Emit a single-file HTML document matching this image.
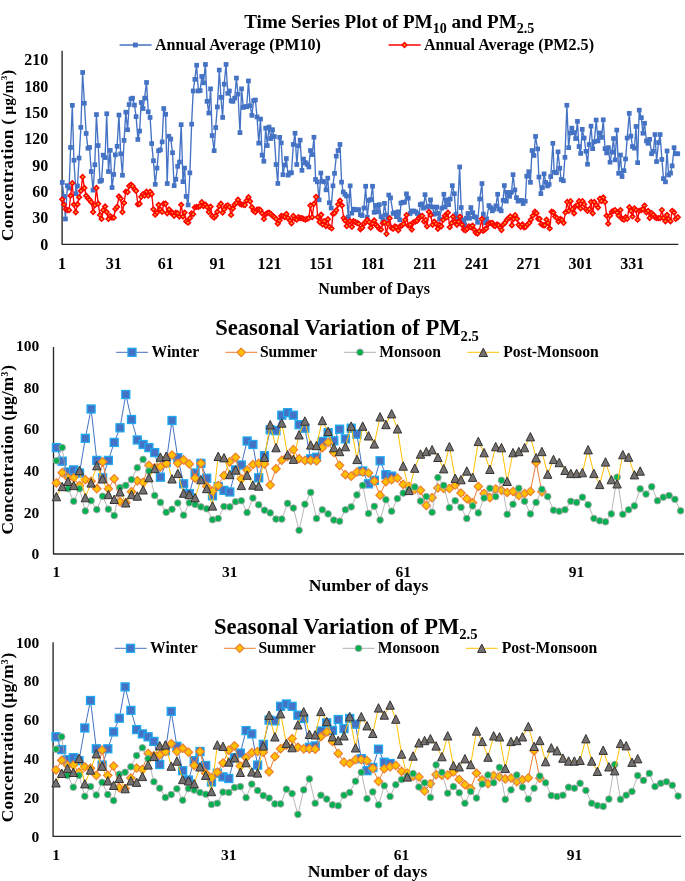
<!DOCTYPE html>
<html lang="en"><head><meta charset="utf-8"><title>PM10 and PM2.5 charts</title>
<style>
html,body{margin:0;padding:0;background:#fff;}
body{width:685px;height:881px;overflow:hidden;}
svg{display:block;}
text{font-family:"Liberation Serif", "Times New Roman", serif;font-weight:bold;fill:#000;}
.t1{font-size:19.1px;}
.t2{font-size:22.6px;}
.lg1{font-size:16.1px;}
.lg2{font-size:15.65px;}
.tk{font-size:16px;}
.tk2{font-size:15.5px;}
.ax1{font-size:16px;}
.ax2{font-size:17.55px;}
.ay1{font-size:17.35px;}
.ay2{font-size:17.33px;}
</style></head><body>
<svg width="685" height="881" viewBox="0 0 685 881">
<rect x="0" y="0" width="685" height="881" fill="#ffffff"/>
<g id="chart1">
<text class="t1" x="389.2" y="27.6" text-anchor="middle">Time Series Plot of PM<tspan dy="5.3" font-size="14px">10</tspan><tspan dy="-5.3"> and PM</tspan><tspan dy="5.3" font-size="14px">2.5</tspan></text>
<line x1="119.6" y1="45" x2="151.6" y2="45" stroke="#4472C4" stroke-width="1.5"/>
<rect x="133" y="42.6" width="4.8" height="4.8" fill="#4472C4"/>
<text class="lg1" x="155" y="49.9">Annual Average (PM10)</text>
<line x1="388.6" y1="45" x2="420.7" y2="45" stroke="#FF0000" stroke-width="1.5"/>
<path d="M404.5,42.65 l2.35,2.35 l-2.35,2.35 l-2.35,-2.35 z" fill="#F2A122" stroke="#FF0000" stroke-width="1.5"/>
<text class="lg1" x="424" y="49.9">Annual Average (PM2.5)</text>
<polyline points="62.1,50.8 62.1,244.35 678.3,244.35" fill="none" stroke="#262626" stroke-width="1.35" stroke-linejoin="round"/>
<text class="tk" x="48.3" y="249.8" text-anchor="end">0</text>
<text class="tk" x="48.3" y="223.4" text-anchor="end">30</text>
<text class="tk" x="48.3" y="197.1" text-anchor="end">60</text>
<text class="tk" x="48.3" y="170.7" text-anchor="end">90</text>
<text class="tk" x="48.3" y="144.4" text-anchor="end">120</text>
<text class="tk" x="48.3" y="118" text-anchor="end">150</text>
<text class="tk" x="48.3" y="91.7" text-anchor="end">180</text>
<text class="tk" x="48.3" y="65.3" text-anchor="end">210</text>
<text class="tk" x="62" y="268.6" text-anchor="middle">1</text>
<text class="tk" x="113.8" y="268.6" text-anchor="middle">31</text>
<text class="tk" x="165.7" y="268.6" text-anchor="middle">61</text>
<text class="tk" x="217.5" y="268.6" text-anchor="middle">91</text>
<text class="tk" x="269.4" y="268.6" text-anchor="middle">121</text>
<text class="tk" x="321.2" y="268.6" text-anchor="middle">151</text>
<text class="tk" x="373.1" y="268.6" text-anchor="middle">181</text>
<text class="tk" x="424.9" y="268.6" text-anchor="middle">211</text>
<text class="tk" x="476.8" y="268.6" text-anchor="middle">241</text>
<text class="tk" x="528.6" y="268.6" text-anchor="middle">271</text>
<text class="tk" x="580.5" y="268.6" text-anchor="middle">301</text>
<text class="tk" x="632.3" y="268.6" text-anchor="middle">331</text>
<text class="ax1" x="374.2" y="293.8" text-anchor="middle">Number of Days</text>
<text class="ay1" transform="translate(12.6,241.1) rotate(-90)"><tspan letter-spacing="0.38">Concentration</tspan> ( <tspan font-size="15.4px" letter-spacing="0.2">µg/m</tspan><tspan dy="-5.5" font-size="9px" letter-spacing="0.4">3</tspan><tspan dy="5.5">)</tspan></text>
<polyline points="62.2,182.5 64,196.4 65.4,218.9 67.4,185.7 69.1,188.1 70.6,147.4 72.3,105.4 73.9,160.3 76,193.7 77.5,186 79.1,158 80.9,127.4 82.6,72.5 84.4,103.3 86.2,133.5 87.9,148.2 89.5,147.4 91.3,171.5 93.1,190.2 94.8,164.8 96.4,114.5 98.2,145.5 100,181.3 101.6,180.4 103.2,155.2 105.1,157.6 106.7,113.7 108.5,171.5 110.2,150.3 112,187.6 113.8,174.4 115.4,154.8 117.1,146.3 118.9,115 120.7,153.9 122.4,175.2 124.1,140.4 125.8,112.1 127.6,129.8 129.2,104.6 131,98.9 132.6,98.1 134.5,105.1 136.1,116.6 137.9,139.4 139.6,131.1 141.2,102.5 143,108.6 144.6,98.1 146.5,82.4 148.3,111.8 150.1,117.4 151.7,143.6 153.4,160.8 155.2,184.4 157,168 158.6,150.7 160.3,149.9 162.1,141.8 163.7,108.6 165.6,114.2 167.2,183.6 168.8,136.2 170.8,139.1 172.5,152.7 174.1,185.7 175.9,179.2 177.7,166.4 179.4,162.1 181.2,124.6 183,181.6 184.6,168 186.2,196.4 188.1,204.9 189.9,172.8 191.6,124.2 193.2,90.9 194.8,79.4 196.6,65.2 198.4,90.9 200.1,90.6 201.8,76.5 203.5,82.9 205.4,64.4 207.1,101.4 208.8,113.1 210.6,88.8 212.2,135.6 214.1,150.7 215.7,127.5 217.3,107 219.3,70 220.9,97.3 222.6,117.4 224.2,84.2 226,64.4 227.8,93.3 229.4,90.9 231.1,100.9 232.9,101.4 234.7,98.1 236.4,78.1 238,94.1 240,132.7 241.6,88.8 243.3,107.5 244.9,106.7 246.7,106.7 248.5,81 250.1,105.7 251.9,115.3 253.6,100.6 255.4,100.1 257,116.9 258.8,143.1 260.5,119 262.1,155.2 263.9,161.3 265.7,128.2 267.3,145.5 269,127.1 270.8,138.5 272.5,129.7 274.3,136.6 276.1,164.5 277.8,183.5 279.6,137.4 281.2,142.8 283,174.6 284.8,165 286.4,158.6 288.1,175.1 289.9,173 291.5,172.7 293.3,144.5 295,133.2 296.8,164.5 298.4,145.7 300.2,140.1 301.9,170.3 303.5,159.1 305.3,162.6 307.1,164.2 308.8,166.9 310.4,150.6 312.2,154.6 314,137.2 315.6,179.5 317.4,181.9 319.1,199.9 320.9,173 322.5,181.4 324.3,181.9 326,189.9 327.8,178.2 329.4,202.7 331.2,208 332.9,185.9 334.5,173.4 336.3,156.2 338.1,150.6 340,144.5 341.6,182.2 343.2,192 345,194.2 346.6,196 348.3,217.2 350.1,185.9 351.9,213.2 353.5,209.2 355.2,209.6 357,210 358.6,209.6 360.4,214.8 362.2,215.6 363.9,208 365.7,186.2 367.3,217.2 369.1,200.3 370.7,199.5 372.6,186.2 374.2,212.4 375.9,205.4 377.5,211.9 379.3,204.6 381.1,216.7 382.8,219.9 384.5,203.4 386.2,215.1 388,218.3 388.8,195 390.6,197.9 393.1,213.5 394.9,212.7 396.5,216.7 398.3,211.9 399.7,219.9 401,203 402.9,202.2 404.5,202.2 406.5,193.9 408.2,198.2 410.1,213.5 412.1,211.1 413.8,211.1 415.6,211.9 417.4,213.5 419,215.1 420.3,204.6 421.9,203.8 423.5,208.2 425.1,194.7 427.3,207.1 428.9,206.2 430.5,199.8 432.6,207.1 434.2,214.3 436.6,207.1 437.9,213.5 439.5,219.1 441.8,208.2 443.9,194.2 445.2,207.1 446.6,199.8 448.7,204.6 450.3,199 452.4,185.7 454.3,193.7 455.9,214.3 457.2,218.3 459.6,166.9 461.2,207.5 462.8,219.9 464.7,224.7 466.4,218.3 468,213.5 469.6,218.3 470.8,207.5 472.8,212.7 474.4,216.7 476,217.5 477.6,222.3 479.7,199 481.9,183.5 483.4,214 485.4,222.8 486.6,218.8 489,205.5 490.6,207.6 492.3,210.8 493.9,209.2 495.9,206 497.6,194.3 499.1,209.2 501.2,210.8 503.1,200.4 504.4,185.6 506.3,201.2 507.6,192.3 509.5,196.4 511.5,192.3 513.1,174.7 514.8,189.9 516.4,197.6 518,201.2 519.6,200.4 521.6,200.4 523.2,203.6 525.3,201.2 526.7,176.3 528.8,171.8 530.4,182.4 532,150.6 533.9,155.4 535.5,136.5 537.6,149 538.9,177.1 540.8,193.6 542.4,187.5 544.1,173.9 545.7,182.4 547.6,185.9 549.2,184.3 550.8,176.6 552.9,143.4 554.2,172.3 556.4,172.7 558,151.9 559.8,168.2 561.2,179.5 563.3,180.8 564.9,157.3 566.9,105.3 568.6,147.7 570.2,132.9 571.8,128.1 573.8,132.6 575.7,138.5 577.4,121.4 579,146.6 580.6,153.5 582.2,129.4 584.2,138.1 585.9,151.4 587.5,164.2 589.1,144.5 591.1,126.2 592.7,148.7 594.3,141.8 596.2,120.1 598,140.9 599.9,132.9 601.5,137.4 603.3,119.8 605,148.7 606.6,153 608.4,147.7 610,162.1 611.9,152.2 613.5,138.5 615.1,159.9 616.8,130 618.7,173.4 620.4,155.1 622.1,176.6 624,170.7 625.6,158.9 627.2,138.1 629.3,113.3 630.9,136.1 632.5,146.6 634.4,148.2 636,126.5 637.6,162.6 639.2,110.1 641.3,117.7 642.9,133.2 644.5,123.3 646.5,140.9 648.1,143.4 649.7,139.3 651.6,153.8 653.4,151.4 655,134.5 656.6,161.5 658.5,142.6 660.1,134.5 661.9,159.4 663.5,178.7 665.4,181.9 667,150.9 668.6,175 670.5,173.1 672.2,165.8 674.1,147.7 675.7,153.8 677.8,153.8" fill="none" stroke="#4472C4" stroke-width="1.35" stroke-linejoin="round" />
<g fill="#4472C4">
<rect x="59.9" y="180.1" width="4.7" height="4.7"/>
<rect x="61.6" y="194.1" width="4.7" height="4.7"/>
<rect x="63.1" y="216.6" width="4.7" height="4.7"/>
<rect x="65" y="183.3" width="4.7" height="4.7"/>
<rect x="66.8" y="185.7" width="4.7" height="4.7"/>
<rect x="68.2" y="145.1" width="4.7" height="4.7"/>
<rect x="70" y="103" width="4.7" height="4.7"/>
<rect x="71.6" y="157.9" width="4.7" height="4.7"/>
<rect x="73.7" y="191.3" width="4.7" height="4.7"/>
<rect x="75.1" y="183.6" width="4.7" height="4.7"/>
<rect x="76.7" y="155.7" width="4.7" height="4.7"/>
<rect x="78.5" y="125" width="4.7" height="4.7"/>
<rect x="80.3" y="70.1" width="4.7" height="4.7"/>
<rect x="82" y="100.9" width="4.7" height="4.7"/>
<rect x="83.8" y="131.1" width="4.7" height="4.7"/>
<rect x="85.6" y="145.9" width="4.7" height="4.7"/>
<rect x="87.2" y="145.1" width="4.7" height="4.7"/>
<rect x="88.9" y="169.2" width="4.7" height="4.7"/>
<rect x="90.7" y="187.8" width="4.7" height="4.7"/>
<rect x="92.5" y="162.4" width="4.7" height="4.7"/>
<rect x="94.1" y="112.2" width="4.7" height="4.7"/>
<rect x="95.8" y="143.2" width="4.7" height="4.7"/>
<rect x="97.6" y="179" width="4.7" height="4.7"/>
<rect x="99.2" y="178" width="4.7" height="4.7"/>
<rect x="100.8" y="152.8" width="4.7" height="4.7"/>
<rect x="102.8" y="155.2" width="4.7" height="4.7"/>
<rect x="104.4" y="111.4" width="4.7" height="4.7"/>
<rect x="106.1" y="169.2" width="4.7" height="4.7"/>
<rect x="107.9" y="148" width="4.7" height="4.7"/>
<rect x="109.7" y="185.2" width="4.7" height="4.7"/>
<rect x="111.4" y="172.1" width="4.7" height="4.7"/>
<rect x="113" y="152.5" width="4.7" height="4.7"/>
<rect x="114.8" y="144" width="4.7" height="4.7"/>
<rect x="116.6" y="112.7" width="4.7" height="4.7"/>
<rect x="118.3" y="151.5" width="4.7" height="4.7"/>
<rect x="120.1" y="172.9" width="4.7" height="4.7"/>
<rect x="121.7" y="138" width="4.7" height="4.7"/>
<rect x="123.5" y="109.8" width="4.7" height="4.7"/>
<rect x="125.2" y="127.4" width="4.7" height="4.7"/>
<rect x="126.8" y="102.2" width="4.7" height="4.7"/>
<rect x="128.6" y="96.6" width="4.7" height="4.7"/>
<rect x="130.2" y="95.8" width="4.7" height="4.7"/>
<rect x="132.1" y="102.7" width="4.7" height="4.7"/>
<rect x="133.7" y="114.3" width="4.7" height="4.7"/>
<rect x="135.5" y="137.1" width="4.7" height="4.7"/>
<rect x="137.3" y="128.7" width="4.7" height="4.7"/>
<rect x="138.9" y="100.1" width="4.7" height="4.7"/>
<rect x="140.7" y="106.2" width="4.7" height="4.7"/>
<rect x="142.3" y="95.8" width="4.7" height="4.7"/>
<rect x="144.2" y="80.1" width="4.7" height="4.7"/>
<rect x="145.9" y="109.4" width="4.7" height="4.7"/>
<rect x="147.7" y="115.1" width="4.7" height="4.7"/>
<rect x="149.3" y="141.2" width="4.7" height="4.7"/>
<rect x="151.1" y="158.4" width="4.7" height="4.7"/>
<rect x="152.9" y="182" width="4.7" height="4.7"/>
<rect x="154.6" y="165.7" width="4.7" height="4.7"/>
<rect x="156.2" y="148.3" width="4.7" height="4.7"/>
<rect x="158" y="147.5" width="4.7" height="4.7"/>
<rect x="159.8" y="139.5" width="4.7" height="4.7"/>
<rect x="161.4" y="106.2" width="4.7" height="4.7"/>
<rect x="163.3" y="111.9" width="4.7" height="4.7"/>
<rect x="164.9" y="181.2" width="4.7" height="4.7"/>
<rect x="166.5" y="133.9" width="4.7" height="4.7"/>
<rect x="168.4" y="136.7" width="4.7" height="4.7"/>
<rect x="170.2" y="150.4" width="4.7" height="4.7"/>
<rect x="171.8" y="183.3" width="4.7" height="4.7"/>
<rect x="173.5" y="176.9" width="4.7" height="4.7"/>
<rect x="175.3" y="164" width="4.7" height="4.7"/>
<rect x="177.1" y="159.7" width="4.7" height="4.7"/>
<rect x="178.8" y="122.3" width="4.7" height="4.7"/>
<rect x="180.6" y="179.3" width="4.7" height="4.7"/>
<rect x="182.2" y="165.7" width="4.7" height="4.7"/>
<rect x="183.8" y="194.1" width="4.7" height="4.7"/>
<rect x="185.8" y="202.6" width="4.7" height="4.7"/>
<rect x="187.5" y="170.5" width="4.7" height="4.7"/>
<rect x="189.3" y="121.8" width="4.7" height="4.7"/>
<rect x="190.9" y="88.6" width="4.7" height="4.7"/>
<rect x="192.5" y="77" width="4.7" height="4.7"/>
<rect x="194.3" y="62.9" width="4.7" height="4.7"/>
<rect x="196" y="88.6" width="4.7" height="4.7"/>
<rect x="197.8" y="88.2" width="4.7" height="4.7"/>
<rect x="199.4" y="74.1" width="4.7" height="4.7"/>
<rect x="201.2" y="80.5" width="4.7" height="4.7"/>
<rect x="203.1" y="62.1" width="4.7" height="4.7"/>
<rect x="204.7" y="99" width="4.7" height="4.7"/>
<rect x="206.5" y="110.7" width="4.7" height="4.7"/>
<rect x="208.2" y="86.5" width="4.7" height="4.7"/>
<rect x="209.8" y="133.2" width="4.7" height="4.7"/>
<rect x="211.8" y="148.3" width="4.7" height="4.7"/>
<rect x="213.4" y="125.2" width="4.7" height="4.7"/>
<rect x="215" y="104.6" width="4.7" height="4.7"/>
<rect x="216.9" y="67.7" width="4.7" height="4.7"/>
<rect x="218.5" y="95" width="4.7" height="4.7"/>
<rect x="220.3" y="115.1" width="4.7" height="4.7"/>
<rect x="221.9" y="81.8" width="4.7" height="4.7"/>
<rect x="223.7" y="62.1" width="4.7" height="4.7"/>
<rect x="225.4" y="91" width="4.7" height="4.7"/>
<rect x="227" y="88.6" width="4.7" height="4.7"/>
<rect x="228.8" y="98.5" width="4.7" height="4.7"/>
<rect x="230.6" y="99" width="4.7" height="4.7"/>
<rect x="232.3" y="95.8" width="4.7" height="4.7"/>
<rect x="234.1" y="75.7" width="4.7" height="4.7"/>
<rect x="235.7" y="91.8" width="4.7" height="4.7"/>
<rect x="237.6" y="130.3" width="4.7" height="4.7"/>
<rect x="239.2" y="86.5" width="4.7" height="4.7"/>
<rect x="241" y="105.1" width="4.7" height="4.7"/>
<rect x="242.6" y="104.3" width="4.7" height="4.7"/>
<rect x="244.4" y="104.3" width="4.7" height="4.7"/>
<rect x="246.1" y="78.6" width="4.7" height="4.7"/>
<rect x="247.7" y="103.3" width="4.7" height="4.7"/>
<rect x="249.5" y="113" width="4.7" height="4.7"/>
<rect x="251.3" y="98.2" width="4.7" height="4.7"/>
<rect x="253" y="97.7" width="4.7" height="4.7"/>
<rect x="254.6" y="114.6" width="4.7" height="4.7"/>
<rect x="256.4" y="140.8" width="4.7" height="4.7"/>
<rect x="258.2" y="116.7" width="4.7" height="4.7"/>
<rect x="259.8" y="152.8" width="4.7" height="4.7"/>
<rect x="261.5" y="158.9" width="4.7" height="4.7"/>
<rect x="263.3" y="125.8" width="4.7" height="4.7"/>
<rect x="264.9" y="143.2" width="4.7" height="4.7"/>
<rect x="266.7" y="124.7" width="4.7" height="4.7"/>
<rect x="268.4" y="136.2" width="4.7" height="4.7"/>
<rect x="270.2" y="127.3" width="4.7" height="4.7"/>
<rect x="272" y="134.2" width="4.7" height="4.7"/>
<rect x="273.7" y="162.2" width="4.7" height="4.7"/>
<rect x="275.5" y="181.1" width="4.7" height="4.7"/>
<rect x="277.3" y="135" width="4.7" height="4.7"/>
<rect x="278.9" y="140.5" width="4.7" height="4.7"/>
<rect x="280.6" y="172.3" width="4.7" height="4.7"/>
<rect x="282.4" y="162.7" width="4.7" height="4.7"/>
<rect x="284" y="156.2" width="4.7" height="4.7"/>
<rect x="285.8" y="172.8" width="4.7" height="4.7"/>
<rect x="287.5" y="170.7" width="4.7" height="4.7"/>
<rect x="289.1" y="170.4" width="4.7" height="4.7"/>
<rect x="290.9" y="142.1" width="4.7" height="4.7"/>
<rect x="292.7" y="130.9" width="4.7" height="4.7"/>
<rect x="294.4" y="162.2" width="4.7" height="4.7"/>
<rect x="296.1" y="143.4" width="4.7" height="4.7"/>
<rect x="297.8" y="137.8" width="4.7" height="4.7"/>
<rect x="299.6" y="168" width="4.7" height="4.7"/>
<rect x="301.2" y="156.7" width="4.7" height="4.7"/>
<rect x="303" y="160.2" width="4.7" height="4.7"/>
<rect x="304.7" y="161.9" width="4.7" height="4.7"/>
<rect x="306.5" y="164.6" width="4.7" height="4.7"/>
<rect x="308.1" y="148.2" width="4.7" height="4.7"/>
<rect x="309.9" y="152.2" width="4.7" height="4.7"/>
<rect x="311.6" y="134.9" width="4.7" height="4.7"/>
<rect x="313.2" y="177.1" width="4.7" height="4.7"/>
<rect x="315" y="179.5" width="4.7" height="4.7"/>
<rect x="316.8" y="197.5" width="4.7" height="4.7"/>
<rect x="318.5" y="170.7" width="4.7" height="4.7"/>
<rect x="320.1" y="179" width="4.7" height="4.7"/>
<rect x="321.9" y="179.5" width="4.7" height="4.7"/>
<rect x="323.7" y="187.5" width="4.7" height="4.7"/>
<rect x="325.4" y="175.8" width="4.7" height="4.7"/>
<rect x="327" y="200.4" width="4.7" height="4.7"/>
<rect x="328.8" y="205.7" width="4.7" height="4.7"/>
<rect x="330.6" y="183.5" width="4.7" height="4.7"/>
<rect x="332.2" y="171" width="4.7" height="4.7"/>
<rect x="333.9" y="153.8" width="4.7" height="4.7"/>
<rect x="335.7" y="148.2" width="4.7" height="4.7"/>
<rect x="337.6" y="142.1" width="4.7" height="4.7"/>
<rect x="339.2" y="179.8" width="4.7" height="4.7"/>
<rect x="340.9" y="189.6" width="4.7" height="4.7"/>
<rect x="342.6" y="191.9" width="4.7" height="4.7"/>
<rect x="344.2" y="193.7" width="4.7" height="4.7"/>
<rect x="346" y="214.8" width="4.7" height="4.7"/>
<rect x="347.8" y="183.5" width="4.7" height="4.7"/>
<rect x="349.5" y="210.8" width="4.7" height="4.7"/>
<rect x="351.1" y="206.8" width="4.7" height="4.7"/>
<rect x="352.9" y="207.3" width="4.7" height="4.7"/>
<rect x="354.7" y="207.6" width="4.7" height="4.7"/>
<rect x="356.3" y="207.3" width="4.7" height="4.7"/>
<rect x="358" y="212.4" width="4.7" height="4.7"/>
<rect x="359.8" y="213.2" width="4.7" height="4.7"/>
<rect x="361.6" y="205.7" width="4.7" height="4.7"/>
<rect x="363.3" y="183.9" width="4.7" height="4.7"/>
<rect x="364.9" y="214.8" width="4.7" height="4.7"/>
<rect x="366.7" y="198" width="4.7" height="4.7"/>
<rect x="368.3" y="197.2" width="4.7" height="4.7"/>
<rect x="370.2" y="183.9" width="4.7" height="4.7"/>
<rect x="371.8" y="210" width="4.7" height="4.7"/>
<rect x="373.6" y="203.1" width="4.7" height="4.7"/>
<rect x="375.2" y="209.5" width="4.7" height="4.7"/>
<rect x="377" y="202.3" width="4.7" height="4.7"/>
<rect x="378.7" y="214.3" width="4.7" height="4.7"/>
<rect x="380.5" y="217.5" width="4.7" height="4.7"/>
<rect x="382.1" y="201" width="4.7" height="4.7"/>
<rect x="383.9" y="212.7" width="4.7" height="4.7"/>
<rect x="385.6" y="215.9" width="4.7" height="4.7"/>
<rect x="386.4" y="192.7" width="4.7" height="4.7"/>
<rect x="388.2" y="195.5" width="4.7" height="4.7"/>
<rect x="390.8" y="211.1" width="4.7" height="4.7"/>
<rect x="392.5" y="210.3" width="4.7" height="4.7"/>
<rect x="394.1" y="214.3" width="4.7" height="4.7"/>
<rect x="395.9" y="209.5" width="4.7" height="4.7"/>
<rect x="397.4" y="217.5" width="4.7" height="4.7"/>
<rect x="398.6" y="200.7" width="4.7" height="4.7"/>
<rect x="400.6" y="199.9" width="4.7" height="4.7"/>
<rect x="402.2" y="199.9" width="4.7" height="4.7"/>
<rect x="404.1" y="191.5" width="4.7" height="4.7"/>
<rect x="405.9" y="195.9" width="4.7" height="4.7"/>
<rect x="407.8" y="211.1" width="4.7" height="4.7"/>
<rect x="409.7" y="208.7" width="4.7" height="4.7"/>
<rect x="411.5" y="208.7" width="4.7" height="4.7"/>
<rect x="413.3" y="209.5" width="4.7" height="4.7"/>
<rect x="415" y="211.1" width="4.7" height="4.7"/>
<rect x="416.6" y="212.7" width="4.7" height="4.7"/>
<rect x="417.9" y="202.3" width="4.7" height="4.7"/>
<rect x="419.5" y="201.5" width="4.7" height="4.7"/>
<rect x="421.1" y="205.8" width="4.7" height="4.7"/>
<rect x="422.7" y="192.3" width="4.7" height="4.7"/>
<rect x="425" y="204.7" width="4.7" height="4.7"/>
<rect x="426.6" y="203.9" width="4.7" height="4.7"/>
<rect x="428.2" y="197.5" width="4.7" height="4.7"/>
<rect x="430.3" y="204.7" width="4.7" height="4.7"/>
<rect x="431.9" y="211.9" width="4.7" height="4.7"/>
<rect x="434.3" y="204.7" width="4.7" height="4.7"/>
<rect x="435.6" y="211.1" width="4.7" height="4.7"/>
<rect x="437.2" y="216.7" width="4.7" height="4.7"/>
<rect x="439.4" y="205.8" width="4.7" height="4.7"/>
<rect x="441.5" y="191.9" width="4.7" height="4.7"/>
<rect x="442.8" y="204.7" width="4.7" height="4.7"/>
<rect x="444.2" y="197.5" width="4.7" height="4.7"/>
<rect x="446.3" y="202.3" width="4.7" height="4.7"/>
<rect x="447.9" y="196.7" width="4.7" height="4.7"/>
<rect x="450" y="183.3" width="4.7" height="4.7"/>
<rect x="452" y="191.4" width="4.7" height="4.7"/>
<rect x="453.6" y="211.9" width="4.7" height="4.7"/>
<rect x="454.8" y="215.9" width="4.7" height="4.7"/>
<rect x="457.3" y="164.6" width="4.7" height="4.7"/>
<rect x="458.9" y="205.2" width="4.7" height="4.7"/>
<rect x="460.5" y="217.5" width="4.7" height="4.7"/>
<rect x="462.4" y="222.4" width="4.7" height="4.7"/>
<rect x="464" y="215.9" width="4.7" height="4.7"/>
<rect x="465.6" y="211.1" width="4.7" height="4.7"/>
<rect x="467.2" y="215.9" width="4.7" height="4.7"/>
<rect x="468.5" y="205.2" width="4.7" height="4.7"/>
<rect x="470.4" y="210.3" width="4.7" height="4.7"/>
<rect x="472" y="214.3" width="4.7" height="4.7"/>
<rect x="473.6" y="215.1" width="4.7" height="4.7"/>
<rect x="475.2" y="220" width="4.7" height="4.7"/>
<rect x="477.3" y="196.7" width="4.7" height="4.7"/>
<rect x="479.6" y="181.2" width="4.7" height="4.7"/>
<rect x="481" y="211.7" width="4.7" height="4.7"/>
<rect x="483.1" y="220.5" width="4.7" height="4.7"/>
<rect x="484.2" y="216.5" width="4.7" height="4.7"/>
<rect x="486.6" y="203.2" width="4.7" height="4.7"/>
<rect x="488.2" y="205.2" width="4.7" height="4.7"/>
<rect x="490" y="208.5" width="4.7" height="4.7"/>
<rect x="491.6" y="206.8" width="4.7" height="4.7"/>
<rect x="493.5" y="203.6" width="4.7" height="4.7"/>
<rect x="495.3" y="191.9" width="4.7" height="4.7"/>
<rect x="496.7" y="206.8" width="4.7" height="4.7"/>
<rect x="498.8" y="208.5" width="4.7" height="4.7"/>
<rect x="500.8" y="198" width="4.7" height="4.7"/>
<rect x="502" y="183.2" width="4.7" height="4.7"/>
<rect x="504" y="198.8" width="4.7" height="4.7"/>
<rect x="505.2" y="190" width="4.7" height="4.7"/>
<rect x="507.2" y="194" width="4.7" height="4.7"/>
<rect x="509.1" y="190" width="4.7" height="4.7"/>
<rect x="510.7" y="172.3" width="4.7" height="4.7"/>
<rect x="512.5" y="187.6" width="4.7" height="4.7"/>
<rect x="514.1" y="195.3" width="4.7" height="4.7"/>
<rect x="515.7" y="198.8" width="4.7" height="4.7"/>
<rect x="517.3" y="198" width="4.7" height="4.7"/>
<rect x="519.2" y="198" width="4.7" height="4.7"/>
<rect x="520.8" y="201.2" width="4.7" height="4.7"/>
<rect x="522.9" y="198.8" width="4.7" height="4.7"/>
<rect x="524.4" y="173.9" width="4.7" height="4.7"/>
<rect x="526.4" y="169.4" width="4.7" height="4.7"/>
<rect x="528.1" y="180" width="4.7" height="4.7"/>
<rect x="529.7" y="148.2" width="4.7" height="4.7"/>
<rect x="531.6" y="153.1" width="4.7" height="4.7"/>
<rect x="533.2" y="134.1" width="4.7" height="4.7"/>
<rect x="535.3" y="146.6" width="4.7" height="4.7"/>
<rect x="536.6" y="174.7" width="4.7" height="4.7"/>
<rect x="538.5" y="191.3" width="4.7" height="4.7"/>
<rect x="540.1" y="185.2" width="4.7" height="4.7"/>
<rect x="541.7" y="171.5" width="4.7" height="4.7"/>
<rect x="543.3" y="180" width="4.7" height="4.7"/>
<rect x="545.2" y="183.6" width="4.7" height="4.7"/>
<rect x="546.8" y="182" width="4.7" height="4.7"/>
<rect x="548.4" y="174.2" width="4.7" height="4.7"/>
<rect x="550.5" y="141" width="4.7" height="4.7"/>
<rect x="551.8" y="169.9" width="4.7" height="4.7"/>
<rect x="554.1" y="170.4" width="4.7" height="4.7"/>
<rect x="555.7" y="149.5" width="4.7" height="4.7"/>
<rect x="557.4" y="165.9" width="4.7" height="4.7"/>
<rect x="558.9" y="177.1" width="4.7" height="4.7"/>
<rect x="561" y="178.4" width="4.7" height="4.7"/>
<rect x="562.6" y="155" width="4.7" height="4.7"/>
<rect x="564.5" y="102.9" width="4.7" height="4.7"/>
<rect x="566.3" y="145.3" width="4.7" height="4.7"/>
<rect x="567.9" y="130.6" width="4.7" height="4.7"/>
<rect x="569.5" y="125.8" width="4.7" height="4.7"/>
<rect x="571.4" y="130.2" width="4.7" height="4.7"/>
<rect x="573.3" y="136.2" width="4.7" height="4.7"/>
<rect x="575.1" y="119" width="4.7" height="4.7"/>
<rect x="576.7" y="144.2" width="4.7" height="4.7"/>
<rect x="578.3" y="151.1" width="4.7" height="4.7"/>
<rect x="579.9" y="127" width="4.7" height="4.7"/>
<rect x="581.8" y="135.7" width="4.7" height="4.7"/>
<rect x="583.6" y="149" width="4.7" height="4.7"/>
<rect x="585.2" y="161.9" width="4.7" height="4.7"/>
<rect x="586.8" y="142.1" width="4.7" height="4.7"/>
<rect x="588.7" y="123.8" width="4.7" height="4.7"/>
<rect x="590.3" y="146.3" width="4.7" height="4.7"/>
<rect x="591.9" y="139.4" width="4.7" height="4.7"/>
<rect x="593.8" y="117.7" width="4.7" height="4.7"/>
<rect x="595.6" y="138.6" width="4.7" height="4.7"/>
<rect x="597.5" y="130.6" width="4.7" height="4.7"/>
<rect x="599.1" y="135.1" width="4.7" height="4.7"/>
<rect x="600.9" y="117.4" width="4.7" height="4.7"/>
<rect x="602.7" y="146.3" width="4.7" height="4.7"/>
<rect x="604.3" y="150.6" width="4.7" height="4.7"/>
<rect x="606.1" y="145.3" width="4.7" height="4.7"/>
<rect x="607.7" y="159.8" width="4.7" height="4.7"/>
<rect x="609.6" y="149.8" width="4.7" height="4.7"/>
<rect x="611.2" y="136.2" width="4.7" height="4.7"/>
<rect x="612.8" y="157.5" width="4.7" height="4.7"/>
<rect x="614.4" y="127.7" width="4.7" height="4.7"/>
<rect x="616.3" y="171" width="4.7" height="4.7"/>
<rect x="618.1" y="152.7" width="4.7" height="4.7"/>
<rect x="619.7" y="174.2" width="4.7" height="4.7"/>
<rect x="621.6" y="168.3" width="4.7" height="4.7"/>
<rect x="623.2" y="156.6" width="4.7" height="4.7"/>
<rect x="624.8" y="135.7" width="4.7" height="4.7"/>
<rect x="626.9" y="111" width="4.7" height="4.7"/>
<rect x="628.5" y="133.8" width="4.7" height="4.7"/>
<rect x="630.1" y="144.2" width="4.7" height="4.7"/>
<rect x="632.1" y="145.8" width="4.7" height="4.7"/>
<rect x="633.7" y="124.1" width="4.7" height="4.7"/>
<rect x="635.3" y="160.3" width="4.7" height="4.7"/>
<rect x="636.9" y="107.8" width="4.7" height="4.7"/>
<rect x="639" y="115.3" width="4.7" height="4.7"/>
<rect x="640.6" y="130.9" width="4.7" height="4.7"/>
<rect x="642.2" y="120.9" width="4.7" height="4.7"/>
<rect x="644.1" y="138.6" width="4.7" height="4.7"/>
<rect x="645.7" y="141" width="4.7" height="4.7"/>
<rect x="647.3" y="137" width="4.7" height="4.7"/>
<rect x="649.2" y="151.4" width="4.7" height="4.7"/>
<rect x="651" y="149" width="4.7" height="4.7"/>
<rect x="652.6" y="132.2" width="4.7" height="4.7"/>
<rect x="654.2" y="159.2" width="4.7" height="4.7"/>
<rect x="656.2" y="140.2" width="4.7" height="4.7"/>
<rect x="657.8" y="132.2" width="4.7" height="4.7"/>
<rect x="659.5" y="157.1" width="4.7" height="4.7"/>
<rect x="661.1" y="176.3" width="4.7" height="4.7"/>
<rect x="663.1" y="179.5" width="4.7" height="4.7"/>
<rect x="664.7" y="148.6" width="4.7" height="4.7"/>
<rect x="666.3" y="172.6" width="4.7" height="4.7"/>
<rect x="668.2" y="170.7" width="4.7" height="4.7"/>
<rect x="669.8" y="163.5" width="4.7" height="4.7"/>
<rect x="671.7" y="145.3" width="4.7" height="4.7"/>
<rect x="673.3" y="151.4" width="4.7" height="4.7"/>
<rect x="675.4" y="151.4" width="4.7" height="4.7"/>
</g>
<polyline points="62.2,199.4 64,204.5 65.8,209.3 67.4,210.1 69.1,210.1 70.6,195.7 72.3,183.2 73.9,204.5 75.7,212.2 77.5,204.2 79.1,197.3 80.9,190.9 82.6,176.9 84.4,188 86.2,195.7 87.9,198.1 89.5,199.7 91.3,202.1 93.1,212.1 94.8,205.3 96.4,188 98.2,203.7 100,215 101.6,219 103.2,210.1 105.1,206.5 106.7,212.1 108.5,219 110.2,216.1 112,217.7 113.8,217.7 115.4,209 117.1,206.9 118.9,196.5 120.7,198.6 122.4,212.1 124.1,202.9 125.8,191.7 127.6,192 129.2,186.1 131,184.8 132.6,186.1 134.5,189.3 136.1,190.9 137.9,204.2 139.6,203.7 141.2,196.8 143,194.1 144.6,195.7 146.5,191.7 148.3,195.7 150.1,191.7 151.7,194.1 153.4,209.3 155.2,214.6 157,212.6 158.6,204.8 160.3,209.3 162.1,211.8 163.7,203.7 165.6,203.7 167.2,213.4 169,209.3 170.8,212.6 172.5,212.6 174.1,215.8 175.9,212.6 177.7,213.4 179.4,216.6 181.2,204.8 183,216.6 184.6,212.6 186.2,221.4 188.1,222.7 189.9,218.2 191.6,213.4 193.2,214.2 194.8,207.4 196.6,206.9 198.4,206.9 200.1,206.1 201.8,202.1 203.5,206.1 205.4,204.5 207.1,206.9 208.8,212.1 210.6,206.6 212.2,216.1 214.1,217.7 215.7,215.8 217.3,211.8 219.3,206.1 220.9,203.7 222.6,212.6 224.2,209.3 226,206.1 227.8,205.3 229.4,206.9 231.1,215 232.9,208.5 234.7,204.5 236.4,202.9 238,199.7 240,203.7 241.6,204.5 243.3,204.5 244.9,205 246.7,200.5 248.5,197.3 250.1,201.3 251.9,207.3 253.6,210.9 255.4,212.1 257,209.7 258.8,209.3 260.5,210.1 262.1,213.4 263.9,219 265.7,214.2 267.3,213 269,212.6 270.8,214 272.5,215.9 274.3,217.2 276.1,218.8 277.8,223.6 279.6,220.4 281.2,215.9 283,216.4 284.8,217.2 286.4,214 288.1,218 289.9,220.4 291.5,223.3 293.3,215.9 295,218.8 296.8,219.6 298.4,217.2 300.2,218 301.9,218 303.5,218.8 305.3,219.6 307.1,218.8 308.8,218 310.4,205.5 312.2,217.2 314,203.9 316.1,196.8 317.7,217.2 319.6,222 321.2,214.8 322.6,224.4 324.3,221.2 326,226 327.9,219.3 329.4,226.8 331.6,228.4 332.9,214 334.5,213.2 336.3,210.3 338.2,204.4 340,200.7 341.9,205.5 343.7,218 345,220.4 346.7,226 348.3,222.3 350.1,221.2 351.9,226.8 353.5,221.2 355.2,222 357,222.8 358.6,223.6 360.4,229.2 362.2,227.6 363.9,223.6 365.7,222 367.3,219.9 369.1,222 370.7,227.6 372.6,223.6 374.2,220.4 375.9,224.7 377.5,226.3 379.3,228.7 381.1,229.5 382.8,223.1 384.5,222.3 386.5,233.9 388,223.9 389.6,218.3 391.4,227.9 393.1,228.7 394.9,226.3 396.5,227.1 398.3,230.3 400,226.3 401.8,225.5 403.4,223.9 405.2,219.9 406.5,215.1 408.2,225.5 410.1,224.7 411.8,229.5 413.4,222.3 415.3,221.5 417.1,220.7 418.7,218.3 420.6,216.7 422.2,215.9 424.1,221.5 425.7,219.9 427,226.3 428.9,211.9 430.7,215.1 432.6,224.7 434.2,221.5 436.2,223.9 437.9,228.7 439.5,224.7 441.3,226.3 443.1,219.9 444.8,215.9 446.6,217.5 447.9,212.7 449.8,227.1 451.6,223.1 453,216.7 455.1,221.5 456.9,224.7 458.5,221.5 459.9,216.7 462,224.7 463.8,229.5 465.5,230.3 467.2,228.7 468.9,226.3 470.7,227.1 472.5,225.5 474.1,229.5 475.8,232.7 477.6,233.5 479.2,231.1 481.9,218.8 483,230.9 484.6,229.8 486.2,228.5 488.2,224.1 489.9,222.8 492.2,222.8 493.5,225.3 495.1,226.1 497,224.5 498.6,225.3 500.2,227.7 501.5,230.1 503.4,224.5 505,222.8 506.8,220 508.6,218 510.3,216.4 511.9,225.3 513.7,218.8 515.1,215.1 517.1,218.8 518.7,224.8 520.6,226.9 522.4,224.5 524,227.3 525.7,226.9 527.5,224.5 529.3,222.8 530.9,219.6 532.8,215.6 534.9,211.6 536.5,213.2 538.1,218.8 539.6,218.8 541.3,224.1 543.1,225.3 544.7,225.3 546.5,219.6 548.1,222.8 549.7,228.5 551.6,211.6 553.4,212.4 555.1,216.4 556.9,218 558.5,221.6 560.3,218.8 561.9,220 563.6,222.8 565.4,212.4 567.2,202 568.9,210.8 570.5,201.2 572.3,209.2 574.1,213.2 575.8,206 577.4,205.2 579,201.2 580.6,208.4 582.5,201.2 584.2,204.4 585.9,209.2 587.5,210.8 589.5,209.2 591.1,202 592.7,213.2 594.3,202 596.2,205.2 598,207.6 599.9,198.8 601.5,201.2 603.3,197.5 605,202 606.6,215.6 608.2,223.6 610,215.6 611.9,211.6 613.5,210.8 615.1,210 617.1,212.4 618.7,215.6 620.4,210 622.1,218.8 624,219.6 625.6,217.2 627.2,218.8 629.3,207.1 630.9,210.8 632.5,216.4 634.4,208.4 636,210 637.6,219.6 639.2,210.8 641.3,210 642.9,209.2 644.5,205.5 646.5,212.4 648.1,210.8 649.7,218 651.6,213.2 653.4,214.8 655,217.2 656.6,218 658.5,218 660.1,218 661.9,210 663.5,218 665.4,221.2 667,214.8 668.6,218.8 670.5,221.2 672.2,210.8 674.1,212.4 675.7,218.8 677.8,217.2" fill="none" stroke="#FF0000" stroke-width="1.35" stroke-linejoin="round" />
<g fill="#F2A122" stroke="#FF0000" stroke-width="1.5">
<path d="M62.2,197 l2.35,2.35 l-2.35,2.35 l-2.35,-2.35 z"/>
<path d="M64,202.2 l2.35,2.35 l-2.35,2.35 l-2.35,-2.35 z"/>
<path d="M65.8,207 l2.35,2.35 l-2.35,2.35 l-2.35,-2.35 z"/>
<path d="M67.4,207.8 l2.35,2.35 l-2.35,2.35 l-2.35,-2.35 z"/>
<path d="M69.1,207.8 l2.35,2.35 l-2.35,2.35 l-2.35,-2.35 z"/>
<path d="M70.6,193.3 l2.35,2.35 l-2.35,2.35 l-2.35,-2.35 z"/>
<path d="M72.3,180.8 l2.35,2.35 l-2.35,2.35 l-2.35,-2.35 z"/>
<path d="M73.9,202.2 l2.35,2.35 l-2.35,2.35 l-2.35,-2.35 z"/>
<path d="M75.7,209.9 l2.35,2.35 l-2.35,2.35 l-2.35,-2.35 z"/>
<path d="M77.5,201.9 l2.35,2.35 l-2.35,2.35 l-2.35,-2.35 z"/>
<path d="M79.1,194.9 l2.35,2.35 l-2.35,2.35 l-2.35,-2.35 z"/>
<path d="M80.9,188.5 l2.35,2.35 l-2.35,2.35 l-2.35,-2.35 z"/>
<path d="M82.6,174.6 l2.35,2.35 l-2.35,2.35 l-2.35,-2.35 z"/>
<path d="M84.4,185.6 l2.35,2.35 l-2.35,2.35 l-2.35,-2.35 z"/>
<path d="M86.2,193.3 l2.35,2.35 l-2.35,2.35 l-2.35,-2.35 z"/>
<path d="M87.9,195.8 l2.35,2.35 l-2.35,2.35 l-2.35,-2.35 z"/>
<path d="M89.5,197.4 l2.35,2.35 l-2.35,2.35 l-2.35,-2.35 z"/>
<path d="M91.3,199.8 l2.35,2.35 l-2.35,2.35 l-2.35,-2.35 z"/>
<path d="M93.1,209.7 l2.35,2.35 l-2.35,2.35 l-2.35,-2.35 z"/>
<path d="M94.8,203 l2.35,2.35 l-2.35,2.35 l-2.35,-2.35 z"/>
<path d="M96.4,185.6 l2.35,2.35 l-2.35,2.35 l-2.35,-2.35 z"/>
<path d="M98.2,201.4 l2.35,2.35 l-2.35,2.35 l-2.35,-2.35 z"/>
<path d="M100,212.6 l2.35,2.35 l-2.35,2.35 l-2.35,-2.35 z"/>
<path d="M101.6,216.6 l2.35,2.35 l-2.35,2.35 l-2.35,-2.35 z"/>
<path d="M103.2,207.8 l2.35,2.35 l-2.35,2.35 l-2.35,-2.35 z"/>
<path d="M105.1,204.1 l2.35,2.35 l-2.35,2.35 l-2.35,-2.35 z"/>
<path d="M106.7,209.7 l2.35,2.35 l-2.35,2.35 l-2.35,-2.35 z"/>
<path d="M108.5,216.6 l2.35,2.35 l-2.35,2.35 l-2.35,-2.35 z"/>
<path d="M110.2,213.7 l2.35,2.35 l-2.35,2.35 l-2.35,-2.35 z"/>
<path d="M112,215.3 l2.35,2.35 l-2.35,2.35 l-2.35,-2.35 z"/>
<path d="M113.8,215.3 l2.35,2.35 l-2.35,2.35 l-2.35,-2.35 z"/>
<path d="M115.4,206.7 l2.35,2.35 l-2.35,2.35 l-2.35,-2.35 z"/>
<path d="M117.1,204.6 l2.35,2.35 l-2.35,2.35 l-2.35,-2.35 z"/>
<path d="M118.9,194.1 l2.35,2.35 l-2.35,2.35 l-2.35,-2.35 z"/>
<path d="M120.7,196.2 l2.35,2.35 l-2.35,2.35 l-2.35,-2.35 z"/>
<path d="M122.4,209.7 l2.35,2.35 l-2.35,2.35 l-2.35,-2.35 z"/>
<path d="M124.1,200.6 l2.35,2.35 l-2.35,2.35 l-2.35,-2.35 z"/>
<path d="M125.8,189.3 l2.35,2.35 l-2.35,2.35 l-2.35,-2.35 z"/>
<path d="M127.6,189.7 l2.35,2.35 l-2.35,2.35 l-2.35,-2.35 z"/>
<path d="M129.2,183.7 l2.35,2.35 l-2.35,2.35 l-2.35,-2.35 z"/>
<path d="M131,182.4 l2.35,2.35 l-2.35,2.35 l-2.35,-2.35 z"/>
<path d="M132.6,183.7 l2.35,2.35 l-2.35,2.35 l-2.35,-2.35 z"/>
<path d="M134.5,186.9 l2.35,2.35 l-2.35,2.35 l-2.35,-2.35 z"/>
<path d="M136.1,188.5 l2.35,2.35 l-2.35,2.35 l-2.35,-2.35 z"/>
<path d="M137.9,201.9 l2.35,2.35 l-2.35,2.35 l-2.35,-2.35 z"/>
<path d="M139.6,201.4 l2.35,2.35 l-2.35,2.35 l-2.35,-2.35 z"/>
<path d="M141.2,194.5 l2.35,2.35 l-2.35,2.35 l-2.35,-2.35 z"/>
<path d="M143,191.7 l2.35,2.35 l-2.35,2.35 l-2.35,-2.35 z"/>
<path d="M144.6,193.3 l2.35,2.35 l-2.35,2.35 l-2.35,-2.35 z"/>
<path d="M146.5,189.3 l2.35,2.35 l-2.35,2.35 l-2.35,-2.35 z"/>
<path d="M148.3,193.3 l2.35,2.35 l-2.35,2.35 l-2.35,-2.35 z"/>
<path d="M150.1,189.3 l2.35,2.35 l-2.35,2.35 l-2.35,-2.35 z"/>
<path d="M151.7,191.7 l2.35,2.35 l-2.35,2.35 l-2.35,-2.35 z"/>
<path d="M153.4,207 l2.35,2.35 l-2.35,2.35 l-2.35,-2.35 z"/>
<path d="M155.2,212.3 l2.35,2.35 l-2.35,2.35 l-2.35,-2.35 z"/>
<path d="M157,210.2 l2.35,2.35 l-2.35,2.35 l-2.35,-2.35 z"/>
<path d="M158.6,202.5 l2.35,2.35 l-2.35,2.35 l-2.35,-2.35 z"/>
<path d="M160.3,207 l2.35,2.35 l-2.35,2.35 l-2.35,-2.35 z"/>
<path d="M162.1,209.4 l2.35,2.35 l-2.35,2.35 l-2.35,-2.35 z"/>
<path d="M163.7,201.4 l2.35,2.35 l-2.35,2.35 l-2.35,-2.35 z"/>
<path d="M165.6,201.4 l2.35,2.35 l-2.35,2.35 l-2.35,-2.35 z"/>
<path d="M167.2,211 l2.35,2.35 l-2.35,2.35 l-2.35,-2.35 z"/>
<path d="M169,207 l2.35,2.35 l-2.35,2.35 l-2.35,-2.35 z"/>
<path d="M170.8,210.2 l2.35,2.35 l-2.35,2.35 l-2.35,-2.35 z"/>
<path d="M172.5,210.2 l2.35,2.35 l-2.35,2.35 l-2.35,-2.35 z"/>
<path d="M174.1,213.4 l2.35,2.35 l-2.35,2.35 l-2.35,-2.35 z"/>
<path d="M175.9,210.2 l2.35,2.35 l-2.35,2.35 l-2.35,-2.35 z"/>
<path d="M177.7,211 l2.35,2.35 l-2.35,2.35 l-2.35,-2.35 z"/>
<path d="M179.4,214.2 l2.35,2.35 l-2.35,2.35 l-2.35,-2.35 z"/>
<path d="M181.2,202.5 l2.35,2.35 l-2.35,2.35 l-2.35,-2.35 z"/>
<path d="M183,214.2 l2.35,2.35 l-2.35,2.35 l-2.35,-2.35 z"/>
<path d="M184.6,210.2 l2.35,2.35 l-2.35,2.35 l-2.35,-2.35 z"/>
<path d="M186.2,219 l2.35,2.35 l-2.35,2.35 l-2.35,-2.35 z"/>
<path d="M188.1,220.3 l2.35,2.35 l-2.35,2.35 l-2.35,-2.35 z"/>
<path d="M189.9,215.8 l2.35,2.35 l-2.35,2.35 l-2.35,-2.35 z"/>
<path d="M191.6,211 l2.35,2.35 l-2.35,2.35 l-2.35,-2.35 z"/>
<path d="M193.2,211.8 l2.35,2.35 l-2.35,2.35 l-2.35,-2.35 z"/>
<path d="M194.8,205.1 l2.35,2.35 l-2.35,2.35 l-2.35,-2.35 z"/>
<path d="M196.6,204.6 l2.35,2.35 l-2.35,2.35 l-2.35,-2.35 z"/>
<path d="M198.4,204.6 l2.35,2.35 l-2.35,2.35 l-2.35,-2.35 z"/>
<path d="M200.1,203.8 l2.35,2.35 l-2.35,2.35 l-2.35,-2.35 z"/>
<path d="M201.8,199.8 l2.35,2.35 l-2.35,2.35 l-2.35,-2.35 z"/>
<path d="M203.5,203.8 l2.35,2.35 l-2.35,2.35 l-2.35,-2.35 z"/>
<path d="M205.4,202.2 l2.35,2.35 l-2.35,2.35 l-2.35,-2.35 z"/>
<path d="M207.1,204.6 l2.35,2.35 l-2.35,2.35 l-2.35,-2.35 z"/>
<path d="M208.8,209.7 l2.35,2.35 l-2.35,2.35 l-2.35,-2.35 z"/>
<path d="M210.6,204.3 l2.35,2.35 l-2.35,2.35 l-2.35,-2.35 z"/>
<path d="M212.2,213.7 l2.35,2.35 l-2.35,2.35 l-2.35,-2.35 z"/>
<path d="M214.1,215.3 l2.35,2.35 l-2.35,2.35 l-2.35,-2.35 z"/>
<path d="M215.7,213.4 l2.35,2.35 l-2.35,2.35 l-2.35,-2.35 z"/>
<path d="M217.3,209.4 l2.35,2.35 l-2.35,2.35 l-2.35,-2.35 z"/>
<path d="M219.3,203.8 l2.35,2.35 l-2.35,2.35 l-2.35,-2.35 z"/>
<path d="M220.9,201.4 l2.35,2.35 l-2.35,2.35 l-2.35,-2.35 z"/>
<path d="M222.6,210.2 l2.35,2.35 l-2.35,2.35 l-2.35,-2.35 z"/>
<path d="M224.2,207 l2.35,2.35 l-2.35,2.35 l-2.35,-2.35 z"/>
<path d="M226,203.8 l2.35,2.35 l-2.35,2.35 l-2.35,-2.35 z"/>
<path d="M227.8,203 l2.35,2.35 l-2.35,2.35 l-2.35,-2.35 z"/>
<path d="M229.4,204.6 l2.35,2.35 l-2.35,2.35 l-2.35,-2.35 z"/>
<path d="M231.1,212.6 l2.35,2.35 l-2.35,2.35 l-2.35,-2.35 z"/>
<path d="M232.9,206.2 l2.35,2.35 l-2.35,2.35 l-2.35,-2.35 z"/>
<path d="M234.7,202.2 l2.35,2.35 l-2.35,2.35 l-2.35,-2.35 z"/>
<path d="M236.4,200.6 l2.35,2.35 l-2.35,2.35 l-2.35,-2.35 z"/>
<path d="M238,197.4 l2.35,2.35 l-2.35,2.35 l-2.35,-2.35 z"/>
<path d="M240,201.4 l2.35,2.35 l-2.35,2.35 l-2.35,-2.35 z"/>
<path d="M241.6,202.2 l2.35,2.35 l-2.35,2.35 l-2.35,-2.35 z"/>
<path d="M243.3,202.2 l2.35,2.35 l-2.35,2.35 l-2.35,-2.35 z"/>
<path d="M244.9,202.7 l2.35,2.35 l-2.35,2.35 l-2.35,-2.35 z"/>
<path d="M246.7,198.2 l2.35,2.35 l-2.35,2.35 l-2.35,-2.35 z"/>
<path d="M248.5,194.9 l2.35,2.35 l-2.35,2.35 l-2.35,-2.35 z"/>
<path d="M250.1,199 l2.35,2.35 l-2.35,2.35 l-2.35,-2.35 z"/>
<path d="M251.9,204.9 l2.35,2.35 l-2.35,2.35 l-2.35,-2.35 z"/>
<path d="M253.6,208.6 l2.35,2.35 l-2.35,2.35 l-2.35,-2.35 z"/>
<path d="M255.4,209.7 l2.35,2.35 l-2.35,2.35 l-2.35,-2.35 z"/>
<path d="M257,207.3 l2.35,2.35 l-2.35,2.35 l-2.35,-2.35 z"/>
<path d="M258.8,207 l2.35,2.35 l-2.35,2.35 l-2.35,-2.35 z"/>
<path d="M260.5,207.8 l2.35,2.35 l-2.35,2.35 l-2.35,-2.35 z"/>
<path d="M262.1,211 l2.35,2.35 l-2.35,2.35 l-2.35,-2.35 z"/>
<path d="M263.9,216.6 l2.35,2.35 l-2.35,2.35 l-2.35,-2.35 z"/>
<path d="M265.7,211.8 l2.35,2.35 l-2.35,2.35 l-2.35,-2.35 z"/>
<path d="M267.3,210.7 l2.35,2.35 l-2.35,2.35 l-2.35,-2.35 z"/>
<path d="M269,210.2 l2.35,2.35 l-2.35,2.35 l-2.35,-2.35 z"/>
<path d="M270.8,211.6 l2.35,2.35 l-2.35,2.35 l-2.35,-2.35 z"/>
<path d="M272.5,213.6 l2.35,2.35 l-2.35,2.35 l-2.35,-2.35 z"/>
<path d="M274.3,214.8 l2.35,2.35 l-2.35,2.35 l-2.35,-2.35 z"/>
<path d="M276.1,216.5 l2.35,2.35 l-2.35,2.35 l-2.35,-2.35 z"/>
<path d="M277.8,221.3 l2.35,2.35 l-2.35,2.35 l-2.35,-2.35 z"/>
<path d="M279.6,218.1 l2.35,2.35 l-2.35,2.35 l-2.35,-2.35 z"/>
<path d="M281.2,213.6 l2.35,2.35 l-2.35,2.35 l-2.35,-2.35 z"/>
<path d="M283,214 l2.35,2.35 l-2.35,2.35 l-2.35,-2.35 z"/>
<path d="M284.8,214.8 l2.35,2.35 l-2.35,2.35 l-2.35,-2.35 z"/>
<path d="M286.4,211.6 l2.35,2.35 l-2.35,2.35 l-2.35,-2.35 z"/>
<path d="M288.1,215.7 l2.35,2.35 l-2.35,2.35 l-2.35,-2.35 z"/>
<path d="M289.9,218.1 l2.35,2.35 l-2.35,2.35 l-2.35,-2.35 z"/>
<path d="M291.5,220.9 l2.35,2.35 l-2.35,2.35 l-2.35,-2.35 z"/>
<path d="M293.3,213.6 l2.35,2.35 l-2.35,2.35 l-2.35,-2.35 z"/>
<path d="M295,216.5 l2.35,2.35 l-2.35,2.35 l-2.35,-2.35 z"/>
<path d="M296.8,217.3 l2.35,2.35 l-2.35,2.35 l-2.35,-2.35 z"/>
<path d="M298.4,214.8 l2.35,2.35 l-2.35,2.35 l-2.35,-2.35 z"/>
<path d="M300.2,215.7 l2.35,2.35 l-2.35,2.35 l-2.35,-2.35 z"/>
<path d="M301.9,215.7 l2.35,2.35 l-2.35,2.35 l-2.35,-2.35 z"/>
<path d="M303.5,216.5 l2.35,2.35 l-2.35,2.35 l-2.35,-2.35 z"/>
<path d="M305.3,217.3 l2.35,2.35 l-2.35,2.35 l-2.35,-2.35 z"/>
<path d="M307.1,216.5 l2.35,2.35 l-2.35,2.35 l-2.35,-2.35 z"/>
<path d="M308.8,215.7 l2.35,2.35 l-2.35,2.35 l-2.35,-2.35 z"/>
<path d="M310.4,203.1 l2.35,2.35 l-2.35,2.35 l-2.35,-2.35 z"/>
<path d="M312.2,214.8 l2.35,2.35 l-2.35,2.35 l-2.35,-2.35 z"/>
<path d="M314,201.5 l2.35,2.35 l-2.35,2.35 l-2.35,-2.35 z"/>
<path d="M316.1,194.5 l2.35,2.35 l-2.35,2.35 l-2.35,-2.35 z"/>
<path d="M317.7,214.8 l2.35,2.35 l-2.35,2.35 l-2.35,-2.35 z"/>
<path d="M319.6,219.7 l2.35,2.35 l-2.35,2.35 l-2.35,-2.35 z"/>
<path d="M321.2,212.4 l2.35,2.35 l-2.35,2.35 l-2.35,-2.35 z"/>
<path d="M322.6,222.1 l2.35,2.35 l-2.35,2.35 l-2.35,-2.35 z"/>
<path d="M324.3,218.9 l2.35,2.35 l-2.35,2.35 l-2.35,-2.35 z"/>
<path d="M326,223.7 l2.35,2.35 l-2.35,2.35 l-2.35,-2.35 z"/>
<path d="M327.9,216.9 l2.35,2.35 l-2.35,2.35 l-2.35,-2.35 z"/>
<path d="M329.4,224.5 l2.35,2.35 l-2.35,2.35 l-2.35,-2.35 z"/>
<path d="M331.6,226.1 l2.35,2.35 l-2.35,2.35 l-2.35,-2.35 z"/>
<path d="M332.9,211.6 l2.35,2.35 l-2.35,2.35 l-2.35,-2.35 z"/>
<path d="M334.5,210.8 l2.35,2.35 l-2.35,2.35 l-2.35,-2.35 z"/>
<path d="M336.3,207.9 l2.35,2.35 l-2.35,2.35 l-2.35,-2.35 z"/>
<path d="M338.2,202 l2.35,2.35 l-2.35,2.35 l-2.35,-2.35 z"/>
<path d="M340,198.3 l2.35,2.35 l-2.35,2.35 l-2.35,-2.35 z"/>
<path d="M341.9,203.1 l2.35,2.35 l-2.35,2.35 l-2.35,-2.35 z"/>
<path d="M343.7,215.7 l2.35,2.35 l-2.35,2.35 l-2.35,-2.35 z"/>
<path d="M345,218.1 l2.35,2.35 l-2.35,2.35 l-2.35,-2.35 z"/>
<path d="M346.7,223.7 l2.35,2.35 l-2.35,2.35 l-2.35,-2.35 z"/>
<path d="M348.3,220 l2.35,2.35 l-2.35,2.35 l-2.35,-2.35 z"/>
<path d="M350.1,218.9 l2.35,2.35 l-2.35,2.35 l-2.35,-2.35 z"/>
<path d="M351.9,224.5 l2.35,2.35 l-2.35,2.35 l-2.35,-2.35 z"/>
<path d="M353.5,218.9 l2.35,2.35 l-2.35,2.35 l-2.35,-2.35 z"/>
<path d="M355.2,219.7 l2.35,2.35 l-2.35,2.35 l-2.35,-2.35 z"/>
<path d="M357,220.5 l2.35,2.35 l-2.35,2.35 l-2.35,-2.35 z"/>
<path d="M358.6,221.3 l2.35,2.35 l-2.35,2.35 l-2.35,-2.35 z"/>
<path d="M360.4,226.9 l2.35,2.35 l-2.35,2.35 l-2.35,-2.35 z"/>
<path d="M362.2,225.3 l2.35,2.35 l-2.35,2.35 l-2.35,-2.35 z"/>
<path d="M363.9,221.3 l2.35,2.35 l-2.35,2.35 l-2.35,-2.35 z"/>
<path d="M365.7,219.7 l2.35,2.35 l-2.35,2.35 l-2.35,-2.35 z"/>
<path d="M367.3,217.6 l2.35,2.35 l-2.35,2.35 l-2.35,-2.35 z"/>
<path d="M369.1,219.7 l2.35,2.35 l-2.35,2.35 l-2.35,-2.35 z"/>
<path d="M370.7,225.3 l2.35,2.35 l-2.35,2.35 l-2.35,-2.35 z"/>
<path d="M372.6,221.3 l2.35,2.35 l-2.35,2.35 l-2.35,-2.35 z"/>
<path d="M374.2,218.1 l2.35,2.35 l-2.35,2.35 l-2.35,-2.35 z"/>
<path d="M375.9,222.4 l2.35,2.35 l-2.35,2.35 l-2.35,-2.35 z"/>
<path d="M377.5,224 l2.35,2.35 l-2.35,2.35 l-2.35,-2.35 z"/>
<path d="M379.3,226.4 l2.35,2.35 l-2.35,2.35 l-2.35,-2.35 z"/>
<path d="M381.1,227.2 l2.35,2.35 l-2.35,2.35 l-2.35,-2.35 z"/>
<path d="M382.8,220.8 l2.35,2.35 l-2.35,2.35 l-2.35,-2.35 z"/>
<path d="M384.5,220 l2.35,2.35 l-2.35,2.35 l-2.35,-2.35 z"/>
<path d="M386.5,231.5 l2.35,2.35 l-2.35,2.35 l-2.35,-2.35 z"/>
<path d="M388,221.6 l2.35,2.35 l-2.35,2.35 l-2.35,-2.35 z"/>
<path d="M389.6,215.9 l2.35,2.35 l-2.35,2.35 l-2.35,-2.35 z"/>
<path d="M391.4,225.6 l2.35,2.35 l-2.35,2.35 l-2.35,-2.35 z"/>
<path d="M393.1,226.4 l2.35,2.35 l-2.35,2.35 l-2.35,-2.35 z"/>
<path d="M394.9,224 l2.35,2.35 l-2.35,2.35 l-2.35,-2.35 z"/>
<path d="M396.5,224.8 l2.35,2.35 l-2.35,2.35 l-2.35,-2.35 z"/>
<path d="M398.3,228 l2.35,2.35 l-2.35,2.35 l-2.35,-2.35 z"/>
<path d="M400,224 l2.35,2.35 l-2.35,2.35 l-2.35,-2.35 z"/>
<path d="M401.8,223.2 l2.35,2.35 l-2.35,2.35 l-2.35,-2.35 z"/>
<path d="M403.4,221.6 l2.35,2.35 l-2.35,2.35 l-2.35,-2.35 z"/>
<path d="M405.2,217.5 l2.35,2.35 l-2.35,2.35 l-2.35,-2.35 z"/>
<path d="M406.5,212.7 l2.35,2.35 l-2.35,2.35 l-2.35,-2.35 z"/>
<path d="M408.2,223.2 l2.35,2.35 l-2.35,2.35 l-2.35,-2.35 z"/>
<path d="M410.1,222.4 l2.35,2.35 l-2.35,2.35 l-2.35,-2.35 z"/>
<path d="M411.8,227.2 l2.35,2.35 l-2.35,2.35 l-2.35,-2.35 z"/>
<path d="M413.4,220 l2.35,2.35 l-2.35,2.35 l-2.35,-2.35 z"/>
<path d="M415.3,219.2 l2.35,2.35 l-2.35,2.35 l-2.35,-2.35 z"/>
<path d="M417.1,218.4 l2.35,2.35 l-2.35,2.35 l-2.35,-2.35 z"/>
<path d="M418.7,215.9 l2.35,2.35 l-2.35,2.35 l-2.35,-2.35 z"/>
<path d="M420.6,214.3 l2.35,2.35 l-2.35,2.35 l-2.35,-2.35 z"/>
<path d="M422.2,213.5 l2.35,2.35 l-2.35,2.35 l-2.35,-2.35 z"/>
<path d="M424.1,219.2 l2.35,2.35 l-2.35,2.35 l-2.35,-2.35 z"/>
<path d="M425.7,217.5 l2.35,2.35 l-2.35,2.35 l-2.35,-2.35 z"/>
<path d="M427,224 l2.35,2.35 l-2.35,2.35 l-2.35,-2.35 z"/>
<path d="M428.9,209.5 l2.35,2.35 l-2.35,2.35 l-2.35,-2.35 z"/>
<path d="M430.7,212.7 l2.35,2.35 l-2.35,2.35 l-2.35,-2.35 z"/>
<path d="M432.6,222.4 l2.35,2.35 l-2.35,2.35 l-2.35,-2.35 z"/>
<path d="M434.2,219.2 l2.35,2.35 l-2.35,2.35 l-2.35,-2.35 z"/>
<path d="M436.2,221.6 l2.35,2.35 l-2.35,2.35 l-2.35,-2.35 z"/>
<path d="M437.9,226.4 l2.35,2.35 l-2.35,2.35 l-2.35,-2.35 z"/>
<path d="M439.5,222.4 l2.35,2.35 l-2.35,2.35 l-2.35,-2.35 z"/>
<path d="M441.3,224 l2.35,2.35 l-2.35,2.35 l-2.35,-2.35 z"/>
<path d="M443.1,217.5 l2.35,2.35 l-2.35,2.35 l-2.35,-2.35 z"/>
<path d="M444.8,213.5 l2.35,2.35 l-2.35,2.35 l-2.35,-2.35 z"/>
<path d="M446.6,215.1 l2.35,2.35 l-2.35,2.35 l-2.35,-2.35 z"/>
<path d="M447.9,210.3 l2.35,2.35 l-2.35,2.35 l-2.35,-2.35 z"/>
<path d="M449.8,224.8 l2.35,2.35 l-2.35,2.35 l-2.35,-2.35 z"/>
<path d="M451.6,220.8 l2.35,2.35 l-2.35,2.35 l-2.35,-2.35 z"/>
<path d="M453,214.3 l2.35,2.35 l-2.35,2.35 l-2.35,-2.35 z"/>
<path d="M455.1,219.2 l2.35,2.35 l-2.35,2.35 l-2.35,-2.35 z"/>
<path d="M456.9,222.4 l2.35,2.35 l-2.35,2.35 l-2.35,-2.35 z"/>
<path d="M458.5,219.2 l2.35,2.35 l-2.35,2.35 l-2.35,-2.35 z"/>
<path d="M459.9,214.3 l2.35,2.35 l-2.35,2.35 l-2.35,-2.35 z"/>
<path d="M462,222.4 l2.35,2.35 l-2.35,2.35 l-2.35,-2.35 z"/>
<path d="M463.8,227.2 l2.35,2.35 l-2.35,2.35 l-2.35,-2.35 z"/>
<path d="M465.5,228 l2.35,2.35 l-2.35,2.35 l-2.35,-2.35 z"/>
<path d="M467.2,226.4 l2.35,2.35 l-2.35,2.35 l-2.35,-2.35 z"/>
<path d="M468.9,224 l2.35,2.35 l-2.35,2.35 l-2.35,-2.35 z"/>
<path d="M470.7,224.8 l2.35,2.35 l-2.35,2.35 l-2.35,-2.35 z"/>
<path d="M472.5,223.2 l2.35,2.35 l-2.35,2.35 l-2.35,-2.35 z"/>
<path d="M474.1,227.2 l2.35,2.35 l-2.35,2.35 l-2.35,-2.35 z"/>
<path d="M475.8,230.4 l2.35,2.35 l-2.35,2.35 l-2.35,-2.35 z"/>
<path d="M477.6,231.2 l2.35,2.35 l-2.35,2.35 l-2.35,-2.35 z"/>
<path d="M479.2,228.8 l2.35,2.35 l-2.35,2.35 l-2.35,-2.35 z"/>
<path d="M481.9,216.5 l2.35,2.35 l-2.35,2.35 l-2.35,-2.35 z"/>
<path d="M483,228.5 l2.35,2.35 l-2.35,2.35 l-2.35,-2.35 z"/>
<path d="M484.6,227.4 l2.35,2.35 l-2.35,2.35 l-2.35,-2.35 z"/>
<path d="M486.2,226.1 l2.35,2.35 l-2.35,2.35 l-2.35,-2.35 z"/>
<path d="M488.2,221.8 l2.35,2.35 l-2.35,2.35 l-2.35,-2.35 z"/>
<path d="M489.9,220.5 l2.35,2.35 l-2.35,2.35 l-2.35,-2.35 z"/>
<path d="M492.2,220.5 l2.35,2.35 l-2.35,2.35 l-2.35,-2.35 z"/>
<path d="M493.5,222.9 l2.35,2.35 l-2.35,2.35 l-2.35,-2.35 z"/>
<path d="M495.1,223.7 l2.35,2.35 l-2.35,2.35 l-2.35,-2.35 z"/>
<path d="M497,222.1 l2.35,2.35 l-2.35,2.35 l-2.35,-2.35 z"/>
<path d="M498.6,222.9 l2.35,2.35 l-2.35,2.35 l-2.35,-2.35 z"/>
<path d="M500.2,225.3 l2.35,2.35 l-2.35,2.35 l-2.35,-2.35 z"/>
<path d="M501.5,227.7 l2.35,2.35 l-2.35,2.35 l-2.35,-2.35 z"/>
<path d="M503.4,222.1 l2.35,2.35 l-2.35,2.35 l-2.35,-2.35 z"/>
<path d="M505,220.5 l2.35,2.35 l-2.35,2.35 l-2.35,-2.35 z"/>
<path d="M506.8,217.6 l2.35,2.35 l-2.35,2.35 l-2.35,-2.35 z"/>
<path d="M508.6,215.7 l2.35,2.35 l-2.35,2.35 l-2.35,-2.35 z"/>
<path d="M510.3,214.1 l2.35,2.35 l-2.35,2.35 l-2.35,-2.35 z"/>
<path d="M511.9,222.9 l2.35,2.35 l-2.35,2.35 l-2.35,-2.35 z"/>
<path d="M513.7,216.5 l2.35,2.35 l-2.35,2.35 l-2.35,-2.35 z"/>
<path d="M515.1,212.8 l2.35,2.35 l-2.35,2.35 l-2.35,-2.35 z"/>
<path d="M517.1,216.5 l2.35,2.35 l-2.35,2.35 l-2.35,-2.35 z"/>
<path d="M518.7,222.4 l2.35,2.35 l-2.35,2.35 l-2.35,-2.35 z"/>
<path d="M520.6,224.5 l2.35,2.35 l-2.35,2.35 l-2.35,-2.35 z"/>
<path d="M522.4,222.1 l2.35,2.35 l-2.35,2.35 l-2.35,-2.35 z"/>
<path d="M524,225 l2.35,2.35 l-2.35,2.35 l-2.35,-2.35 z"/>
<path d="M525.7,224.5 l2.35,2.35 l-2.35,2.35 l-2.35,-2.35 z"/>
<path d="M527.5,222.1 l2.35,2.35 l-2.35,2.35 l-2.35,-2.35 z"/>
<path d="M529.3,220.5 l2.35,2.35 l-2.35,2.35 l-2.35,-2.35 z"/>
<path d="M530.9,217.3 l2.35,2.35 l-2.35,2.35 l-2.35,-2.35 z"/>
<path d="M532.8,213.3 l2.35,2.35 l-2.35,2.35 l-2.35,-2.35 z"/>
<path d="M534.9,209.3 l2.35,2.35 l-2.35,2.35 l-2.35,-2.35 z"/>
<path d="M536.5,210.9 l2.35,2.35 l-2.35,2.35 l-2.35,-2.35 z"/>
<path d="M538.1,216.5 l2.35,2.35 l-2.35,2.35 l-2.35,-2.35 z"/>
<path d="M539.6,216.5 l2.35,2.35 l-2.35,2.35 l-2.35,-2.35 z"/>
<path d="M541.3,221.8 l2.35,2.35 l-2.35,2.35 l-2.35,-2.35 z"/>
<path d="M543.1,222.9 l2.35,2.35 l-2.35,2.35 l-2.35,-2.35 z"/>
<path d="M544.7,222.9 l2.35,2.35 l-2.35,2.35 l-2.35,-2.35 z"/>
<path d="M546.5,217.3 l2.35,2.35 l-2.35,2.35 l-2.35,-2.35 z"/>
<path d="M548.1,220.5 l2.35,2.35 l-2.35,2.35 l-2.35,-2.35 z"/>
<path d="M549.7,226.1 l2.35,2.35 l-2.35,2.35 l-2.35,-2.35 z"/>
<path d="M551.6,209.3 l2.35,2.35 l-2.35,2.35 l-2.35,-2.35 z"/>
<path d="M553.4,210.1 l2.35,2.35 l-2.35,2.35 l-2.35,-2.35 z"/>
<path d="M555.1,214.1 l2.35,2.35 l-2.35,2.35 l-2.35,-2.35 z"/>
<path d="M556.9,215.7 l2.35,2.35 l-2.35,2.35 l-2.35,-2.35 z"/>
<path d="M558.5,219.2 l2.35,2.35 l-2.35,2.35 l-2.35,-2.35 z"/>
<path d="M560.3,216.5 l2.35,2.35 l-2.35,2.35 l-2.35,-2.35 z"/>
<path d="M561.9,217.6 l2.35,2.35 l-2.35,2.35 l-2.35,-2.35 z"/>
<path d="M563.6,220.5 l2.35,2.35 l-2.35,2.35 l-2.35,-2.35 z"/>
<path d="M565.4,210.1 l2.35,2.35 l-2.35,2.35 l-2.35,-2.35 z"/>
<path d="M567.2,199.6 l2.35,2.35 l-2.35,2.35 l-2.35,-2.35 z"/>
<path d="M568.9,208.5 l2.35,2.35 l-2.35,2.35 l-2.35,-2.35 z"/>
<path d="M570.5,198.8 l2.35,2.35 l-2.35,2.35 l-2.35,-2.35 z"/>
<path d="M572.3,206.8 l2.35,2.35 l-2.35,2.35 l-2.35,-2.35 z"/>
<path d="M574.1,210.9 l2.35,2.35 l-2.35,2.35 l-2.35,-2.35 z"/>
<path d="M575.8,203.6 l2.35,2.35 l-2.35,2.35 l-2.35,-2.35 z"/>
<path d="M577.4,202.8 l2.35,2.35 l-2.35,2.35 l-2.35,-2.35 z"/>
<path d="M579,198.8 l2.35,2.35 l-2.35,2.35 l-2.35,-2.35 z"/>
<path d="M580.6,206 l2.35,2.35 l-2.35,2.35 l-2.35,-2.35 z"/>
<path d="M582.5,198.8 l2.35,2.35 l-2.35,2.35 l-2.35,-2.35 z"/>
<path d="M584.2,202 l2.35,2.35 l-2.35,2.35 l-2.35,-2.35 z"/>
<path d="M585.9,206.8 l2.35,2.35 l-2.35,2.35 l-2.35,-2.35 z"/>
<path d="M587.5,208.5 l2.35,2.35 l-2.35,2.35 l-2.35,-2.35 z"/>
<path d="M589.5,206.8 l2.35,2.35 l-2.35,2.35 l-2.35,-2.35 z"/>
<path d="M591.1,199.6 l2.35,2.35 l-2.35,2.35 l-2.35,-2.35 z"/>
<path d="M592.7,210.9 l2.35,2.35 l-2.35,2.35 l-2.35,-2.35 z"/>
<path d="M594.3,199.6 l2.35,2.35 l-2.35,2.35 l-2.35,-2.35 z"/>
<path d="M596.2,202.8 l2.35,2.35 l-2.35,2.35 l-2.35,-2.35 z"/>
<path d="M598,205.2 l2.35,2.35 l-2.35,2.35 l-2.35,-2.35 z"/>
<path d="M599.9,196.4 l2.35,2.35 l-2.35,2.35 l-2.35,-2.35 z"/>
<path d="M601.5,198.8 l2.35,2.35 l-2.35,2.35 l-2.35,-2.35 z"/>
<path d="M603.3,195.1 l2.35,2.35 l-2.35,2.35 l-2.35,-2.35 z"/>
<path d="M605,199.6 l2.35,2.35 l-2.35,2.35 l-2.35,-2.35 z"/>
<path d="M606.6,213.3 l2.35,2.35 l-2.35,2.35 l-2.35,-2.35 z"/>
<path d="M608.2,221.3 l2.35,2.35 l-2.35,2.35 l-2.35,-2.35 z"/>
<path d="M610,213.3 l2.35,2.35 l-2.35,2.35 l-2.35,-2.35 z"/>
<path d="M611.9,209.3 l2.35,2.35 l-2.35,2.35 l-2.35,-2.35 z"/>
<path d="M613.5,208.5 l2.35,2.35 l-2.35,2.35 l-2.35,-2.35 z"/>
<path d="M615.1,207.7 l2.35,2.35 l-2.35,2.35 l-2.35,-2.35 z"/>
<path d="M617.1,210.1 l2.35,2.35 l-2.35,2.35 l-2.35,-2.35 z"/>
<path d="M618.7,213.3 l2.35,2.35 l-2.35,2.35 l-2.35,-2.35 z"/>
<path d="M620.4,207.7 l2.35,2.35 l-2.35,2.35 l-2.35,-2.35 z"/>
<path d="M622.1,216.5 l2.35,2.35 l-2.35,2.35 l-2.35,-2.35 z"/>
<path d="M624,217.3 l2.35,2.35 l-2.35,2.35 l-2.35,-2.35 z"/>
<path d="M625.6,214.9 l2.35,2.35 l-2.35,2.35 l-2.35,-2.35 z"/>
<path d="M627.2,216.5 l2.35,2.35 l-2.35,2.35 l-2.35,-2.35 z"/>
<path d="M629.3,204.8 l2.35,2.35 l-2.35,2.35 l-2.35,-2.35 z"/>
<path d="M630.9,208.5 l2.35,2.35 l-2.35,2.35 l-2.35,-2.35 z"/>
<path d="M632.5,214.1 l2.35,2.35 l-2.35,2.35 l-2.35,-2.35 z"/>
<path d="M634.4,206 l2.35,2.35 l-2.35,2.35 l-2.35,-2.35 z"/>
<path d="M636,207.7 l2.35,2.35 l-2.35,2.35 l-2.35,-2.35 z"/>
<path d="M637.6,217.3 l2.35,2.35 l-2.35,2.35 l-2.35,-2.35 z"/>
<path d="M639.2,208.5 l2.35,2.35 l-2.35,2.35 l-2.35,-2.35 z"/>
<path d="M641.3,207.7 l2.35,2.35 l-2.35,2.35 l-2.35,-2.35 z"/>
<path d="M642.9,206.8 l2.35,2.35 l-2.35,2.35 l-2.35,-2.35 z"/>
<path d="M644.5,203.2 l2.35,2.35 l-2.35,2.35 l-2.35,-2.35 z"/>
<path d="M646.5,210.1 l2.35,2.35 l-2.35,2.35 l-2.35,-2.35 z"/>
<path d="M648.1,208.5 l2.35,2.35 l-2.35,2.35 l-2.35,-2.35 z"/>
<path d="M649.7,215.7 l2.35,2.35 l-2.35,2.35 l-2.35,-2.35 z"/>
<path d="M651.6,210.9 l2.35,2.35 l-2.35,2.35 l-2.35,-2.35 z"/>
<path d="M653.4,212.5 l2.35,2.35 l-2.35,2.35 l-2.35,-2.35 z"/>
<path d="M655,214.9 l2.35,2.35 l-2.35,2.35 l-2.35,-2.35 z"/>
<path d="M656.6,215.7 l2.35,2.35 l-2.35,2.35 l-2.35,-2.35 z"/>
<path d="M658.5,215.7 l2.35,2.35 l-2.35,2.35 l-2.35,-2.35 z"/>
<path d="M660.1,215.7 l2.35,2.35 l-2.35,2.35 l-2.35,-2.35 z"/>
<path d="M661.9,207.7 l2.35,2.35 l-2.35,2.35 l-2.35,-2.35 z"/>
<path d="M663.5,215.7 l2.35,2.35 l-2.35,2.35 l-2.35,-2.35 z"/>
<path d="M665.4,218.9 l2.35,2.35 l-2.35,2.35 l-2.35,-2.35 z"/>
<path d="M667,212.5 l2.35,2.35 l-2.35,2.35 l-2.35,-2.35 z"/>
<path d="M668.6,216.5 l2.35,2.35 l-2.35,2.35 l-2.35,-2.35 z"/>
<path d="M670.5,218.9 l2.35,2.35 l-2.35,2.35 l-2.35,-2.35 z"/>
<path d="M672.2,208.5 l2.35,2.35 l-2.35,2.35 l-2.35,-2.35 z"/>
<path d="M674.1,210.1 l2.35,2.35 l-2.35,2.35 l-2.35,-2.35 z"/>
<path d="M675.7,216.5 l2.35,2.35 l-2.35,2.35 l-2.35,-2.35 z"/>
<path d="M677.8,214.9 l2.35,2.35 l-2.35,2.35 l-2.35,-2.35 z"/>
</g>
</g>
<g id="chart2">
<text class="t2" x="215.2" y="335.4">Seasonal Variation of PM<tspan dy="5.6" font-size="14.6px">2.5</tspan></text>
<polyline points="53.5,347.0 53.5,554.0 684.0,554.0" fill="none" stroke="#262626" stroke-width="1.35" stroke-linejoin="round"/>
<text class="tk2" x="39.2" y="559.2" text-anchor="end">0</text>
<text class="tk2" x="39.2" y="517.6" text-anchor="end">20</text>
<text class="tk2" x="39.2" y="476.1" text-anchor="end">40</text>
<text class="tk2" x="39.2" y="434.4" text-anchor="end">60</text>
<text class="tk2" x="39.2" y="392.9" text-anchor="end">80</text>
<text class="tk2" x="39.2" y="351.2" text-anchor="end">100</text>
<text class="tk2" x="56.4" y="577.4" text-anchor="middle">1</text>
<text class="tk2" x="229.8" y="577.4" text-anchor="middle">31</text>
<text class="tk2" x="403.2" y="577.4" text-anchor="middle">61</text>
<text class="tk2" x="576.6" y="577.4" text-anchor="middle">91</text>
<text class="ax2" x="368.6" y="590.7" text-anchor="middle">Number of days</text>
<text class="ay2" transform="translate(13,534.6) rotate(-90)"><tspan letter-spacing="0.2">Concentration</tspan> (<tspan letter-spacing="0.15">µg/m</tspan><tspan dy="-5.5" font-size="9.5px" letter-spacing="1.0">3</tspan><tspan dy="5.5">)</tspan></text>
<line x1="116.1" y1="352.3" x2="148.1" y2="352.3" stroke="#4472C4" stroke-width="1"/>
<rect x="128" y="348.3" width="8.0" height="8.0" fill="#4472C4" stroke="#1FA9EF" stroke-width="1.3"/>
<text class="lg2" x="151.6" y="357.40000000000003">Winter</text>
<line x1="225.3" y1="352.3" x2="257.2" y2="352.3" stroke="#ED7D31" stroke-width="1"/>
<path d="M241.2,348.1 l4.25,4.25 l-4.25,4.25 l-4.25,-4.25 z" fill="#FFC000" stroke="#ED7D31" stroke-width="1.15"/>
<text class="lg2" x="259.9" y="357.40000000000003">Summer</text>
<line x1="344.2" y1="352.3" x2="376" y2="352.3" stroke="#A5A5A5" stroke-width="0.9"/>
<circle cx="360" cy="352.3" r="3.3" fill="#00B050" stroke="#A5A5A5" stroke-width="0.9"/>
<text class="lg2" x="379.2" y="357.40000000000003">Monsoon</text>
<line x1="467.4" y1="352.3" x2="499.1" y2="352.3" stroke="#FFC000" stroke-width="1.0"/>
<path d="M483.3,348.1 L487.5,356.5 L479.1,356.5 z" fill="#747070" stroke="#353232" stroke-width="1.0" stroke-linejoin="miter"/>
<text class="lg2" x="503.2" y="357.40000000000003">Post-Monsoon</text>
<polyline points="56.4,447.6 62.2,461.2 68,472 73.7,469.9 79.5,473 85.3,438.3 91.1,409 96.8,460.4 102.6,477.8 108.4,460.4 114.2,442.4 120,427.8 125.8,394.5 131.5,419.5 137.3,440 143.1,444.5 148.9,447.6 154.7,452.6 160.4,477.2 166.2,462.7 172,420.5 177.8,457.7 183.6,483.8 189.3,493.7 195.1,473 200.9,463.3 206.7,478.2 212.5,495.8 218.2,486.5 224,490.4 229.8,492 235.6,469.9 241.3,465 247.1,441 252.9,444.5 258.7,477.8 264.5,455.7 270.2,429.8 276,430.7 281.8,415.2 287.6,412.7 293.4,415.2 299.1,424.7 304.9,428.2 310.7,458.8 316.5,457.3 322.3,441.4 328.1,432.7 333.8,440.8 339.6,429.2 345.4,438.9 351.2,428.2 356.9,434.2 362.7,471 368.5,483.8 374.3,480.3 380.1,460.8 385.9,474.7 391.6,476.1" fill="none" stroke="#4472C4" stroke-width="1" stroke-linejoin="round" />
<rect x="52.4" y="443.6" width="8.0" height="8.0" fill="#4472C4" stroke="#1FA9EF" stroke-width="1.3"/>
<rect x="58.2" y="457.2" width="8.0" height="8.0" fill="#4472C4" stroke="#1FA9EF" stroke-width="1.3"/>
<rect x="64" y="468" width="8.0" height="8.0" fill="#4472C4" stroke="#1FA9EF" stroke-width="1.3"/>
<rect x="69.7" y="465.9" width="8.0" height="8.0" fill="#4472C4" stroke="#1FA9EF" stroke-width="1.3"/>
<rect x="75.5" y="469" width="8.0" height="8.0" fill="#4472C4" stroke="#1FA9EF" stroke-width="1.3"/>
<rect x="81.3" y="434.3" width="8.0" height="8.0" fill="#4472C4" stroke="#1FA9EF" stroke-width="1.3"/>
<rect x="87.1" y="405" width="8.0" height="8.0" fill="#4472C4" stroke="#1FA9EF" stroke-width="1.3"/>
<rect x="92.8" y="456.4" width="8.0" height="8.0" fill="#4472C4" stroke="#1FA9EF" stroke-width="1.3"/>
<rect x="98.6" y="473.8" width="8.0" height="8.0" fill="#4472C4" stroke="#1FA9EF" stroke-width="1.3"/>
<rect x="104.4" y="456.4" width="8.0" height="8.0" fill="#4472C4" stroke="#1FA9EF" stroke-width="1.3"/>
<rect x="110.2" y="438.4" width="8.0" height="8.0" fill="#4472C4" stroke="#1FA9EF" stroke-width="1.3"/>
<rect x="116" y="423.8" width="8.0" height="8.0" fill="#4472C4" stroke="#1FA9EF" stroke-width="1.3"/>
<rect x="121.8" y="390.5" width="8.0" height="8.0" fill="#4472C4" stroke="#1FA9EF" stroke-width="1.3"/>
<rect x="127.5" y="415.5" width="8.0" height="8.0" fill="#4472C4" stroke="#1FA9EF" stroke-width="1.3"/>
<rect x="133.3" y="436" width="8.0" height="8.0" fill="#4472C4" stroke="#1FA9EF" stroke-width="1.3"/>
<rect x="139.1" y="440.5" width="8.0" height="8.0" fill="#4472C4" stroke="#1FA9EF" stroke-width="1.3"/>
<rect x="144.9" y="443.6" width="8.0" height="8.0" fill="#4472C4" stroke="#1FA9EF" stroke-width="1.3"/>
<rect x="150.7" y="448.6" width="8.0" height="8.0" fill="#4472C4" stroke="#1FA9EF" stroke-width="1.3"/>
<rect x="156.4" y="473.2" width="8.0" height="8.0" fill="#4472C4" stroke="#1FA9EF" stroke-width="1.3"/>
<rect x="162.2" y="458.7" width="8.0" height="8.0" fill="#4472C4" stroke="#1FA9EF" stroke-width="1.3"/>
<rect x="168" y="416.5" width="8.0" height="8.0" fill="#4472C4" stroke="#1FA9EF" stroke-width="1.3"/>
<rect x="173.8" y="453.7" width="8.0" height="8.0" fill="#4472C4" stroke="#1FA9EF" stroke-width="1.3"/>
<rect x="179.6" y="479.8" width="8.0" height="8.0" fill="#4472C4" stroke="#1FA9EF" stroke-width="1.3"/>
<rect x="185.3" y="489.7" width="8.0" height="8.0" fill="#4472C4" stroke="#1FA9EF" stroke-width="1.3"/>
<rect x="191.1" y="469" width="8.0" height="8.0" fill="#4472C4" stroke="#1FA9EF" stroke-width="1.3"/>
<rect x="196.9" y="459.3" width="8.0" height="8.0" fill="#4472C4" stroke="#1FA9EF" stroke-width="1.3"/>
<rect x="202.7" y="474.2" width="8.0" height="8.0" fill="#4472C4" stroke="#1FA9EF" stroke-width="1.3"/>
<rect x="208.5" y="491.8" width="8.0" height="8.0" fill="#4472C4" stroke="#1FA9EF" stroke-width="1.3"/>
<rect x="214.2" y="482.5" width="8.0" height="8.0" fill="#4472C4" stroke="#1FA9EF" stroke-width="1.3"/>
<rect x="220" y="486.4" width="8.0" height="8.0" fill="#4472C4" stroke="#1FA9EF" stroke-width="1.3"/>
<rect x="225.8" y="488" width="8.0" height="8.0" fill="#4472C4" stroke="#1FA9EF" stroke-width="1.3"/>
<rect x="231.6" y="465.9" width="8.0" height="8.0" fill="#4472C4" stroke="#1FA9EF" stroke-width="1.3"/>
<rect x="237.3" y="461" width="8.0" height="8.0" fill="#4472C4" stroke="#1FA9EF" stroke-width="1.3"/>
<rect x="243.1" y="437" width="8.0" height="8.0" fill="#4472C4" stroke="#1FA9EF" stroke-width="1.3"/>
<rect x="248.9" y="440.5" width="8.0" height="8.0" fill="#4472C4" stroke="#1FA9EF" stroke-width="1.3"/>
<rect x="254.7" y="473.8" width="8.0" height="8.0" fill="#4472C4" stroke="#1FA9EF" stroke-width="1.3"/>
<rect x="260.5" y="451.7" width="8.0" height="8.0" fill="#4472C4" stroke="#1FA9EF" stroke-width="1.3"/>
<rect x="266.2" y="425.8" width="8.0" height="8.0" fill="#4472C4" stroke="#1FA9EF" stroke-width="1.3"/>
<rect x="272" y="426.7" width="8.0" height="8.0" fill="#4472C4" stroke="#1FA9EF" stroke-width="1.3"/>
<rect x="277.8" y="411.2" width="8.0" height="8.0" fill="#4472C4" stroke="#1FA9EF" stroke-width="1.3"/>
<rect x="283.6" y="408.7" width="8.0" height="8.0" fill="#4472C4" stroke="#1FA9EF" stroke-width="1.3"/>
<rect x="289.4" y="411.2" width="8.0" height="8.0" fill="#4472C4" stroke="#1FA9EF" stroke-width="1.3"/>
<rect x="295.1" y="420.7" width="8.0" height="8.0" fill="#4472C4" stroke="#1FA9EF" stroke-width="1.3"/>
<rect x="300.9" y="424.2" width="8.0" height="8.0" fill="#4472C4" stroke="#1FA9EF" stroke-width="1.3"/>
<rect x="306.7" y="454.8" width="8.0" height="8.0" fill="#4472C4" stroke="#1FA9EF" stroke-width="1.3"/>
<rect x="312.5" y="453.3" width="8.0" height="8.0" fill="#4472C4" stroke="#1FA9EF" stroke-width="1.3"/>
<rect x="318.3" y="437.4" width="8.0" height="8.0" fill="#4472C4" stroke="#1FA9EF" stroke-width="1.3"/>
<rect x="324.1" y="428.7" width="8.0" height="8.0" fill="#4472C4" stroke="#1FA9EF" stroke-width="1.3"/>
<rect x="329.8" y="436.8" width="8.0" height="8.0" fill="#4472C4" stroke="#1FA9EF" stroke-width="1.3"/>
<rect x="335.6" y="425.2" width="8.0" height="8.0" fill="#4472C4" stroke="#1FA9EF" stroke-width="1.3"/>
<rect x="341.4" y="434.9" width="8.0" height="8.0" fill="#4472C4" stroke="#1FA9EF" stroke-width="1.3"/>
<rect x="347.2" y="424.2" width="8.0" height="8.0" fill="#4472C4" stroke="#1FA9EF" stroke-width="1.3"/>
<rect x="352.9" y="430.2" width="8.0" height="8.0" fill="#4472C4" stroke="#1FA9EF" stroke-width="1.3"/>
<rect x="358.7" y="467" width="8.0" height="8.0" fill="#4472C4" stroke="#1FA9EF" stroke-width="1.3"/>
<rect x="364.5" y="479.8" width="8.0" height="8.0" fill="#4472C4" stroke="#1FA9EF" stroke-width="1.3"/>
<rect x="370.3" y="476.3" width="8.0" height="8.0" fill="#4472C4" stroke="#1FA9EF" stroke-width="1.3"/>
<rect x="376.1" y="456.8" width="8.0" height="8.0" fill="#4472C4" stroke="#1FA9EF" stroke-width="1.3"/>
<rect x="381.9" y="470.7" width="8.0" height="8.0" fill="#4472C4" stroke="#1FA9EF" stroke-width="1.3"/>
<rect x="387.6" y="472.1" width="8.0" height="8.0" fill="#4472C4" stroke="#1FA9EF" stroke-width="1.3"/>
<polyline points="56.4,482.9 62.2,472.6 68,477.8 73.7,477.8 79.5,485.4 85.3,479.6 91.1,481.3 96.8,488.7 102.6,461.9 108.4,488.7 114.2,478.8 120,501.7 125.8,502.8 131.5,491.6 137.3,480.9 143.1,482.3 148.9,465.4 154.7,467.9 160.4,466.8 166.2,463.3 172,455.1 177.8,463.3 183.6,459.8 189.3,463.9 195.1,478.2 200.9,463.3 206.7,486.5 212.5,491 218.2,485.4 224,475.5 229.8,461.9 235.6,457.3 241.3,478.8 247.1,469.9 252.9,464.6 258.7,463.3 264.5,463.9 270.2,485 276,468.7 281.8,460.2 287.6,456.5 293.4,449.7 299.1,458.8 304.9,460.4 310.7,460.4 316.5,460.8 322.3,447.6 328.1,442.4 333.8,452.6 339.6,465.4 345.4,474.7 351.2,476.1 356.9,472 362.7,472 368.5,473 374.3,481.3 380.1,495.1 385.9,481.7 391.6,479.6 397.4,478.2 403.2,484.4 409,486.5 414.8,489.6 420.5,490.4 426.3,505.5 432.1,497.6 437.9,487.9 443.7,488.5 449.4,488.5 455.2,485 461,493.1 466.8,498.6 472.6,502.8 478.3,486.5 484.1,493.5 489.9,497.6 495.7,488.9 501.5,490.4 507.2,492.4 513,491.4 518.8,495.5 524.6,493.5 530.4,491.4 536.1,462.5 541.9,491.8" fill="none" stroke="#ED7D31" stroke-width="1" stroke-linejoin="round" />
<path d="M56.4,478.7 l4.25,4.25 l-4.25,4.25 l-4.25,-4.25 z" fill="#FFC000" stroke="#ED7D31" stroke-width="1.15"/>
<path d="M62.2,468.4 l4.25,4.25 l-4.25,4.25 l-4.25,-4.25 z" fill="#FFC000" stroke="#ED7D31" stroke-width="1.15"/>
<path d="M68,473.5 l4.25,4.25 l-4.25,4.25 l-4.25,-4.25 z" fill="#FFC000" stroke="#ED7D31" stroke-width="1.15"/>
<path d="M73.7,473.5 l4.25,4.25 l-4.25,4.25 l-4.25,-4.25 z" fill="#FFC000" stroke="#ED7D31" stroke-width="1.15"/>
<path d="M79.5,481.2 l4.25,4.25 l-4.25,4.25 l-4.25,-4.25 z" fill="#FFC000" stroke="#ED7D31" stroke-width="1.15"/>
<path d="M85.3,475.4 l4.25,4.25 l-4.25,4.25 l-4.25,-4.25 z" fill="#FFC000" stroke="#ED7D31" stroke-width="1.15"/>
<path d="M91.1,477 l4.25,4.25 l-4.25,4.25 l-4.25,-4.25 z" fill="#FFC000" stroke="#ED7D31" stroke-width="1.15"/>
<path d="M96.8,484.5 l4.25,4.25 l-4.25,4.25 l-4.25,-4.25 z" fill="#FFC000" stroke="#ED7D31" stroke-width="1.15"/>
<path d="M102.6,457.6 l4.25,4.25 l-4.25,4.25 l-4.25,-4.25 z" fill="#FFC000" stroke="#ED7D31" stroke-width="1.15"/>
<path d="M108.4,484.5 l4.25,4.25 l-4.25,4.25 l-4.25,-4.25 z" fill="#FFC000" stroke="#ED7D31" stroke-width="1.15"/>
<path d="M114.2,474.6 l4.25,4.25 l-4.25,4.25 l-4.25,-4.25 z" fill="#FFC000" stroke="#ED7D31" stroke-width="1.15"/>
<path d="M120,497.5 l4.25,4.25 l-4.25,4.25 l-4.25,-4.25 z" fill="#FFC000" stroke="#ED7D31" stroke-width="1.15"/>
<path d="M125.8,498.5 l4.25,4.25 l-4.25,4.25 l-4.25,-4.25 z" fill="#FFC000" stroke="#ED7D31" stroke-width="1.15"/>
<path d="M131.5,487.4 l4.25,4.25 l-4.25,4.25 l-4.25,-4.25 z" fill="#FFC000" stroke="#ED7D31" stroke-width="1.15"/>
<path d="M137.3,476.6 l4.25,4.25 l-4.25,4.25 l-4.25,-4.25 z" fill="#FFC000" stroke="#ED7D31" stroke-width="1.15"/>
<path d="M143.1,478.1 l4.25,4.25 l-4.25,4.25 l-4.25,-4.25 z" fill="#FFC000" stroke="#ED7D31" stroke-width="1.15"/>
<path d="M148.9,461.1 l4.25,4.25 l-4.25,4.25 l-4.25,-4.25 z" fill="#FFC000" stroke="#ED7D31" stroke-width="1.15"/>
<path d="M154.7,463.6 l4.25,4.25 l-4.25,4.25 l-4.25,-4.25 z" fill="#FFC000" stroke="#ED7D31" stroke-width="1.15"/>
<path d="M160.4,462.6 l4.25,4.25 l-4.25,4.25 l-4.25,-4.25 z" fill="#FFC000" stroke="#ED7D31" stroke-width="1.15"/>
<path d="M166.2,459.1 l4.25,4.25 l-4.25,4.25 l-4.25,-4.25 z" fill="#FFC000" stroke="#ED7D31" stroke-width="1.15"/>
<path d="M172,450.8 l4.25,4.25 l-4.25,4.25 l-4.25,-4.25 z" fill="#FFC000" stroke="#ED7D31" stroke-width="1.15"/>
<path d="M177.8,459.1 l4.25,4.25 l-4.25,4.25 l-4.25,-4.25 z" fill="#FFC000" stroke="#ED7D31" stroke-width="1.15"/>
<path d="M183.6,455.6 l4.25,4.25 l-4.25,4.25 l-4.25,-4.25 z" fill="#FFC000" stroke="#ED7D31" stroke-width="1.15"/>
<path d="M189.3,459.7 l4.25,4.25 l-4.25,4.25 l-4.25,-4.25 z" fill="#FFC000" stroke="#ED7D31" stroke-width="1.15"/>
<path d="M195.1,473.9 l4.25,4.25 l-4.25,4.25 l-4.25,-4.25 z" fill="#FFC000" stroke="#ED7D31" stroke-width="1.15"/>
<path d="M200.9,459.1 l4.25,4.25 l-4.25,4.25 l-4.25,-4.25 z" fill="#FFC000" stroke="#ED7D31" stroke-width="1.15"/>
<path d="M206.7,482.2 l4.25,4.25 l-4.25,4.25 l-4.25,-4.25 z" fill="#FFC000" stroke="#ED7D31" stroke-width="1.15"/>
<path d="M212.5,486.8 l4.25,4.25 l-4.25,4.25 l-4.25,-4.25 z" fill="#FFC000" stroke="#ED7D31" stroke-width="1.15"/>
<path d="M218.2,481.2 l4.25,4.25 l-4.25,4.25 l-4.25,-4.25 z" fill="#FFC000" stroke="#ED7D31" stroke-width="1.15"/>
<path d="M224,471.3 l4.25,4.25 l-4.25,4.25 l-4.25,-4.25 z" fill="#FFC000" stroke="#ED7D31" stroke-width="1.15"/>
<path d="M229.8,457.6 l4.25,4.25 l-4.25,4.25 l-4.25,-4.25 z" fill="#FFC000" stroke="#ED7D31" stroke-width="1.15"/>
<path d="M235.6,453.1 l4.25,4.25 l-4.25,4.25 l-4.25,-4.25 z" fill="#FFC000" stroke="#ED7D31" stroke-width="1.15"/>
<path d="M241.3,474.6 l4.25,4.25 l-4.25,4.25 l-4.25,-4.25 z" fill="#FFC000" stroke="#ED7D31" stroke-width="1.15"/>
<path d="M247.1,465.7 l4.25,4.25 l-4.25,4.25 l-4.25,-4.25 z" fill="#FFC000" stroke="#ED7D31" stroke-width="1.15"/>
<path d="M252.9,460.3 l4.25,4.25 l-4.25,4.25 l-4.25,-4.25 z" fill="#FFC000" stroke="#ED7D31" stroke-width="1.15"/>
<path d="M258.7,459.1 l4.25,4.25 l-4.25,4.25 l-4.25,-4.25 z" fill="#FFC000" stroke="#ED7D31" stroke-width="1.15"/>
<path d="M264.5,459.7 l4.25,4.25 l-4.25,4.25 l-4.25,-4.25 z" fill="#FFC000" stroke="#ED7D31" stroke-width="1.15"/>
<path d="M270.2,480.8 l4.25,4.25 l-4.25,4.25 l-4.25,-4.25 z" fill="#FFC000" stroke="#ED7D31" stroke-width="1.15"/>
<path d="M276,464.4 l4.25,4.25 l-4.25,4.25 l-4.25,-4.25 z" fill="#FFC000" stroke="#ED7D31" stroke-width="1.15"/>
<path d="M281.8,456 l4.25,4.25 l-4.25,4.25 l-4.25,-4.25 z" fill="#FFC000" stroke="#ED7D31" stroke-width="1.15"/>
<path d="M287.6,452.2 l4.25,4.25 l-4.25,4.25 l-4.25,-4.25 z" fill="#FFC000" stroke="#ED7D31" stroke-width="1.15"/>
<path d="M293.4,445.4 l4.25,4.25 l-4.25,4.25 l-4.25,-4.25 z" fill="#FFC000" stroke="#ED7D31" stroke-width="1.15"/>
<path d="M299.1,454.5 l4.25,4.25 l-4.25,4.25 l-4.25,-4.25 z" fill="#FFC000" stroke="#ED7D31" stroke-width="1.15"/>
<path d="M304.9,456.2 l4.25,4.25 l-4.25,4.25 l-4.25,-4.25 z" fill="#FFC000" stroke="#ED7D31" stroke-width="1.15"/>
<path d="M310.7,456.2 l4.25,4.25 l-4.25,4.25 l-4.25,-4.25 z" fill="#FFC000" stroke="#ED7D31" stroke-width="1.15"/>
<path d="M316.5,456.6 l4.25,4.25 l-4.25,4.25 l-4.25,-4.25 z" fill="#FFC000" stroke="#ED7D31" stroke-width="1.15"/>
<path d="M322.3,443.4 l4.25,4.25 l-4.25,4.25 l-4.25,-4.25 z" fill="#FFC000" stroke="#ED7D31" stroke-width="1.15"/>
<path d="M328.1,438.2 l4.25,4.25 l-4.25,4.25 l-4.25,-4.25 z" fill="#FFC000" stroke="#ED7D31" stroke-width="1.15"/>
<path d="M333.8,448.3 l4.25,4.25 l-4.25,4.25 l-4.25,-4.25 z" fill="#FFC000" stroke="#ED7D31" stroke-width="1.15"/>
<path d="M339.6,461.1 l4.25,4.25 l-4.25,4.25 l-4.25,-4.25 z" fill="#FFC000" stroke="#ED7D31" stroke-width="1.15"/>
<path d="M345.4,470.4 l4.25,4.25 l-4.25,4.25 l-4.25,-4.25 z" fill="#FFC000" stroke="#ED7D31" stroke-width="1.15"/>
<path d="M351.2,471.9 l4.25,4.25 l-4.25,4.25 l-4.25,-4.25 z" fill="#FFC000" stroke="#ED7D31" stroke-width="1.15"/>
<path d="M356.9,467.7 l4.25,4.25 l-4.25,4.25 l-4.25,-4.25 z" fill="#FFC000" stroke="#ED7D31" stroke-width="1.15"/>
<path d="M362.7,467.7 l4.25,4.25 l-4.25,4.25 l-4.25,-4.25 z" fill="#FFC000" stroke="#ED7D31" stroke-width="1.15"/>
<path d="M368.5,468.8 l4.25,4.25 l-4.25,4.25 l-4.25,-4.25 z" fill="#FFC000" stroke="#ED7D31" stroke-width="1.15"/>
<path d="M374.3,477 l4.25,4.25 l-4.25,4.25 l-4.25,-4.25 z" fill="#FFC000" stroke="#ED7D31" stroke-width="1.15"/>
<path d="M380.1,490.9 l4.25,4.25 l-4.25,4.25 l-4.25,-4.25 z" fill="#FFC000" stroke="#ED7D31" stroke-width="1.15"/>
<path d="M385.9,477.5 l4.25,4.25 l-4.25,4.25 l-4.25,-4.25 z" fill="#FFC000" stroke="#ED7D31" stroke-width="1.15"/>
<path d="M391.6,475.4 l4.25,4.25 l-4.25,4.25 l-4.25,-4.25 z" fill="#FFC000" stroke="#ED7D31" stroke-width="1.15"/>
<path d="M397.4,473.9 l4.25,4.25 l-4.25,4.25 l-4.25,-4.25 z" fill="#FFC000" stroke="#ED7D31" stroke-width="1.15"/>
<path d="M403.2,480.1 l4.25,4.25 l-4.25,4.25 l-4.25,-4.25 z" fill="#FFC000" stroke="#ED7D31" stroke-width="1.15"/>
<path d="M409,482.2 l4.25,4.25 l-4.25,4.25 l-4.25,-4.25 z" fill="#FFC000" stroke="#ED7D31" stroke-width="1.15"/>
<path d="M414.8,485.3 l4.25,4.25 l-4.25,4.25 l-4.25,-4.25 z" fill="#FFC000" stroke="#ED7D31" stroke-width="1.15"/>
<path d="M420.5,486.1 l4.25,4.25 l-4.25,4.25 l-4.25,-4.25 z" fill="#FFC000" stroke="#ED7D31" stroke-width="1.15"/>
<path d="M426.3,501.2 l4.25,4.25 l-4.25,4.25 l-4.25,-4.25 z" fill="#FFC000" stroke="#ED7D31" stroke-width="1.15"/>
<path d="M432.1,493.4 l4.25,4.25 l-4.25,4.25 l-4.25,-4.25 z" fill="#FFC000" stroke="#ED7D31" stroke-width="1.15"/>
<path d="M437.9,483.7 l4.25,4.25 l-4.25,4.25 l-4.25,-4.25 z" fill="#FFC000" stroke="#ED7D31" stroke-width="1.15"/>
<path d="M443.7,484.3 l4.25,4.25 l-4.25,4.25 l-4.25,-4.25 z" fill="#FFC000" stroke="#ED7D31" stroke-width="1.15"/>
<path d="M449.4,484.3 l4.25,4.25 l-4.25,4.25 l-4.25,-4.25 z" fill="#FFC000" stroke="#ED7D31" stroke-width="1.15"/>
<path d="M455.2,480.8 l4.25,4.25 l-4.25,4.25 l-4.25,-4.25 z" fill="#FFC000" stroke="#ED7D31" stroke-width="1.15"/>
<path d="M461,488.8 l4.25,4.25 l-4.25,4.25 l-4.25,-4.25 z" fill="#FFC000" stroke="#ED7D31" stroke-width="1.15"/>
<path d="M466.8,494.4 l4.25,4.25 l-4.25,4.25 l-4.25,-4.25 z" fill="#FFC000" stroke="#ED7D31" stroke-width="1.15"/>
<path d="M472.6,498.5 l4.25,4.25 l-4.25,4.25 l-4.25,-4.25 z" fill="#FFC000" stroke="#ED7D31" stroke-width="1.15"/>
<path d="M478.3,482.2 l4.25,4.25 l-4.25,4.25 l-4.25,-4.25 z" fill="#FFC000" stroke="#ED7D31" stroke-width="1.15"/>
<path d="M484.1,489.2 l4.25,4.25 l-4.25,4.25 l-4.25,-4.25 z" fill="#FFC000" stroke="#ED7D31" stroke-width="1.15"/>
<path d="M489.9,493.4 l4.25,4.25 l-4.25,4.25 l-4.25,-4.25 z" fill="#FFC000" stroke="#ED7D31" stroke-width="1.15"/>
<path d="M495.7,484.7 l4.25,4.25 l-4.25,4.25 l-4.25,-4.25 z" fill="#FFC000" stroke="#ED7D31" stroke-width="1.15"/>
<path d="M501.5,486.1 l4.25,4.25 l-4.25,4.25 l-4.25,-4.25 z" fill="#FFC000" stroke="#ED7D31" stroke-width="1.15"/>
<path d="M507.2,488.2 l4.25,4.25 l-4.25,4.25 l-4.25,-4.25 z" fill="#FFC000" stroke="#ED7D31" stroke-width="1.15"/>
<path d="M513,487.2 l4.25,4.25 l-4.25,4.25 l-4.25,-4.25 z" fill="#FFC000" stroke="#ED7D31" stroke-width="1.15"/>
<path d="M518.8,491.3 l4.25,4.25 l-4.25,4.25 l-4.25,-4.25 z" fill="#FFC000" stroke="#ED7D31" stroke-width="1.15"/>
<path d="M524.6,489.2 l4.25,4.25 l-4.25,4.25 l-4.25,-4.25 z" fill="#FFC000" stroke="#ED7D31" stroke-width="1.15"/>
<path d="M530.4,487.2 l4.25,4.25 l-4.25,4.25 l-4.25,-4.25 z" fill="#FFC000" stroke="#ED7D31" stroke-width="1.15"/>
<path d="M536.1,458.2 l4.25,4.25 l-4.25,4.25 l-4.25,-4.25 z" fill="#FFC000" stroke="#ED7D31" stroke-width="1.15"/>
<path d="M541.9,487.6 l4.25,4.25 l-4.25,4.25 l-4.25,-4.25 z" fill="#FFC000" stroke="#ED7D31" stroke-width="1.15"/>
<polyline points="56.4,460.8 62.2,447.6 68,488.7 73.7,501.3 79.5,488.7 85.3,511 91.1,500.7 96.8,509.6 102.6,496.2 108.4,509.2 114.2,515.6 120,487.5 125.8,485.4 131.5,479.6 137.3,467.7 143.1,459.4 148.9,471 154.7,495.5 160.4,502.4 166.2,512.3 172,509.2 177.8,503 183.6,515.2 189.3,502.8 195.1,504.4 200.9,506.9 206.7,508.8 212.5,519.7 218.2,518.5 224,506.5 229.8,506.9 235.6,501.7 241.3,500.7 247.1,512.5 252.9,498 258.7,504.8 264.5,510.2 270.2,512.9 276,519.1 281.8,519.1 287.6,503.4 293.4,508.1 299.1,530.3 304.9,504.2 310.7,492.4 316.5,518.5 322.3,509.8 328.1,513.9 333.8,520.1 339.6,521.2 345.4,509.8 351.2,506.9 356.9,494.9 362.7,485.4 368.5,513.5 374.3,506.3 380.1,520.1 385.9,499.7 391.6,511.2 397.4,498.6 403.2,493.1 409,489.6 414.8,486.9 420.5,501.1 426.3,496.6 432.1,512.3 437.9,477.6 443.7,485.4 449.4,507.7 455.2,500.7 461,507.3 466.8,518.5 472.6,505.9 478.3,512.9 484.1,498 489.9,488.3 495.7,496.6 501.5,480.3 507.2,514.3 513,504.2 518.8,488.3 524.6,501.3 530.4,513.9 536.1,502.4 541.9,489.3 547.7,496.6 553.5,510.2 559.2,511.2 565,509.8 570.8,501.3 576.6,502.4 582.4,497.2 588.1,504.8 593.9,518.5 599.7,520.8 605.5,521.8 611.3,513.9 617.1,477.2 622.8,514.3 628.6,509.8 634.4,505.9 640.2,488.9 646,494.1 651.7,486.7 657.5,500.7 663.3,497.2 669.1,495.5 674.9,499.3 680.6,510.8" fill="none" stroke="#A5A5A5" stroke-width="0.8" stroke-linejoin="round" />
<circle cx="56.4" cy="460.8" r="3.3" fill="#00B050" stroke="#A5A5A5" stroke-width="0.9"/>
<circle cx="62.2" cy="447.6" r="3.3" fill="#00B050" stroke="#A5A5A5" stroke-width="0.9"/>
<circle cx="68" cy="488.7" r="3.3" fill="#00B050" stroke="#A5A5A5" stroke-width="0.9"/>
<circle cx="73.7" cy="501.3" r="3.3" fill="#00B050" stroke="#A5A5A5" stroke-width="0.9"/>
<circle cx="79.5" cy="488.7" r="3.3" fill="#00B050" stroke="#A5A5A5" stroke-width="0.9"/>
<circle cx="85.3" cy="511" r="3.3" fill="#00B050" stroke="#A5A5A5" stroke-width="0.9"/>
<circle cx="91.1" cy="500.7" r="3.3" fill="#00B050" stroke="#A5A5A5" stroke-width="0.9"/>
<circle cx="96.8" cy="509.6" r="3.3" fill="#00B050" stroke="#A5A5A5" stroke-width="0.9"/>
<circle cx="102.6" cy="496.2" r="3.3" fill="#00B050" stroke="#A5A5A5" stroke-width="0.9"/>
<circle cx="108.4" cy="509.2" r="3.3" fill="#00B050" stroke="#A5A5A5" stroke-width="0.9"/>
<circle cx="114.2" cy="515.6" r="3.3" fill="#00B050" stroke="#A5A5A5" stroke-width="0.9"/>
<circle cx="120" cy="487.5" r="3.3" fill="#00B050" stroke="#A5A5A5" stroke-width="0.9"/>
<circle cx="125.8" cy="485.4" r="3.3" fill="#00B050" stroke="#A5A5A5" stroke-width="0.9"/>
<circle cx="131.5" cy="479.6" r="3.3" fill="#00B050" stroke="#A5A5A5" stroke-width="0.9"/>
<circle cx="137.3" cy="467.7" r="3.3" fill="#00B050" stroke="#A5A5A5" stroke-width="0.9"/>
<circle cx="143.1" cy="459.4" r="3.3" fill="#00B050" stroke="#A5A5A5" stroke-width="0.9"/>
<circle cx="148.9" cy="471" r="3.3" fill="#00B050" stroke="#A5A5A5" stroke-width="0.9"/>
<circle cx="154.7" cy="495.5" r="3.3" fill="#00B050" stroke="#A5A5A5" stroke-width="0.9"/>
<circle cx="160.4" cy="502.4" r="3.3" fill="#00B050" stroke="#A5A5A5" stroke-width="0.9"/>
<circle cx="166.2" cy="512.3" r="3.3" fill="#00B050" stroke="#A5A5A5" stroke-width="0.9"/>
<circle cx="172" cy="509.2" r="3.3" fill="#00B050" stroke="#A5A5A5" stroke-width="0.9"/>
<circle cx="177.8" cy="503" r="3.3" fill="#00B050" stroke="#A5A5A5" stroke-width="0.9"/>
<circle cx="183.6" cy="515.2" r="3.3" fill="#00B050" stroke="#A5A5A5" stroke-width="0.9"/>
<circle cx="189.3" cy="502.8" r="3.3" fill="#00B050" stroke="#A5A5A5" stroke-width="0.9"/>
<circle cx="195.1" cy="504.4" r="3.3" fill="#00B050" stroke="#A5A5A5" stroke-width="0.9"/>
<circle cx="200.9" cy="506.9" r="3.3" fill="#00B050" stroke="#A5A5A5" stroke-width="0.9"/>
<circle cx="206.7" cy="508.8" r="3.3" fill="#00B050" stroke="#A5A5A5" stroke-width="0.9"/>
<circle cx="212.5" cy="519.7" r="3.3" fill="#00B050" stroke="#A5A5A5" stroke-width="0.9"/>
<circle cx="218.2" cy="518.5" r="3.3" fill="#00B050" stroke="#A5A5A5" stroke-width="0.9"/>
<circle cx="224" cy="506.5" r="3.3" fill="#00B050" stroke="#A5A5A5" stroke-width="0.9"/>
<circle cx="229.8" cy="506.9" r="3.3" fill="#00B050" stroke="#A5A5A5" stroke-width="0.9"/>
<circle cx="235.6" cy="501.7" r="3.3" fill="#00B050" stroke="#A5A5A5" stroke-width="0.9"/>
<circle cx="241.3" cy="500.7" r="3.3" fill="#00B050" stroke="#A5A5A5" stroke-width="0.9"/>
<circle cx="247.1" cy="512.5" r="3.3" fill="#00B050" stroke="#A5A5A5" stroke-width="0.9"/>
<circle cx="252.9" cy="498" r="3.3" fill="#00B050" stroke="#A5A5A5" stroke-width="0.9"/>
<circle cx="258.7" cy="504.8" r="3.3" fill="#00B050" stroke="#A5A5A5" stroke-width="0.9"/>
<circle cx="264.5" cy="510.2" r="3.3" fill="#00B050" stroke="#A5A5A5" stroke-width="0.9"/>
<circle cx="270.2" cy="512.9" r="3.3" fill="#00B050" stroke="#A5A5A5" stroke-width="0.9"/>
<circle cx="276" cy="519.1" r="3.3" fill="#00B050" stroke="#A5A5A5" stroke-width="0.9"/>
<circle cx="281.8" cy="519.1" r="3.3" fill="#00B050" stroke="#A5A5A5" stroke-width="0.9"/>
<circle cx="287.6" cy="503.4" r="3.3" fill="#00B050" stroke="#A5A5A5" stroke-width="0.9"/>
<circle cx="293.4" cy="508.1" r="3.3" fill="#00B050" stroke="#A5A5A5" stroke-width="0.9"/>
<circle cx="299.1" cy="530.3" r="3.3" fill="#00B050" stroke="#A5A5A5" stroke-width="0.9"/>
<circle cx="304.9" cy="504.2" r="3.3" fill="#00B050" stroke="#A5A5A5" stroke-width="0.9"/>
<circle cx="310.7" cy="492.4" r="3.3" fill="#00B050" stroke="#A5A5A5" stroke-width="0.9"/>
<circle cx="316.5" cy="518.5" r="3.3" fill="#00B050" stroke="#A5A5A5" stroke-width="0.9"/>
<circle cx="322.3" cy="509.8" r="3.3" fill="#00B050" stroke="#A5A5A5" stroke-width="0.9"/>
<circle cx="328.1" cy="513.9" r="3.3" fill="#00B050" stroke="#A5A5A5" stroke-width="0.9"/>
<circle cx="333.8" cy="520.1" r="3.3" fill="#00B050" stroke="#A5A5A5" stroke-width="0.9"/>
<circle cx="339.6" cy="521.2" r="3.3" fill="#00B050" stroke="#A5A5A5" stroke-width="0.9"/>
<circle cx="345.4" cy="509.8" r="3.3" fill="#00B050" stroke="#A5A5A5" stroke-width="0.9"/>
<circle cx="351.2" cy="506.9" r="3.3" fill="#00B050" stroke="#A5A5A5" stroke-width="0.9"/>
<circle cx="356.9" cy="494.9" r="3.3" fill="#00B050" stroke="#A5A5A5" stroke-width="0.9"/>
<circle cx="362.7" cy="485.4" r="3.3" fill="#00B050" stroke="#A5A5A5" stroke-width="0.9"/>
<circle cx="368.5" cy="513.5" r="3.3" fill="#00B050" stroke="#A5A5A5" stroke-width="0.9"/>
<circle cx="374.3" cy="506.3" r="3.3" fill="#00B050" stroke="#A5A5A5" stroke-width="0.9"/>
<circle cx="380.1" cy="520.1" r="3.3" fill="#00B050" stroke="#A5A5A5" stroke-width="0.9"/>
<circle cx="385.9" cy="499.7" r="3.3" fill="#00B050" stroke="#A5A5A5" stroke-width="0.9"/>
<circle cx="391.6" cy="511.2" r="3.3" fill="#00B050" stroke="#A5A5A5" stroke-width="0.9"/>
<circle cx="397.4" cy="498.6" r="3.3" fill="#00B050" stroke="#A5A5A5" stroke-width="0.9"/>
<circle cx="403.2" cy="493.1" r="3.3" fill="#00B050" stroke="#A5A5A5" stroke-width="0.9"/>
<circle cx="409" cy="489.6" r="3.3" fill="#00B050" stroke="#A5A5A5" stroke-width="0.9"/>
<circle cx="414.8" cy="486.9" r="3.3" fill="#00B050" stroke="#A5A5A5" stroke-width="0.9"/>
<circle cx="420.5" cy="501.1" r="3.3" fill="#00B050" stroke="#A5A5A5" stroke-width="0.9"/>
<circle cx="426.3" cy="496.6" r="3.3" fill="#00B050" stroke="#A5A5A5" stroke-width="0.9"/>
<circle cx="432.1" cy="512.3" r="3.3" fill="#00B050" stroke="#A5A5A5" stroke-width="0.9"/>
<circle cx="437.9" cy="477.6" r="3.3" fill="#00B050" stroke="#A5A5A5" stroke-width="0.9"/>
<circle cx="443.7" cy="485.4" r="3.3" fill="#00B050" stroke="#A5A5A5" stroke-width="0.9"/>
<circle cx="449.4" cy="507.7" r="3.3" fill="#00B050" stroke="#A5A5A5" stroke-width="0.9"/>
<circle cx="455.2" cy="500.7" r="3.3" fill="#00B050" stroke="#A5A5A5" stroke-width="0.9"/>
<circle cx="461" cy="507.3" r="3.3" fill="#00B050" stroke="#A5A5A5" stroke-width="0.9"/>
<circle cx="466.8" cy="518.5" r="3.3" fill="#00B050" stroke="#A5A5A5" stroke-width="0.9"/>
<circle cx="472.6" cy="505.9" r="3.3" fill="#00B050" stroke="#A5A5A5" stroke-width="0.9"/>
<circle cx="478.3" cy="512.9" r="3.3" fill="#00B050" stroke="#A5A5A5" stroke-width="0.9"/>
<circle cx="484.1" cy="498" r="3.3" fill="#00B050" stroke="#A5A5A5" stroke-width="0.9"/>
<circle cx="489.9" cy="488.3" r="3.3" fill="#00B050" stroke="#A5A5A5" stroke-width="0.9"/>
<circle cx="495.7" cy="496.6" r="3.3" fill="#00B050" stroke="#A5A5A5" stroke-width="0.9"/>
<circle cx="501.5" cy="480.3" r="3.3" fill="#00B050" stroke="#A5A5A5" stroke-width="0.9"/>
<circle cx="507.2" cy="514.3" r="3.3" fill="#00B050" stroke="#A5A5A5" stroke-width="0.9"/>
<circle cx="513" cy="504.2" r="3.3" fill="#00B050" stroke="#A5A5A5" stroke-width="0.9"/>
<circle cx="518.8" cy="488.3" r="3.3" fill="#00B050" stroke="#A5A5A5" stroke-width="0.9"/>
<circle cx="524.6" cy="501.3" r="3.3" fill="#00B050" stroke="#A5A5A5" stroke-width="0.9"/>
<circle cx="530.4" cy="513.9" r="3.3" fill="#00B050" stroke="#A5A5A5" stroke-width="0.9"/>
<circle cx="536.1" cy="502.4" r="3.3" fill="#00B050" stroke="#A5A5A5" stroke-width="0.9"/>
<circle cx="541.9" cy="489.3" r="3.3" fill="#00B050" stroke="#A5A5A5" stroke-width="0.9"/>
<circle cx="547.7" cy="496.6" r="3.3" fill="#00B050" stroke="#A5A5A5" stroke-width="0.9"/>
<circle cx="553.5" cy="510.2" r="3.3" fill="#00B050" stroke="#A5A5A5" stroke-width="0.9"/>
<circle cx="559.2" cy="511.2" r="3.3" fill="#00B050" stroke="#A5A5A5" stroke-width="0.9"/>
<circle cx="565" cy="509.8" r="3.3" fill="#00B050" stroke="#A5A5A5" stroke-width="0.9"/>
<circle cx="570.8" cy="501.3" r="3.3" fill="#00B050" stroke="#A5A5A5" stroke-width="0.9"/>
<circle cx="576.6" cy="502.4" r="3.3" fill="#00B050" stroke="#A5A5A5" stroke-width="0.9"/>
<circle cx="582.4" cy="497.2" r="3.3" fill="#00B050" stroke="#A5A5A5" stroke-width="0.9"/>
<circle cx="588.1" cy="504.8" r="3.3" fill="#00B050" stroke="#A5A5A5" stroke-width="0.9"/>
<circle cx="593.9" cy="518.5" r="3.3" fill="#00B050" stroke="#A5A5A5" stroke-width="0.9"/>
<circle cx="599.7" cy="520.8" r="3.3" fill="#00B050" stroke="#A5A5A5" stroke-width="0.9"/>
<circle cx="605.5" cy="521.8" r="3.3" fill="#00B050" stroke="#A5A5A5" stroke-width="0.9"/>
<circle cx="611.3" cy="513.9" r="3.3" fill="#00B050" stroke="#A5A5A5" stroke-width="0.9"/>
<circle cx="617.1" cy="477.2" r="3.3" fill="#00B050" stroke="#A5A5A5" stroke-width="0.9"/>
<circle cx="622.8" cy="514.3" r="3.3" fill="#00B050" stroke="#A5A5A5" stroke-width="0.9"/>
<circle cx="628.6" cy="509.8" r="3.3" fill="#00B050" stroke="#A5A5A5" stroke-width="0.9"/>
<circle cx="634.4" cy="505.9" r="3.3" fill="#00B050" stroke="#A5A5A5" stroke-width="0.9"/>
<circle cx="640.2" cy="488.9" r="3.3" fill="#00B050" stroke="#A5A5A5" stroke-width="0.9"/>
<circle cx="646" cy="494.1" r="3.3" fill="#00B050" stroke="#A5A5A5" stroke-width="0.9"/>
<circle cx="651.7" cy="486.7" r="3.3" fill="#00B050" stroke="#A5A5A5" stroke-width="0.9"/>
<circle cx="657.5" cy="500.7" r="3.3" fill="#00B050" stroke="#A5A5A5" stroke-width="0.9"/>
<circle cx="663.3" cy="497.2" r="3.3" fill="#00B050" stroke="#A5A5A5" stroke-width="0.9"/>
<circle cx="669.1" cy="495.5" r="3.3" fill="#00B050" stroke="#A5A5A5" stroke-width="0.9"/>
<circle cx="674.9" cy="499.3" r="3.3" fill="#00B050" stroke="#A5A5A5" stroke-width="0.9"/>
<circle cx="680.6" cy="510.8" r="3.3" fill="#00B050" stroke="#A5A5A5" stroke-width="0.9"/>
<polyline points="56.4,496.6 62.2,486.5 68,481.3 73.7,485.4 79.5,470.5 85.3,497.6 91.1,482.9 96.8,465.6 102.6,478.8 108.4,494.5 114.2,499.3 120,491.8 125.8,502.8 131.5,494.5 137.3,496 143.1,489.8 148.9,477.6 154.7,468.5 160.4,457.1 166.2,456.3 172,478.8 177.8,473.4 183.6,493.1 189.3,494.5 195.1,497.6 200.9,479.6 206.7,488.5 212.5,505.9 218.2,456.3 224,457.7 229.8,474.5 235.6,469.9 241.3,485.4 247.1,475.1 252.9,485 258.7,486 264.5,457.3 270.2,424.7 276,447.6 281.8,423 287.6,454.6 293.4,459.2 299.1,434.8 304.9,421 310.7,444.9 316.5,445.5 322.3,420.5 328.1,431.3 333.8,447.6 339.6,451.5 345.4,446.6 351.2,426.1 356.9,459.4 362.7,426.1 368.5,435.8 374.3,443.9 380.1,416.8 385.9,424.5 391.6,413.7 397.4,428.8 403.2,466 409,490.4 414.8,468.1 420.5,454 426.3,451.5 432.1,449.7 437.9,457.3 443.7,468.7 449.4,446.6 455.2,478.2 461,479.6 466.8,471 472.6,477.2 478.3,441.4 484.1,452.6 489.9,469.3 495.7,446.6 501.5,447.6 507.2,481.3 513,452.6 518.8,451.5 524.6,447.6 530.4,436.7 536.1,457.7 541.9,451.5 547.7,474.1 553.5,459.4 559.2,462.5 565,470.3 570.8,473.4 576.6,473.4 582.4,472.6 588.1,449.7 593.9,473.4 599.7,484.4 605.5,461.9 611.3,479.6 617.1,483.8 622.8,454.6 628.6,457.1 634.4,474.7 640.2,471" fill="none" stroke="#FFC000" stroke-width="1.0" stroke-linejoin="round" />
<path d="M56.4,492.4 L60.6,500.8 L52.2,500.8 z" fill="#747070" stroke="#353232" stroke-width="1.0" stroke-linejoin="miter"/>
<path d="M62.2,482.3 L66.4,490.7 L58,490.7 z" fill="#747070" stroke="#353232" stroke-width="1.0" stroke-linejoin="miter"/>
<path d="M68,477.1 L72.2,485.5 L63.8,485.5 z" fill="#747070" stroke="#353232" stroke-width="1.0" stroke-linejoin="miter"/>
<path d="M73.7,481.2 L77.9,489.6 L69.5,489.6 z" fill="#747070" stroke="#353232" stroke-width="1.0" stroke-linejoin="miter"/>
<path d="M79.5,466.3 L83.7,474.7 L75.3,474.7 z" fill="#747070" stroke="#353232" stroke-width="1.0" stroke-linejoin="miter"/>
<path d="M85.3,493.4 L89.5,501.8 L81.1,501.8 z" fill="#747070" stroke="#353232" stroke-width="1.0" stroke-linejoin="miter"/>
<path d="M91.1,478.7 L95.3,487.1 L86.9,487.1 z" fill="#747070" stroke="#353232" stroke-width="1.0" stroke-linejoin="miter"/>
<path d="M96.8,461.4 L101,469.8 L92.6,469.8 z" fill="#747070" stroke="#353232" stroke-width="1.0" stroke-linejoin="miter"/>
<path d="M102.6,474.6 L106.8,483 L98.4,483 z" fill="#747070" stroke="#353232" stroke-width="1.0" stroke-linejoin="miter"/>
<path d="M108.4,490.3 L112.6,498.7 L104.2,498.7 z" fill="#747070" stroke="#353232" stroke-width="1.0" stroke-linejoin="miter"/>
<path d="M114.2,495.1 L118.4,503.5 L110,503.5 z" fill="#747070" stroke="#353232" stroke-width="1.0" stroke-linejoin="miter"/>
<path d="M120,487.6 L124.2,496 L115.8,496 z" fill="#747070" stroke="#353232" stroke-width="1.0" stroke-linejoin="miter"/>
<path d="M125.8,498.6 L129.9,507 L121.5,507 z" fill="#747070" stroke="#353232" stroke-width="1.0" stroke-linejoin="miter"/>
<path d="M131.5,490.3 L135.7,498.7 L127.3,498.7 z" fill="#747070" stroke="#353232" stroke-width="1.0" stroke-linejoin="miter"/>
<path d="M137.3,491.8 L141.5,500.2 L133.1,500.2 z" fill="#747070" stroke="#353232" stroke-width="1.0" stroke-linejoin="miter"/>
<path d="M143.1,485.6 L147.3,494 L138.9,494 z" fill="#747070" stroke="#353232" stroke-width="1.0" stroke-linejoin="miter"/>
<path d="M148.9,473.4 L153.1,481.8 L144.7,481.8 z" fill="#747070" stroke="#353232" stroke-width="1.0" stroke-linejoin="miter"/>
<path d="M154.7,464.3 L158.8,472.7 L150.5,472.7 z" fill="#747070" stroke="#353232" stroke-width="1.0" stroke-linejoin="miter"/>
<path d="M160.4,452.9 L164.6,461.3 L156.2,461.3 z" fill="#747070" stroke="#353232" stroke-width="1.0" stroke-linejoin="miter"/>
<path d="M166.2,452.1 L170.4,460.5 L162,460.5 z" fill="#747070" stroke="#353232" stroke-width="1.0" stroke-linejoin="miter"/>
<path d="M172,474.6 L176.2,483 L167.8,483 z" fill="#747070" stroke="#353232" stroke-width="1.0" stroke-linejoin="miter"/>
<path d="M177.8,469.2 L182,477.6 L173.6,477.6 z" fill="#747070" stroke="#353232" stroke-width="1.0" stroke-linejoin="miter"/>
<path d="M183.6,488.9 L187.8,497.3 L179.4,497.3 z" fill="#747070" stroke="#353232" stroke-width="1.0" stroke-linejoin="miter"/>
<path d="M189.3,490.3 L193.5,498.7 L185.1,498.7 z" fill="#747070" stroke="#353232" stroke-width="1.0" stroke-linejoin="miter"/>
<path d="M195.1,493.4 L199.3,501.8 L190.9,501.8 z" fill="#747070" stroke="#353232" stroke-width="1.0" stroke-linejoin="miter"/>
<path d="M200.9,475.4 L205.1,483.8 L196.7,483.8 z" fill="#747070" stroke="#353232" stroke-width="1.0" stroke-linejoin="miter"/>
<path d="M206.7,484.3 L210.9,492.7 L202.5,492.7 z" fill="#747070" stroke="#353232" stroke-width="1.0" stroke-linejoin="miter"/>
<path d="M212.5,501.7 L216.7,510.1 L208.3,510.1 z" fill="#747070" stroke="#353232" stroke-width="1.0" stroke-linejoin="miter"/>
<path d="M218.2,452.1 L222.4,460.5 L214,460.5 z" fill="#747070" stroke="#353232" stroke-width="1.0" stroke-linejoin="miter"/>
<path d="M224,453.5 L228.2,461.9 L219.8,461.9 z" fill="#747070" stroke="#353232" stroke-width="1.0" stroke-linejoin="miter"/>
<path d="M229.8,470.3 L234,478.7 L225.6,478.7 z" fill="#747070" stroke="#353232" stroke-width="1.0" stroke-linejoin="miter"/>
<path d="M235.6,465.7 L239.8,474.1 L231.4,474.1 z" fill="#747070" stroke="#353232" stroke-width="1.0" stroke-linejoin="miter"/>
<path d="M241.3,481.2 L245.5,489.6 L237.2,489.6 z" fill="#747070" stroke="#353232" stroke-width="1.0" stroke-linejoin="miter"/>
<path d="M247.1,470.9 L251.3,479.3 L242.9,479.3 z" fill="#747070" stroke="#353232" stroke-width="1.0" stroke-linejoin="miter"/>
<path d="M252.9,480.8 L257.1,489.2 L248.7,489.2 z" fill="#747070" stroke="#353232" stroke-width="1.0" stroke-linejoin="miter"/>
<path d="M258.7,481.8 L262.9,490.2 L254.5,490.2 z" fill="#747070" stroke="#353232" stroke-width="1.0" stroke-linejoin="miter"/>
<path d="M264.5,453.1 L268.7,461.5 L260.3,461.5 z" fill="#747070" stroke="#353232" stroke-width="1.0" stroke-linejoin="miter"/>
<path d="M270.2,420.5 L274.4,428.9 L266.1,428.9 z" fill="#747070" stroke="#353232" stroke-width="1.0" stroke-linejoin="miter"/>
<path d="M276,443.4 L280.2,451.8 L271.8,451.8 z" fill="#747070" stroke="#353232" stroke-width="1.0" stroke-linejoin="miter"/>
<path d="M281.8,418.8 L286,427.2 L277.6,427.2 z" fill="#747070" stroke="#353232" stroke-width="1.0" stroke-linejoin="miter"/>
<path d="M287.6,450.4 L291.8,458.8 L283.4,458.8 z" fill="#747070" stroke="#353232" stroke-width="1.0" stroke-linejoin="miter"/>
<path d="M293.4,455 L297.6,463.4 L289.2,463.4 z" fill="#747070" stroke="#353232" stroke-width="1.0" stroke-linejoin="miter"/>
<path d="M299.1,430.6 L303.3,439 L294.9,439 z" fill="#747070" stroke="#353232" stroke-width="1.0" stroke-linejoin="miter"/>
<path d="M304.9,416.8 L309.1,425.2 L300.7,425.2 z" fill="#747070" stroke="#353232" stroke-width="1.0" stroke-linejoin="miter"/>
<path d="M310.7,440.7 L314.9,449.1 L306.5,449.1 z" fill="#747070" stroke="#353232" stroke-width="1.0" stroke-linejoin="miter"/>
<path d="M316.5,441.3 L320.7,449.7 L312.3,449.7 z" fill="#747070" stroke="#353232" stroke-width="1.0" stroke-linejoin="miter"/>
<path d="M322.3,416.3 L326.5,424.7 L318.1,424.7 z" fill="#747070" stroke="#353232" stroke-width="1.0" stroke-linejoin="miter"/>
<path d="M328.1,427.1 L332.2,435.5 L323.9,435.5 z" fill="#747070" stroke="#353232" stroke-width="1.0" stroke-linejoin="miter"/>
<path d="M333.8,443.4 L338,451.8 L329.6,451.8 z" fill="#747070" stroke="#353232" stroke-width="1.0" stroke-linejoin="miter"/>
<path d="M339.6,447.3 L343.8,455.7 L335.4,455.7 z" fill="#747070" stroke="#353232" stroke-width="1.0" stroke-linejoin="miter"/>
<path d="M345.4,442.4 L349.6,450.8 L341.2,450.8 z" fill="#747070" stroke="#353232" stroke-width="1.0" stroke-linejoin="miter"/>
<path d="M351.2,421.9 L355.4,430.3 L347,430.3 z" fill="#747070" stroke="#353232" stroke-width="1.0" stroke-linejoin="miter"/>
<path d="M356.9,455.2 L361.1,463.6 L352.8,463.6 z" fill="#747070" stroke="#353232" stroke-width="1.0" stroke-linejoin="miter"/>
<path d="M362.7,421.9 L366.9,430.3 L358.5,430.3 z" fill="#747070" stroke="#353232" stroke-width="1.0" stroke-linejoin="miter"/>
<path d="M368.5,431.6 L372.7,440 L364.3,440 z" fill="#747070" stroke="#353232" stroke-width="1.0" stroke-linejoin="miter"/>
<path d="M374.3,439.7 L378.5,448.1 L370.1,448.1 z" fill="#747070" stroke="#353232" stroke-width="1.0" stroke-linejoin="miter"/>
<path d="M380.1,412.6 L384.3,421 L375.9,421 z" fill="#747070" stroke="#353232" stroke-width="1.0" stroke-linejoin="miter"/>
<path d="M385.9,420.3 L390.1,428.7 L381.7,428.7 z" fill="#747070" stroke="#353232" stroke-width="1.0" stroke-linejoin="miter"/>
<path d="M391.6,409.5 L395.8,417.9 L387.4,417.9 z" fill="#747070" stroke="#353232" stroke-width="1.0" stroke-linejoin="miter"/>
<path d="M397.4,424.6 L401.6,433 L393.2,433 z" fill="#747070" stroke="#353232" stroke-width="1.0" stroke-linejoin="miter"/>
<path d="M403.2,461.8 L407.4,470.2 L399,470.2 z" fill="#747070" stroke="#353232" stroke-width="1.0" stroke-linejoin="miter"/>
<path d="M409,486.2 L413.2,494.6 L404.8,494.6 z" fill="#747070" stroke="#353232" stroke-width="1.0" stroke-linejoin="miter"/>
<path d="M414.8,463.9 L418.9,472.3 L410.6,472.3 z" fill="#747070" stroke="#353232" stroke-width="1.0" stroke-linejoin="miter"/>
<path d="M420.5,449.8 L424.7,458.2 L416.3,458.2 z" fill="#747070" stroke="#353232" stroke-width="1.0" stroke-linejoin="miter"/>
<path d="M426.3,447.3 L430.5,455.7 L422.1,455.7 z" fill="#747070" stroke="#353232" stroke-width="1.0" stroke-linejoin="miter"/>
<path d="M432.1,445.5 L436.3,453.9 L427.9,453.9 z" fill="#747070" stroke="#353232" stroke-width="1.0" stroke-linejoin="miter"/>
<path d="M437.9,453.1 L442.1,461.5 L433.7,461.5 z" fill="#747070" stroke="#353232" stroke-width="1.0" stroke-linejoin="miter"/>
<path d="M443.7,464.5 L447.9,472.9 L439.5,472.9 z" fill="#747070" stroke="#353232" stroke-width="1.0" stroke-linejoin="miter"/>
<path d="M449.4,442.4 L453.6,450.8 L445.2,450.8 z" fill="#747070" stroke="#353232" stroke-width="1.0" stroke-linejoin="miter"/>
<path d="M455.2,474 L459.4,482.4 L451,482.4 z" fill="#747070" stroke="#353232" stroke-width="1.0" stroke-linejoin="miter"/>
<path d="M461,475.4 L465.2,483.8 L456.8,483.8 z" fill="#747070" stroke="#353232" stroke-width="1.0" stroke-linejoin="miter"/>
<path d="M466.8,466.8 L471,475.2 L462.6,475.2 z" fill="#747070" stroke="#353232" stroke-width="1.0" stroke-linejoin="miter"/>
<path d="M472.6,473 L476.8,481.4 L468.4,481.4 z" fill="#747070" stroke="#353232" stroke-width="1.0" stroke-linejoin="miter"/>
<path d="M478.3,437.2 L482.5,445.6 L474.1,445.6 z" fill="#747070" stroke="#353232" stroke-width="1.0" stroke-linejoin="miter"/>
<path d="M484.1,448.4 L488.3,456.8 L479.9,456.8 z" fill="#747070" stroke="#353232" stroke-width="1.0" stroke-linejoin="miter"/>
<path d="M489.9,465.1 L494.1,473.5 L485.7,473.5 z" fill="#747070" stroke="#353232" stroke-width="1.0" stroke-linejoin="miter"/>
<path d="M495.7,442.4 L499.9,450.8 L491.5,450.8 z" fill="#747070" stroke="#353232" stroke-width="1.0" stroke-linejoin="miter"/>
<path d="M501.5,443.4 L505.7,451.8 L497.3,451.8 z" fill="#747070" stroke="#353232" stroke-width="1.0" stroke-linejoin="miter"/>
<path d="M507.2,477.1 L511.4,485.5 L503,485.5 z" fill="#747070" stroke="#353232" stroke-width="1.0" stroke-linejoin="miter"/>
<path d="M513,448.4 L517.2,456.8 L508.8,456.8 z" fill="#747070" stroke="#353232" stroke-width="1.0" stroke-linejoin="miter"/>
<path d="M518.8,447.3 L523,455.7 L514.6,455.7 z" fill="#747070" stroke="#353232" stroke-width="1.0" stroke-linejoin="miter"/>
<path d="M524.6,443.4 L528.8,451.8 L520.4,451.8 z" fill="#747070" stroke="#353232" stroke-width="1.0" stroke-linejoin="miter"/>
<path d="M530.4,432.5 L534.6,440.9 L526.1,440.9 z" fill="#747070" stroke="#353232" stroke-width="1.0" stroke-linejoin="miter"/>
<path d="M536.1,453.5 L540.3,461.9 L531.9,461.9 z" fill="#747070" stroke="#353232" stroke-width="1.0" stroke-linejoin="miter"/>
<path d="M541.9,447.3 L546.1,455.7 L537.7,455.7 z" fill="#747070" stroke="#353232" stroke-width="1.0" stroke-linejoin="miter"/>
<path d="M547.7,469.9 L551.9,478.3 L543.5,478.3 z" fill="#747070" stroke="#353232" stroke-width="1.0" stroke-linejoin="miter"/>
<path d="M553.5,455.2 L557.7,463.6 L549.3,463.6 z" fill="#747070" stroke="#353232" stroke-width="1.0" stroke-linejoin="miter"/>
<path d="M559.2,458.3 L563.5,466.7 L555,466.7 z" fill="#747070" stroke="#353232" stroke-width="1.0" stroke-linejoin="miter"/>
<path d="M565,466.1 L569.2,474.5 L560.8,474.5 z" fill="#747070" stroke="#353232" stroke-width="1.0" stroke-linejoin="miter"/>
<path d="M570.8,469.2 L575,477.6 L566.6,477.6 z" fill="#747070" stroke="#353232" stroke-width="1.0" stroke-linejoin="miter"/>
<path d="M576.6,469.2 L580.8,477.6 L572.4,477.6 z" fill="#747070" stroke="#353232" stroke-width="1.0" stroke-linejoin="miter"/>
<path d="M582.4,468.4 L586.6,476.8 L578.2,476.8 z" fill="#747070" stroke="#353232" stroke-width="1.0" stroke-linejoin="miter"/>
<path d="M588.1,445.5 L592.4,453.9 L583.9,453.9 z" fill="#747070" stroke="#353232" stroke-width="1.0" stroke-linejoin="miter"/>
<path d="M593.9,469.2 L598.1,477.6 L589.7,477.6 z" fill="#747070" stroke="#353232" stroke-width="1.0" stroke-linejoin="miter"/>
<path d="M599.7,480.2 L603.9,488.6 L595.5,488.6 z" fill="#747070" stroke="#353232" stroke-width="1.0" stroke-linejoin="miter"/>
<path d="M605.5,457.7 L609.7,466.1 L601.3,466.1 z" fill="#747070" stroke="#353232" stroke-width="1.0" stroke-linejoin="miter"/>
<path d="M611.3,475.4 L615.5,483.8 L607.1,483.8 z" fill="#747070" stroke="#353232" stroke-width="1.0" stroke-linejoin="miter"/>
<path d="M617.1,479.6 L621.3,488 L612.9,488 z" fill="#747070" stroke="#353232" stroke-width="1.0" stroke-linejoin="miter"/>
<path d="M622.8,450.4 L627,458.8 L618.6,458.8 z" fill="#747070" stroke="#353232" stroke-width="1.0" stroke-linejoin="miter"/>
<path d="M628.6,452.9 L632.8,461.3 L624.4,461.3 z" fill="#747070" stroke="#353232" stroke-width="1.0" stroke-linejoin="miter"/>
<path d="M634.4,470.5 L638.6,478.9 L630.2,478.9 z" fill="#747070" stroke="#353232" stroke-width="1.0" stroke-linejoin="miter"/>
<path d="M640.2,466.8 L644.4,475.2 L636,475.2 z" fill="#747070" stroke="#353232" stroke-width="1.0" stroke-linejoin="miter"/>
</g>
<g id="chart3">
<text class="t2" x="213.9" y="633.7">Seasonal Variation of PM<tspan dy="5.6" font-size="14.6px">2.5</tspan></text>
<polyline points="53.1,642.3 53.1,836.4 681.0,836.4" fill="none" stroke="#262626" stroke-width="1.35" stroke-linejoin="round"/>
<text class="tk2" x="39.2" y="841.9" text-anchor="end">0</text>
<text class="tk2" x="39.2" y="803" text-anchor="end">20</text>
<text class="tk2" x="39.2" y="764.1" text-anchor="end">40</text>
<text class="tk2" x="39.2" y="725.3" text-anchor="end">60</text>
<text class="tk2" x="39.2" y="686.4" text-anchor="end">80</text>
<text class="tk2" x="39.2" y="647.5" text-anchor="end">100</text>
<text class="tk2" x="56" y="860.1" text-anchor="middle">1</text>
<text class="tk2" x="228.8" y="860.1" text-anchor="middle">31</text>
<text class="tk2" x="401.6" y="860.1" text-anchor="middle">61</text>
<text class="tk2" x="574.4" y="860.1" text-anchor="middle">91</text>
<text class="ax2" x="367.5" y="876.7" text-anchor="middle">Number of days</text>
<text class="ay2" transform="translate(13,822.2) rotate(-90)"><tspan letter-spacing="0.2">Concentration</tspan> (<tspan letter-spacing="0.15">µg/m</tspan><tspan dy="-5.5" font-size="9.5px" letter-spacing="1.0">3</tspan><tspan dy="5.5">)</tspan></text>
<line x1="114.6" y1="648.3" x2="146.6" y2="648.3" stroke="#4472C4" stroke-width="1"/>
<rect x="126.5" y="644.3" width="8.0" height="8.0" fill="#4472C4" stroke="#1FA9EF" stroke-width="1.3"/>
<text class="lg2" x="150.1" y="653.4">Winter</text>
<line x1="223.8" y1="648.3" x2="255.7" y2="648.3" stroke="#ED7D31" stroke-width="1"/>
<path d="M239.7,644 l4.25,4.25 l-4.25,4.25 l-4.25,-4.25 z" fill="#FFC000" stroke="#ED7D31" stroke-width="1.15"/>
<text class="lg2" x="258.4" y="653.4">Summer</text>
<line x1="342.7" y1="648.3" x2="374.5" y2="648.3" stroke="#A5A5A5" stroke-width="0.9"/>
<circle cx="358.5" cy="648.3" r="3.3" fill="#00B050" stroke="#A5A5A5" stroke-width="0.9"/>
<text class="lg2" x="377.7" y="653.4">Monsoon</text>
<line x1="465.9" y1="648.3" x2="497.6" y2="648.3" stroke="#FFC000" stroke-width="1.0"/>
<path d="M481.8,644.1 L486,652.5 L477.6,652.5 z" fill="#747070" stroke="#353232" stroke-width="1.0" stroke-linejoin="miter"/>
<text class="lg2" x="501.7" y="653.4">Post-Monsoon</text>
<polyline points="56,736.8 61.7,749.6 67.5,759.7 73.3,757.7 79,760.6 84.8,728 90.5,700.5 96.3,748.8 102.1,765.1 107.8,748.8 113.6,731.9 119.3,718.2 125.1,686.9 130.9,710.4 136.6,729.6 142.4,733.9 148.1,736.8 153.9,741.4 159.7,764.5 165.4,750.9 171.2,711.4 176.9,746.3 182.7,770.7 188.5,780 194.2,760.6 200,751.5 205.7,765.5 211.5,782 217.3,773.2 223,776.9 228.8,778.5 234.5,757.7 240.3,753.1 246.1,730.6 251.8,733.9 257.6,765.1 263.3,744.3 269.1,720.1 274.9,720.9 280.6,706.3 286.4,704 292.1,706.3 297.9,715.2 303.7,718.5 309.4,747.3 315.2,745.9 320.9,731 326.7,722.8 332.5,730.4 338.2,719.5 344,728.6 349.7,718.5 355.5,724.2 361.3,758.7 367,770.7 372.8,767.4 378.5,749.2 384.3,762.2 390.1,763.5" fill="none" stroke="#4472C4" stroke-width="1" stroke-linejoin="round" />
<rect x="52" y="732.8" width="8.0" height="8.0" fill="#4472C4" stroke="#1FA9EF" stroke-width="1.3"/>
<rect x="57.7" y="745.6" width="8.0" height="8.0" fill="#4472C4" stroke="#1FA9EF" stroke-width="1.3"/>
<rect x="63.5" y="755.7" width="8.0" height="8.0" fill="#4472C4" stroke="#1FA9EF" stroke-width="1.3"/>
<rect x="69.3" y="753.7" width="8.0" height="8.0" fill="#4472C4" stroke="#1FA9EF" stroke-width="1.3"/>
<rect x="75" y="756.6" width="8.0" height="8.0" fill="#4472C4" stroke="#1FA9EF" stroke-width="1.3"/>
<rect x="80.8" y="724" width="8.0" height="8.0" fill="#4472C4" stroke="#1FA9EF" stroke-width="1.3"/>
<rect x="86.5" y="696.5" width="8.0" height="8.0" fill="#4472C4" stroke="#1FA9EF" stroke-width="1.3"/>
<rect x="92.3" y="744.8" width="8.0" height="8.0" fill="#4472C4" stroke="#1FA9EF" stroke-width="1.3"/>
<rect x="98.1" y="761.1" width="8.0" height="8.0" fill="#4472C4" stroke="#1FA9EF" stroke-width="1.3"/>
<rect x="103.8" y="744.8" width="8.0" height="8.0" fill="#4472C4" stroke="#1FA9EF" stroke-width="1.3"/>
<rect x="109.6" y="727.9" width="8.0" height="8.0" fill="#4472C4" stroke="#1FA9EF" stroke-width="1.3"/>
<rect x="115.3" y="714.2" width="8.0" height="8.0" fill="#4472C4" stroke="#1FA9EF" stroke-width="1.3"/>
<rect x="121.1" y="682.9" width="8.0" height="8.0" fill="#4472C4" stroke="#1FA9EF" stroke-width="1.3"/>
<rect x="126.9" y="706.4" width="8.0" height="8.0" fill="#4472C4" stroke="#1FA9EF" stroke-width="1.3"/>
<rect x="132.6" y="725.6" width="8.0" height="8.0" fill="#4472C4" stroke="#1FA9EF" stroke-width="1.3"/>
<rect x="138.4" y="729.9" width="8.0" height="8.0" fill="#4472C4" stroke="#1FA9EF" stroke-width="1.3"/>
<rect x="144.1" y="732.8" width="8.0" height="8.0" fill="#4472C4" stroke="#1FA9EF" stroke-width="1.3"/>
<rect x="149.9" y="737.4" width="8.0" height="8.0" fill="#4472C4" stroke="#1FA9EF" stroke-width="1.3"/>
<rect x="155.7" y="760.5" width="8.0" height="8.0" fill="#4472C4" stroke="#1FA9EF" stroke-width="1.3"/>
<rect x="161.4" y="746.9" width="8.0" height="8.0" fill="#4472C4" stroke="#1FA9EF" stroke-width="1.3"/>
<rect x="167.2" y="707.4" width="8.0" height="8.0" fill="#4472C4" stroke="#1FA9EF" stroke-width="1.3"/>
<rect x="172.9" y="742.3" width="8.0" height="8.0" fill="#4472C4" stroke="#1FA9EF" stroke-width="1.3"/>
<rect x="178.7" y="766.7" width="8.0" height="8.0" fill="#4472C4" stroke="#1FA9EF" stroke-width="1.3"/>
<rect x="184.5" y="776" width="8.0" height="8.0" fill="#4472C4" stroke="#1FA9EF" stroke-width="1.3"/>
<rect x="190.2" y="756.6" width="8.0" height="8.0" fill="#4472C4" stroke="#1FA9EF" stroke-width="1.3"/>
<rect x="196" y="747.5" width="8.0" height="8.0" fill="#4472C4" stroke="#1FA9EF" stroke-width="1.3"/>
<rect x="201.7" y="761.5" width="8.0" height="8.0" fill="#4472C4" stroke="#1FA9EF" stroke-width="1.3"/>
<rect x="207.5" y="778" width="8.0" height="8.0" fill="#4472C4" stroke="#1FA9EF" stroke-width="1.3"/>
<rect x="213.3" y="769.2" width="8.0" height="8.0" fill="#4472C4" stroke="#1FA9EF" stroke-width="1.3"/>
<rect x="219" y="772.9" width="8.0" height="8.0" fill="#4472C4" stroke="#1FA9EF" stroke-width="1.3"/>
<rect x="224.8" y="774.5" width="8.0" height="8.0" fill="#4472C4" stroke="#1FA9EF" stroke-width="1.3"/>
<rect x="230.5" y="753.7" width="8.0" height="8.0" fill="#4472C4" stroke="#1FA9EF" stroke-width="1.3"/>
<rect x="236.3" y="749.1" width="8.0" height="8.0" fill="#4472C4" stroke="#1FA9EF" stroke-width="1.3"/>
<rect x="242.1" y="726.6" width="8.0" height="8.0" fill="#4472C4" stroke="#1FA9EF" stroke-width="1.3"/>
<rect x="247.8" y="729.9" width="8.0" height="8.0" fill="#4472C4" stroke="#1FA9EF" stroke-width="1.3"/>
<rect x="253.6" y="761.1" width="8.0" height="8.0" fill="#4472C4" stroke="#1FA9EF" stroke-width="1.3"/>
<rect x="259.3" y="740.3" width="8.0" height="8.0" fill="#4472C4" stroke="#1FA9EF" stroke-width="1.3"/>
<rect x="265.1" y="716.1" width="8.0" height="8.0" fill="#4472C4" stroke="#1FA9EF" stroke-width="1.3"/>
<rect x="270.9" y="716.9" width="8.0" height="8.0" fill="#4472C4" stroke="#1FA9EF" stroke-width="1.3"/>
<rect x="276.6" y="702.3" width="8.0" height="8.0" fill="#4472C4" stroke="#1FA9EF" stroke-width="1.3"/>
<rect x="282.4" y="700" width="8.0" height="8.0" fill="#4472C4" stroke="#1FA9EF" stroke-width="1.3"/>
<rect x="288.1" y="702.3" width="8.0" height="8.0" fill="#4472C4" stroke="#1FA9EF" stroke-width="1.3"/>
<rect x="293.9" y="711.2" width="8.0" height="8.0" fill="#4472C4" stroke="#1FA9EF" stroke-width="1.3"/>
<rect x="299.7" y="714.5" width="8.0" height="8.0" fill="#4472C4" stroke="#1FA9EF" stroke-width="1.3"/>
<rect x="305.4" y="743.3" width="8.0" height="8.0" fill="#4472C4" stroke="#1FA9EF" stroke-width="1.3"/>
<rect x="311.2" y="741.9" width="8.0" height="8.0" fill="#4472C4" stroke="#1FA9EF" stroke-width="1.3"/>
<rect x="316.9" y="727" width="8.0" height="8.0" fill="#4472C4" stroke="#1FA9EF" stroke-width="1.3"/>
<rect x="322.7" y="718.8" width="8.0" height="8.0" fill="#4472C4" stroke="#1FA9EF" stroke-width="1.3"/>
<rect x="328.5" y="726.4" width="8.0" height="8.0" fill="#4472C4" stroke="#1FA9EF" stroke-width="1.3"/>
<rect x="334.2" y="715.5" width="8.0" height="8.0" fill="#4472C4" stroke="#1FA9EF" stroke-width="1.3"/>
<rect x="340" y="724.6" width="8.0" height="8.0" fill="#4472C4" stroke="#1FA9EF" stroke-width="1.3"/>
<rect x="345.7" y="714.5" width="8.0" height="8.0" fill="#4472C4" stroke="#1FA9EF" stroke-width="1.3"/>
<rect x="351.5" y="720.2" width="8.0" height="8.0" fill="#4472C4" stroke="#1FA9EF" stroke-width="1.3"/>
<rect x="357.3" y="754.7" width="8.0" height="8.0" fill="#4472C4" stroke="#1FA9EF" stroke-width="1.3"/>
<rect x="363" y="766.7" width="8.0" height="8.0" fill="#4472C4" stroke="#1FA9EF" stroke-width="1.3"/>
<rect x="368.8" y="763.4" width="8.0" height="8.0" fill="#4472C4" stroke="#1FA9EF" stroke-width="1.3"/>
<rect x="374.5" y="745.2" width="8.0" height="8.0" fill="#4472C4" stroke="#1FA9EF" stroke-width="1.3"/>
<rect x="380.3" y="758.2" width="8.0" height="8.0" fill="#4472C4" stroke="#1FA9EF" stroke-width="1.3"/>
<rect x="386.1" y="759.5" width="8.0" height="8.0" fill="#4472C4" stroke="#1FA9EF" stroke-width="1.3"/>
<polyline points="56,770 61.7,760.3 67.5,765.1 73.3,765.1 79,772.3 84.8,766.8 90.5,768.4 96.3,775.4 102.1,750.2 107.8,775.4 113.6,766.1 119.3,787.6 125.1,788.6 130.9,778.1 136.6,768 142.4,769.4 148.1,753.5 153.9,755.8 159.7,754.8 165.4,751.5 171.2,743.8 176.9,751.5 182.7,748.2 188.5,752.1 194.2,765.5 200,751.5 205.7,773.2 211.5,777.5 217.3,772.3 223,763 228.8,750.2 234.5,745.9 240.3,766.1 246.1,757.7 251.8,752.7 257.6,751.5 263.3,752.1 269.1,771.9 274.9,756.6 280.6,748.6 286.4,745.1 292.1,738.7 297.9,747.3 303.7,748.8 309.4,748.8 315.2,749.2 320.9,736.8 326.7,731.9 332.5,741.4 338.2,753.5 344,762.2 349.7,763.5 355.5,759.7 361.3,759.7 367,760.6 372.8,768.4 378.5,781.4 384.3,768.8 390.1,766.8 395.8,765.5 401.6,771.3 407.3,773.2 413.1,776.2 418.9,776.9 424.6,791.1 430.4,783.7 436.1,774.6 441.9,775.2 447.7,775.2 453.4,771.9 459.2,779.5 464.9,784.7 470.7,788.6 476.5,773.2 482.2,779.8 488,783.7 493.7,775.6 499.5,776.9 505.3,778.9 511,777.9 516.8,781.8 522.5,779.8 528.3,777.9 534.1,750.7 539.8,778.3" fill="none" stroke="#ED7D31" stroke-width="1" stroke-linejoin="round" />
<path d="M56,765.7 l4.25,4.25 l-4.25,4.25 l-4.25,-4.25 z" fill="#FFC000" stroke="#ED7D31" stroke-width="1.15"/>
<path d="M61.7,756 l4.25,4.25 l-4.25,4.25 l-4.25,-4.25 z" fill="#FFC000" stroke="#ED7D31" stroke-width="1.15"/>
<path d="M67.5,760.9 l4.25,4.25 l-4.25,4.25 l-4.25,-4.25 z" fill="#FFC000" stroke="#ED7D31" stroke-width="1.15"/>
<path d="M73.3,760.9 l4.25,4.25 l-4.25,4.25 l-4.25,-4.25 z" fill="#FFC000" stroke="#ED7D31" stroke-width="1.15"/>
<path d="M79,768 l4.25,4.25 l-4.25,4.25 l-4.25,-4.25 z" fill="#FFC000" stroke="#ED7D31" stroke-width="1.15"/>
<path d="M84.8,762.6 l4.25,4.25 l-4.25,4.25 l-4.25,-4.25 z" fill="#FFC000" stroke="#ED7D31" stroke-width="1.15"/>
<path d="M90.5,764.1 l4.25,4.25 l-4.25,4.25 l-4.25,-4.25 z" fill="#FFC000" stroke="#ED7D31" stroke-width="1.15"/>
<path d="M96.3,771.1 l4.25,4.25 l-4.25,4.25 l-4.25,-4.25 z" fill="#FFC000" stroke="#ED7D31" stroke-width="1.15"/>
<path d="M102.1,745.9 l4.25,4.25 l-4.25,4.25 l-4.25,-4.25 z" fill="#FFC000" stroke="#ED7D31" stroke-width="1.15"/>
<path d="M107.8,771.1 l4.25,4.25 l-4.25,4.25 l-4.25,-4.25 z" fill="#FFC000" stroke="#ED7D31" stroke-width="1.15"/>
<path d="M113.6,761.8 l4.25,4.25 l-4.25,4.25 l-4.25,-4.25 z" fill="#FFC000" stroke="#ED7D31" stroke-width="1.15"/>
<path d="M119.3,783.4 l4.25,4.25 l-4.25,4.25 l-4.25,-4.25 z" fill="#FFC000" stroke="#ED7D31" stroke-width="1.15"/>
<path d="M125.1,784.3 l4.25,4.25 l-4.25,4.25 l-4.25,-4.25 z" fill="#FFC000" stroke="#ED7D31" stroke-width="1.15"/>
<path d="M130.9,773.8 l4.25,4.25 l-4.25,4.25 l-4.25,-4.25 z" fill="#FFC000" stroke="#ED7D31" stroke-width="1.15"/>
<path d="M136.6,763.8 l4.25,4.25 l-4.25,4.25 l-4.25,-4.25 z" fill="#FFC000" stroke="#ED7D31" stroke-width="1.15"/>
<path d="M142.4,765.1 l4.25,4.25 l-4.25,4.25 l-4.25,-4.25 z" fill="#FFC000" stroke="#ED7D31" stroke-width="1.15"/>
<path d="M148.1,749.2 l4.25,4.25 l-4.25,4.25 l-4.25,-4.25 z" fill="#FFC000" stroke="#ED7D31" stroke-width="1.15"/>
<path d="M153.9,751.5 l4.25,4.25 l-4.25,4.25 l-4.25,-4.25 z" fill="#FFC000" stroke="#ED7D31" stroke-width="1.15"/>
<path d="M159.7,750.6 l4.25,4.25 l-4.25,4.25 l-4.25,-4.25 z" fill="#FFC000" stroke="#ED7D31" stroke-width="1.15"/>
<path d="M165.4,747.3 l4.25,4.25 l-4.25,4.25 l-4.25,-4.25 z" fill="#FFC000" stroke="#ED7D31" stroke-width="1.15"/>
<path d="M171.2,739.5 l4.25,4.25 l-4.25,4.25 l-4.25,-4.25 z" fill="#FFC000" stroke="#ED7D31" stroke-width="1.15"/>
<path d="M176.9,747.3 l4.25,4.25 l-4.25,4.25 l-4.25,-4.25 z" fill="#FFC000" stroke="#ED7D31" stroke-width="1.15"/>
<path d="M182.7,744 l4.25,4.25 l-4.25,4.25 l-4.25,-4.25 z" fill="#FFC000" stroke="#ED7D31" stroke-width="1.15"/>
<path d="M188.5,747.9 l4.25,4.25 l-4.25,4.25 l-4.25,-4.25 z" fill="#FFC000" stroke="#ED7D31" stroke-width="1.15"/>
<path d="M194.2,761.2 l4.25,4.25 l-4.25,4.25 l-4.25,-4.25 z" fill="#FFC000" stroke="#ED7D31" stroke-width="1.15"/>
<path d="M200,747.3 l4.25,4.25 l-4.25,4.25 l-4.25,-4.25 z" fill="#FFC000" stroke="#ED7D31" stroke-width="1.15"/>
<path d="M205.7,769 l4.25,4.25 l-4.25,4.25 l-4.25,-4.25 z" fill="#FFC000" stroke="#ED7D31" stroke-width="1.15"/>
<path d="M211.5,773.3 l4.25,4.25 l-4.25,4.25 l-4.25,-4.25 z" fill="#FFC000" stroke="#ED7D31" stroke-width="1.15"/>
<path d="M217.3,768 l4.25,4.25 l-4.25,4.25 l-4.25,-4.25 z" fill="#FFC000" stroke="#ED7D31" stroke-width="1.15"/>
<path d="M223,758.7 l4.25,4.25 l-4.25,4.25 l-4.25,-4.25 z" fill="#FFC000" stroke="#ED7D31" stroke-width="1.15"/>
<path d="M228.8,745.9 l4.25,4.25 l-4.25,4.25 l-4.25,-4.25 z" fill="#FFC000" stroke="#ED7D31" stroke-width="1.15"/>
<path d="M234.5,741.6 l4.25,4.25 l-4.25,4.25 l-4.25,-4.25 z" fill="#FFC000" stroke="#ED7D31" stroke-width="1.15"/>
<path d="M240.3,761.8 l4.25,4.25 l-4.25,4.25 l-4.25,-4.25 z" fill="#FFC000" stroke="#ED7D31" stroke-width="1.15"/>
<path d="M246.1,753.5 l4.25,4.25 l-4.25,4.25 l-4.25,-4.25 z" fill="#FFC000" stroke="#ED7D31" stroke-width="1.15"/>
<path d="M251.8,748.4 l4.25,4.25 l-4.25,4.25 l-4.25,-4.25 z" fill="#FFC000" stroke="#ED7D31" stroke-width="1.15"/>
<path d="M257.6,747.3 l4.25,4.25 l-4.25,4.25 l-4.25,-4.25 z" fill="#FFC000" stroke="#ED7D31" stroke-width="1.15"/>
<path d="M263.3,747.9 l4.25,4.25 l-4.25,4.25 l-4.25,-4.25 z" fill="#FFC000" stroke="#ED7D31" stroke-width="1.15"/>
<path d="M269.1,767.6 l4.25,4.25 l-4.25,4.25 l-4.25,-4.25 z" fill="#FFC000" stroke="#ED7D31" stroke-width="1.15"/>
<path d="M274.9,752.3 l4.25,4.25 l-4.25,4.25 l-4.25,-4.25 z" fill="#FFC000" stroke="#ED7D31" stroke-width="1.15"/>
<path d="M280.6,744.4 l4.25,4.25 l-4.25,4.25 l-4.25,-4.25 z" fill="#FFC000" stroke="#ED7D31" stroke-width="1.15"/>
<path d="M286.4,740.9 l4.25,4.25 l-4.25,4.25 l-4.25,-4.25 z" fill="#FFC000" stroke="#ED7D31" stroke-width="1.15"/>
<path d="M292.1,734.5 l4.25,4.25 l-4.25,4.25 l-4.25,-4.25 z" fill="#FFC000" stroke="#ED7D31" stroke-width="1.15"/>
<path d="M297.9,743 l4.25,4.25 l-4.25,4.25 l-4.25,-4.25 z" fill="#FFC000" stroke="#ED7D31" stroke-width="1.15"/>
<path d="M303.7,744.6 l4.25,4.25 l-4.25,4.25 l-4.25,-4.25 z" fill="#FFC000" stroke="#ED7D31" stroke-width="1.15"/>
<path d="M309.4,744.6 l4.25,4.25 l-4.25,4.25 l-4.25,-4.25 z" fill="#FFC000" stroke="#ED7D31" stroke-width="1.15"/>
<path d="M315.2,744.9 l4.25,4.25 l-4.25,4.25 l-4.25,-4.25 z" fill="#FFC000" stroke="#ED7D31" stroke-width="1.15"/>
<path d="M320.9,732.5 l4.25,4.25 l-4.25,4.25 l-4.25,-4.25 z" fill="#FFC000" stroke="#ED7D31" stroke-width="1.15"/>
<path d="M326.7,727.7 l4.25,4.25 l-4.25,4.25 l-4.25,-4.25 z" fill="#FFC000" stroke="#ED7D31" stroke-width="1.15"/>
<path d="M332.5,737.2 l4.25,4.25 l-4.25,4.25 l-4.25,-4.25 z" fill="#FFC000" stroke="#ED7D31" stroke-width="1.15"/>
<path d="M338.2,749.2 l4.25,4.25 l-4.25,4.25 l-4.25,-4.25 z" fill="#FFC000" stroke="#ED7D31" stroke-width="1.15"/>
<path d="M344,757.9 l4.25,4.25 l-4.25,4.25 l-4.25,-4.25 z" fill="#FFC000" stroke="#ED7D31" stroke-width="1.15"/>
<path d="M349.7,759.3 l4.25,4.25 l-4.25,4.25 l-4.25,-4.25 z" fill="#FFC000" stroke="#ED7D31" stroke-width="1.15"/>
<path d="M355.5,755.4 l4.25,4.25 l-4.25,4.25 l-4.25,-4.25 z" fill="#FFC000" stroke="#ED7D31" stroke-width="1.15"/>
<path d="M361.3,755.4 l4.25,4.25 l-4.25,4.25 l-4.25,-4.25 z" fill="#FFC000" stroke="#ED7D31" stroke-width="1.15"/>
<path d="M367,756.4 l4.25,4.25 l-4.25,4.25 l-4.25,-4.25 z" fill="#FFC000" stroke="#ED7D31" stroke-width="1.15"/>
<path d="M372.8,764.1 l4.25,4.25 l-4.25,4.25 l-4.25,-4.25 z" fill="#FFC000" stroke="#ED7D31" stroke-width="1.15"/>
<path d="M378.5,777.1 l4.25,4.25 l-4.25,4.25 l-4.25,-4.25 z" fill="#FFC000" stroke="#ED7D31" stroke-width="1.15"/>
<path d="M384.3,764.5 l4.25,4.25 l-4.25,4.25 l-4.25,-4.25 z" fill="#FFC000" stroke="#ED7D31" stroke-width="1.15"/>
<path d="M390.1,762.6 l4.25,4.25 l-4.25,4.25 l-4.25,-4.25 z" fill="#FFC000" stroke="#ED7D31" stroke-width="1.15"/>
<path d="M395.8,761.2 l4.25,4.25 l-4.25,4.25 l-4.25,-4.25 z" fill="#FFC000" stroke="#ED7D31" stroke-width="1.15"/>
<path d="M401.6,767.1 l4.25,4.25 l-4.25,4.25 l-4.25,-4.25 z" fill="#FFC000" stroke="#ED7D31" stroke-width="1.15"/>
<path d="M407.3,769 l4.25,4.25 l-4.25,4.25 l-4.25,-4.25 z" fill="#FFC000" stroke="#ED7D31" stroke-width="1.15"/>
<path d="M413.1,771.9 l4.25,4.25 l-4.25,4.25 l-4.25,-4.25 z" fill="#FFC000" stroke="#ED7D31" stroke-width="1.15"/>
<path d="M418.9,772.7 l4.25,4.25 l-4.25,4.25 l-4.25,-4.25 z" fill="#FFC000" stroke="#ED7D31" stroke-width="1.15"/>
<path d="M424.6,786.8 l4.25,4.25 l-4.25,4.25 l-4.25,-4.25 z" fill="#FFC000" stroke="#ED7D31" stroke-width="1.15"/>
<path d="M430.4,779.5 l4.25,4.25 l-4.25,4.25 l-4.25,-4.25 z" fill="#FFC000" stroke="#ED7D31" stroke-width="1.15"/>
<path d="M436.1,770.4 l4.25,4.25 l-4.25,4.25 l-4.25,-4.25 z" fill="#FFC000" stroke="#ED7D31" stroke-width="1.15"/>
<path d="M441.9,770.9 l4.25,4.25 l-4.25,4.25 l-4.25,-4.25 z" fill="#FFC000" stroke="#ED7D31" stroke-width="1.15"/>
<path d="M447.7,770.9 l4.25,4.25 l-4.25,4.25 l-4.25,-4.25 z" fill="#FFC000" stroke="#ED7D31" stroke-width="1.15"/>
<path d="M453.4,767.6 l4.25,4.25 l-4.25,4.25 l-4.25,-4.25 z" fill="#FFC000" stroke="#ED7D31" stroke-width="1.15"/>
<path d="M459.2,775.2 l4.25,4.25 l-4.25,4.25 l-4.25,-4.25 z" fill="#FFC000" stroke="#ED7D31" stroke-width="1.15"/>
<path d="M464.9,780.4 l4.25,4.25 l-4.25,4.25 l-4.25,-4.25 z" fill="#FFC000" stroke="#ED7D31" stroke-width="1.15"/>
<path d="M470.7,784.3 l4.25,4.25 l-4.25,4.25 l-4.25,-4.25 z" fill="#FFC000" stroke="#ED7D31" stroke-width="1.15"/>
<path d="M476.5,769 l4.25,4.25 l-4.25,4.25 l-4.25,-4.25 z" fill="#FFC000" stroke="#ED7D31" stroke-width="1.15"/>
<path d="M482.2,775.6 l4.25,4.25 l-4.25,4.25 l-4.25,-4.25 z" fill="#FFC000" stroke="#ED7D31" stroke-width="1.15"/>
<path d="M488,779.5 l4.25,4.25 l-4.25,4.25 l-4.25,-4.25 z" fill="#FFC000" stroke="#ED7D31" stroke-width="1.15"/>
<path d="M493.7,771.3 l4.25,4.25 l-4.25,4.25 l-4.25,-4.25 z" fill="#FFC000" stroke="#ED7D31" stroke-width="1.15"/>
<path d="M499.5,772.7 l4.25,4.25 l-4.25,4.25 l-4.25,-4.25 z" fill="#FFC000" stroke="#ED7D31" stroke-width="1.15"/>
<path d="M505.3,774.6 l4.25,4.25 l-4.25,4.25 l-4.25,-4.25 z" fill="#FFC000" stroke="#ED7D31" stroke-width="1.15"/>
<path d="M511,773.7 l4.25,4.25 l-4.25,4.25 l-4.25,-4.25 z" fill="#FFC000" stroke="#ED7D31" stroke-width="1.15"/>
<path d="M516.8,777.5 l4.25,4.25 l-4.25,4.25 l-4.25,-4.25 z" fill="#FFC000" stroke="#ED7D31" stroke-width="1.15"/>
<path d="M522.5,775.6 l4.25,4.25 l-4.25,4.25 l-4.25,-4.25 z" fill="#FFC000" stroke="#ED7D31" stroke-width="1.15"/>
<path d="M528.3,773.7 l4.25,4.25 l-4.25,4.25 l-4.25,-4.25 z" fill="#FFC000" stroke="#ED7D31" stroke-width="1.15"/>
<path d="M534.1,746.5 l4.25,4.25 l-4.25,4.25 l-4.25,-4.25 z" fill="#FFC000" stroke="#ED7D31" stroke-width="1.15"/>
<path d="M539.8,774 l4.25,4.25 l-4.25,4.25 l-4.25,-4.25 z" fill="#FFC000" stroke="#ED7D31" stroke-width="1.15"/>
<polyline points="56,749.2 61.7,736.8 67.5,775.4 73.3,787.2 79,775.4 84.8,796.3 90.5,786.6 96.3,795 102.1,782.4 107.8,794.6 113.6,800.6 119.3,774.2 125.1,772.3 130.9,766.8 136.6,755.6 142.4,747.8 148.1,758.7 153.9,781.8 159.7,788.2 165.4,797.5 171.2,794.6 176.9,788.8 182.7,800.2 188.5,788.6 194.2,790.1 200,792.5 205.7,794.2 211.5,804.5 217.3,803.3 223,792.1 228.8,792.5 234.5,787.6 240.3,786.6 246.1,797.7 251.8,784.1 257.6,790.5 263.3,795.6 269.1,798.1 274.9,803.9 280.6,803.9 286.4,789.2 292.1,793.6 297.9,814.4 303.7,789.9 309.4,778.9 315.2,803.3 320.9,795.2 326.7,799.1 332.5,804.9 338.2,805.8 344,795.2 349.7,792.5 355.5,781.2 361.3,772.3 367,798.7 372.8,791.9 378.5,804.9 384.3,785.7 390.1,796.5 395.8,784.7 401.6,779.5 407.3,776.2 413.1,773.6 418.9,787 424.6,782.8 430.4,797.5 436.1,764.9 441.9,772.3 447.7,793.2 453.4,786.6 459.2,792.8 464.9,803.3 470.7,791.5 476.5,798.1 482.2,784.1 488,775 493.7,782.8 499.5,767.4 505.3,799.4 511,789.9 516.8,775 522.5,787.2 528.3,799.1 534.1,788.2 539.8,776 545.6,782.8 551.3,795.6 557.1,796.5 562.9,795.2 568.6,787.2 574.4,788.2 580.1,783.3 585.9,790.5 591.7,803.3 597.4,805.5 603.2,806.4 608.9,799.1 614.7,764.5 620.5,799.4 626.2,795.2 632,791.5 637.7,775.6 643.5,780.4 649.3,773.4 655,786.6 660.8,783.3 666.5,781.8 672.3,785.3 678.1,796.1" fill="none" stroke="#A5A5A5" stroke-width="0.8" stroke-linejoin="round" />
<circle cx="56" cy="749.2" r="3.3" fill="#00B050" stroke="#A5A5A5" stroke-width="0.9"/>
<circle cx="61.7" cy="736.8" r="3.3" fill="#00B050" stroke="#A5A5A5" stroke-width="0.9"/>
<circle cx="67.5" cy="775.4" r="3.3" fill="#00B050" stroke="#A5A5A5" stroke-width="0.9"/>
<circle cx="73.3" cy="787.2" r="3.3" fill="#00B050" stroke="#A5A5A5" stroke-width="0.9"/>
<circle cx="79" cy="775.4" r="3.3" fill="#00B050" stroke="#A5A5A5" stroke-width="0.9"/>
<circle cx="84.8" cy="796.3" r="3.3" fill="#00B050" stroke="#A5A5A5" stroke-width="0.9"/>
<circle cx="90.5" cy="786.6" r="3.3" fill="#00B050" stroke="#A5A5A5" stroke-width="0.9"/>
<circle cx="96.3" cy="795" r="3.3" fill="#00B050" stroke="#A5A5A5" stroke-width="0.9"/>
<circle cx="102.1" cy="782.4" r="3.3" fill="#00B050" stroke="#A5A5A5" stroke-width="0.9"/>
<circle cx="107.8" cy="794.6" r="3.3" fill="#00B050" stroke="#A5A5A5" stroke-width="0.9"/>
<circle cx="113.6" cy="800.6" r="3.3" fill="#00B050" stroke="#A5A5A5" stroke-width="0.9"/>
<circle cx="119.3" cy="774.2" r="3.3" fill="#00B050" stroke="#A5A5A5" stroke-width="0.9"/>
<circle cx="125.1" cy="772.3" r="3.3" fill="#00B050" stroke="#A5A5A5" stroke-width="0.9"/>
<circle cx="130.9" cy="766.8" r="3.3" fill="#00B050" stroke="#A5A5A5" stroke-width="0.9"/>
<circle cx="136.6" cy="755.6" r="3.3" fill="#00B050" stroke="#A5A5A5" stroke-width="0.9"/>
<circle cx="142.4" cy="747.8" r="3.3" fill="#00B050" stroke="#A5A5A5" stroke-width="0.9"/>
<circle cx="148.1" cy="758.7" r="3.3" fill="#00B050" stroke="#A5A5A5" stroke-width="0.9"/>
<circle cx="153.9" cy="781.8" r="3.3" fill="#00B050" stroke="#A5A5A5" stroke-width="0.9"/>
<circle cx="159.7" cy="788.2" r="3.3" fill="#00B050" stroke="#A5A5A5" stroke-width="0.9"/>
<circle cx="165.4" cy="797.5" r="3.3" fill="#00B050" stroke="#A5A5A5" stroke-width="0.9"/>
<circle cx="171.2" cy="794.6" r="3.3" fill="#00B050" stroke="#A5A5A5" stroke-width="0.9"/>
<circle cx="176.9" cy="788.8" r="3.3" fill="#00B050" stroke="#A5A5A5" stroke-width="0.9"/>
<circle cx="182.7" cy="800.2" r="3.3" fill="#00B050" stroke="#A5A5A5" stroke-width="0.9"/>
<circle cx="188.5" cy="788.6" r="3.3" fill="#00B050" stroke="#A5A5A5" stroke-width="0.9"/>
<circle cx="194.2" cy="790.1" r="3.3" fill="#00B050" stroke="#A5A5A5" stroke-width="0.9"/>
<circle cx="200" cy="792.5" r="3.3" fill="#00B050" stroke="#A5A5A5" stroke-width="0.9"/>
<circle cx="205.7" cy="794.2" r="3.3" fill="#00B050" stroke="#A5A5A5" stroke-width="0.9"/>
<circle cx="211.5" cy="804.5" r="3.3" fill="#00B050" stroke="#A5A5A5" stroke-width="0.9"/>
<circle cx="217.3" cy="803.3" r="3.3" fill="#00B050" stroke="#A5A5A5" stroke-width="0.9"/>
<circle cx="223" cy="792.1" r="3.3" fill="#00B050" stroke="#A5A5A5" stroke-width="0.9"/>
<circle cx="228.8" cy="792.5" r="3.3" fill="#00B050" stroke="#A5A5A5" stroke-width="0.9"/>
<circle cx="234.5" cy="787.6" r="3.3" fill="#00B050" stroke="#A5A5A5" stroke-width="0.9"/>
<circle cx="240.3" cy="786.6" r="3.3" fill="#00B050" stroke="#A5A5A5" stroke-width="0.9"/>
<circle cx="246.1" cy="797.7" r="3.3" fill="#00B050" stroke="#A5A5A5" stroke-width="0.9"/>
<circle cx="251.8" cy="784.1" r="3.3" fill="#00B050" stroke="#A5A5A5" stroke-width="0.9"/>
<circle cx="257.6" cy="790.5" r="3.3" fill="#00B050" stroke="#A5A5A5" stroke-width="0.9"/>
<circle cx="263.3" cy="795.6" r="3.3" fill="#00B050" stroke="#A5A5A5" stroke-width="0.9"/>
<circle cx="269.1" cy="798.1" r="3.3" fill="#00B050" stroke="#A5A5A5" stroke-width="0.9"/>
<circle cx="274.9" cy="803.9" r="3.3" fill="#00B050" stroke="#A5A5A5" stroke-width="0.9"/>
<circle cx="280.6" cy="803.9" r="3.3" fill="#00B050" stroke="#A5A5A5" stroke-width="0.9"/>
<circle cx="286.4" cy="789.2" r="3.3" fill="#00B050" stroke="#A5A5A5" stroke-width="0.9"/>
<circle cx="292.1" cy="793.6" r="3.3" fill="#00B050" stroke="#A5A5A5" stroke-width="0.9"/>
<circle cx="297.9" cy="814.4" r="3.3" fill="#00B050" stroke="#A5A5A5" stroke-width="0.9"/>
<circle cx="303.7" cy="789.9" r="3.3" fill="#00B050" stroke="#A5A5A5" stroke-width="0.9"/>
<circle cx="309.4" cy="778.9" r="3.3" fill="#00B050" stroke="#A5A5A5" stroke-width="0.9"/>
<circle cx="315.2" cy="803.3" r="3.3" fill="#00B050" stroke="#A5A5A5" stroke-width="0.9"/>
<circle cx="320.9" cy="795.2" r="3.3" fill="#00B050" stroke="#A5A5A5" stroke-width="0.9"/>
<circle cx="326.7" cy="799.1" r="3.3" fill="#00B050" stroke="#A5A5A5" stroke-width="0.9"/>
<circle cx="332.5" cy="804.9" r="3.3" fill="#00B050" stroke="#A5A5A5" stroke-width="0.9"/>
<circle cx="338.2" cy="805.8" r="3.3" fill="#00B050" stroke="#A5A5A5" stroke-width="0.9"/>
<circle cx="344" cy="795.2" r="3.3" fill="#00B050" stroke="#A5A5A5" stroke-width="0.9"/>
<circle cx="349.7" cy="792.5" r="3.3" fill="#00B050" stroke="#A5A5A5" stroke-width="0.9"/>
<circle cx="355.5" cy="781.2" r="3.3" fill="#00B050" stroke="#A5A5A5" stroke-width="0.9"/>
<circle cx="361.3" cy="772.3" r="3.3" fill="#00B050" stroke="#A5A5A5" stroke-width="0.9"/>
<circle cx="367" cy="798.7" r="3.3" fill="#00B050" stroke="#A5A5A5" stroke-width="0.9"/>
<circle cx="372.8" cy="791.9" r="3.3" fill="#00B050" stroke="#A5A5A5" stroke-width="0.9"/>
<circle cx="378.5" cy="804.9" r="3.3" fill="#00B050" stroke="#A5A5A5" stroke-width="0.9"/>
<circle cx="384.3" cy="785.7" r="3.3" fill="#00B050" stroke="#A5A5A5" stroke-width="0.9"/>
<circle cx="390.1" cy="796.5" r="3.3" fill="#00B050" stroke="#A5A5A5" stroke-width="0.9"/>
<circle cx="395.8" cy="784.7" r="3.3" fill="#00B050" stroke="#A5A5A5" stroke-width="0.9"/>
<circle cx="401.6" cy="779.5" r="3.3" fill="#00B050" stroke="#A5A5A5" stroke-width="0.9"/>
<circle cx="407.3" cy="776.2" r="3.3" fill="#00B050" stroke="#A5A5A5" stroke-width="0.9"/>
<circle cx="413.1" cy="773.6" r="3.3" fill="#00B050" stroke="#A5A5A5" stroke-width="0.9"/>
<circle cx="418.9" cy="787" r="3.3" fill="#00B050" stroke="#A5A5A5" stroke-width="0.9"/>
<circle cx="424.6" cy="782.8" r="3.3" fill="#00B050" stroke="#A5A5A5" stroke-width="0.9"/>
<circle cx="430.4" cy="797.5" r="3.3" fill="#00B050" stroke="#A5A5A5" stroke-width="0.9"/>
<circle cx="436.1" cy="764.9" r="3.3" fill="#00B050" stroke="#A5A5A5" stroke-width="0.9"/>
<circle cx="441.9" cy="772.3" r="3.3" fill="#00B050" stroke="#A5A5A5" stroke-width="0.9"/>
<circle cx="447.7" cy="793.2" r="3.3" fill="#00B050" stroke="#A5A5A5" stroke-width="0.9"/>
<circle cx="453.4" cy="786.6" r="3.3" fill="#00B050" stroke="#A5A5A5" stroke-width="0.9"/>
<circle cx="459.2" cy="792.8" r="3.3" fill="#00B050" stroke="#A5A5A5" stroke-width="0.9"/>
<circle cx="464.9" cy="803.3" r="3.3" fill="#00B050" stroke="#A5A5A5" stroke-width="0.9"/>
<circle cx="470.7" cy="791.5" r="3.3" fill="#00B050" stroke="#A5A5A5" stroke-width="0.9"/>
<circle cx="476.5" cy="798.1" r="3.3" fill="#00B050" stroke="#A5A5A5" stroke-width="0.9"/>
<circle cx="482.2" cy="784.1" r="3.3" fill="#00B050" stroke="#A5A5A5" stroke-width="0.9"/>
<circle cx="488" cy="775" r="3.3" fill="#00B050" stroke="#A5A5A5" stroke-width="0.9"/>
<circle cx="493.7" cy="782.8" r="3.3" fill="#00B050" stroke="#A5A5A5" stroke-width="0.9"/>
<circle cx="499.5" cy="767.4" r="3.3" fill="#00B050" stroke="#A5A5A5" stroke-width="0.9"/>
<circle cx="505.3" cy="799.4" r="3.3" fill="#00B050" stroke="#A5A5A5" stroke-width="0.9"/>
<circle cx="511" cy="789.9" r="3.3" fill="#00B050" stroke="#A5A5A5" stroke-width="0.9"/>
<circle cx="516.8" cy="775" r="3.3" fill="#00B050" stroke="#A5A5A5" stroke-width="0.9"/>
<circle cx="522.5" cy="787.2" r="3.3" fill="#00B050" stroke="#A5A5A5" stroke-width="0.9"/>
<circle cx="528.3" cy="799.1" r="3.3" fill="#00B050" stroke="#A5A5A5" stroke-width="0.9"/>
<circle cx="534.1" cy="788.2" r="3.3" fill="#00B050" stroke="#A5A5A5" stroke-width="0.9"/>
<circle cx="539.8" cy="776" r="3.3" fill="#00B050" stroke="#A5A5A5" stroke-width="0.9"/>
<circle cx="545.6" cy="782.8" r="3.3" fill="#00B050" stroke="#A5A5A5" stroke-width="0.9"/>
<circle cx="551.3" cy="795.6" r="3.3" fill="#00B050" stroke="#A5A5A5" stroke-width="0.9"/>
<circle cx="557.1" cy="796.5" r="3.3" fill="#00B050" stroke="#A5A5A5" stroke-width="0.9"/>
<circle cx="562.9" cy="795.2" r="3.3" fill="#00B050" stroke="#A5A5A5" stroke-width="0.9"/>
<circle cx="568.6" cy="787.2" r="3.3" fill="#00B050" stroke="#A5A5A5" stroke-width="0.9"/>
<circle cx="574.4" cy="788.2" r="3.3" fill="#00B050" stroke="#A5A5A5" stroke-width="0.9"/>
<circle cx="580.1" cy="783.3" r="3.3" fill="#00B050" stroke="#A5A5A5" stroke-width="0.9"/>
<circle cx="585.9" cy="790.5" r="3.3" fill="#00B050" stroke="#A5A5A5" stroke-width="0.9"/>
<circle cx="591.7" cy="803.3" r="3.3" fill="#00B050" stroke="#A5A5A5" stroke-width="0.9"/>
<circle cx="597.4" cy="805.5" r="3.3" fill="#00B050" stroke="#A5A5A5" stroke-width="0.9"/>
<circle cx="603.2" cy="806.4" r="3.3" fill="#00B050" stroke="#A5A5A5" stroke-width="0.9"/>
<circle cx="608.9" cy="799.1" r="3.3" fill="#00B050" stroke="#A5A5A5" stroke-width="0.9"/>
<circle cx="614.7" cy="764.5" r="3.3" fill="#00B050" stroke="#A5A5A5" stroke-width="0.9"/>
<circle cx="620.5" cy="799.4" r="3.3" fill="#00B050" stroke="#A5A5A5" stroke-width="0.9"/>
<circle cx="626.2" cy="795.2" r="3.3" fill="#00B050" stroke="#A5A5A5" stroke-width="0.9"/>
<circle cx="632" cy="791.5" r="3.3" fill="#00B050" stroke="#A5A5A5" stroke-width="0.9"/>
<circle cx="637.7" cy="775.6" r="3.3" fill="#00B050" stroke="#A5A5A5" stroke-width="0.9"/>
<circle cx="643.5" cy="780.4" r="3.3" fill="#00B050" stroke="#A5A5A5" stroke-width="0.9"/>
<circle cx="649.3" cy="773.4" r="3.3" fill="#00B050" stroke="#A5A5A5" stroke-width="0.9"/>
<circle cx="655" cy="786.6" r="3.3" fill="#00B050" stroke="#A5A5A5" stroke-width="0.9"/>
<circle cx="660.8" cy="783.3" r="3.3" fill="#00B050" stroke="#A5A5A5" stroke-width="0.9"/>
<circle cx="666.5" cy="781.8" r="3.3" fill="#00B050" stroke="#A5A5A5" stroke-width="0.9"/>
<circle cx="672.3" cy="785.3" r="3.3" fill="#00B050" stroke="#A5A5A5" stroke-width="0.9"/>
<circle cx="678.1" cy="796.1" r="3.3" fill="#00B050" stroke="#A5A5A5" stroke-width="0.9"/>
<polyline points="56,782.8 61.7,773.2 67.5,768.4 73.3,772.3 79,758.3 84.8,783.7 90.5,770 96.3,753.7 102.1,766.1 107.8,780.8 113.6,785.3 119.3,778.3 125.1,788.6 130.9,780.8 136.6,782.2 142.4,776.4 148.1,764.9 153.9,756.4 159.7,745.7 165.4,744.9 171.2,766.1 176.9,761 182.7,779.5 188.5,780.8 194.2,783.7 200,766.8 205.7,775.2 211.5,791.5 217.3,744.9 223,746.3 228.8,762 234.5,757.7 240.3,772.3 246.1,762.6 251.8,771.9 257.6,772.9 263.3,745.9 269.1,715.2 274.9,736.8 280.6,713.7 286.4,743.4 292.1,747.6 297.9,724.8 303.7,711.8 309.4,734.3 315.2,734.8 320.9,711.4 326.7,721.5 332.5,736.8 338.2,740.5 344,735.8 349.7,716.6 355.5,747.8 361.3,716.6 367,725.7 372.8,733.3 378.5,707.9 384.3,715 390.1,705 395.8,719.1 401.6,754 407.3,776.9 413.1,756 418.9,742.8 424.6,740.5 430.4,738.7 436.1,745.9 441.9,756.6 447.7,735.8 453.4,765.5 459.2,766.8 464.9,758.7 470.7,764.5 476.5,731 482.2,741.4 488,757.1 493.7,735.8 499.5,736.8 505.3,768.4 511,741.4 516.8,740.5 522.5,736.8 528.3,726.5 534.1,746.3 539.8,740.5 545.6,761.6 551.3,747.8 557.1,750.7 562.9,758.1 568.6,761 574.4,761 580.1,760.3 585.9,738.7 591.7,761 597.4,771.3 603.2,750.2 608.9,766.8 614.7,770.7 620.5,743.4 626.2,745.7 632,762.2 637.7,758.7" fill="none" stroke="#FFC000" stroke-width="1.0" stroke-linejoin="round" />
<path d="M56,778.6 L60.2,787 L51.8,787 z" fill="#747070" stroke="#353232" stroke-width="1.0" stroke-linejoin="miter"/>
<path d="M61.7,769 L65.9,777.5 L57.5,777.5 z" fill="#747070" stroke="#353232" stroke-width="1.0" stroke-linejoin="miter"/>
<path d="M67.5,764.2 L71.7,772.6 L63.3,772.6 z" fill="#747070" stroke="#353232" stroke-width="1.0" stroke-linejoin="miter"/>
<path d="M73.3,768.1 L77.5,776.5 L69.1,776.5 z" fill="#747070" stroke="#353232" stroke-width="1.0" stroke-linejoin="miter"/>
<path d="M79,754.1 L83.2,762.5 L74.8,762.5 z" fill="#747070" stroke="#353232" stroke-width="1.0" stroke-linejoin="miter"/>
<path d="M84.8,779.5 L89,787.9 L80.6,787.9 z" fill="#747070" stroke="#353232" stroke-width="1.0" stroke-linejoin="miter"/>
<path d="M90.5,765.8 L94.7,774.2 L86.3,774.2 z" fill="#747070" stroke="#353232" stroke-width="1.0" stroke-linejoin="miter"/>
<path d="M96.3,749.5 L100.5,757.9 L92.1,757.9 z" fill="#747070" stroke="#353232" stroke-width="1.0" stroke-linejoin="miter"/>
<path d="M102.1,761.9 L106.3,770.3 L97.9,770.3 z" fill="#747070" stroke="#353232" stroke-width="1.0" stroke-linejoin="miter"/>
<path d="M107.8,776.6 L112,785 L103.6,785 z" fill="#747070" stroke="#353232" stroke-width="1.0" stroke-linejoin="miter"/>
<path d="M113.6,781.1 L117.8,789.5 L109.4,789.5 z" fill="#747070" stroke="#353232" stroke-width="1.0" stroke-linejoin="miter"/>
<path d="M119.3,774.1 L123.5,782.5 L115.1,782.5 z" fill="#747070" stroke="#353232" stroke-width="1.0" stroke-linejoin="miter"/>
<path d="M125.1,784.4 L129.3,792.8 L120.9,792.8 z" fill="#747070" stroke="#353232" stroke-width="1.0" stroke-linejoin="miter"/>
<path d="M130.9,776.6 L135.1,785 L126.7,785 z" fill="#747070" stroke="#353232" stroke-width="1.0" stroke-linejoin="miter"/>
<path d="M136.6,778 L140.8,786.4 L132.4,786.4 z" fill="#747070" stroke="#353232" stroke-width="1.0" stroke-linejoin="miter"/>
<path d="M142.4,772.2 L146.6,780.6 L138.2,780.6 z" fill="#747070" stroke="#353232" stroke-width="1.0" stroke-linejoin="miter"/>
<path d="M148.1,760.7 L152.3,769.1 L143.9,769.1 z" fill="#747070" stroke="#353232" stroke-width="1.0" stroke-linejoin="miter"/>
<path d="M153.9,752.2 L158.1,760.6 L149.7,760.6 z" fill="#747070" stroke="#353232" stroke-width="1.0" stroke-linejoin="miter"/>
<path d="M159.7,741.5 L163.9,749.9 L155.5,749.9 z" fill="#747070" stroke="#353232" stroke-width="1.0" stroke-linejoin="miter"/>
<path d="M165.4,740.7 L169.6,749.1 L161.2,749.1 z" fill="#747070" stroke="#353232" stroke-width="1.0" stroke-linejoin="miter"/>
<path d="M171.2,761.9 L175.4,770.3 L167,770.3 z" fill="#747070" stroke="#353232" stroke-width="1.0" stroke-linejoin="miter"/>
<path d="M176.9,756.8 L181.1,765.2 L172.7,765.2 z" fill="#747070" stroke="#353232" stroke-width="1.0" stroke-linejoin="miter"/>
<path d="M182.7,775.3 L186.9,783.7 L178.5,783.7 z" fill="#747070" stroke="#353232" stroke-width="1.0" stroke-linejoin="miter"/>
<path d="M188.5,776.6 L192.7,785 L184.3,785 z" fill="#747070" stroke="#353232" stroke-width="1.0" stroke-linejoin="miter"/>
<path d="M194.2,779.5 L198.4,787.9 L190,787.9 z" fill="#747070" stroke="#353232" stroke-width="1.0" stroke-linejoin="miter"/>
<path d="M200,762.6 L204.2,771 L195.8,771 z" fill="#747070" stroke="#353232" stroke-width="1.0" stroke-linejoin="miter"/>
<path d="M205.7,771 L209.9,779.4 L201.5,779.4 z" fill="#747070" stroke="#353232" stroke-width="1.0" stroke-linejoin="miter"/>
<path d="M211.5,787.3 L215.7,795.7 L207.3,795.7 z" fill="#747070" stroke="#353232" stroke-width="1.0" stroke-linejoin="miter"/>
<path d="M217.3,740.7 L221.5,749.1 L213.1,749.1 z" fill="#747070" stroke="#353232" stroke-width="1.0" stroke-linejoin="miter"/>
<path d="M223,742.1 L227.2,750.5 L218.8,750.5 z" fill="#747070" stroke="#353232" stroke-width="1.0" stroke-linejoin="miter"/>
<path d="M228.8,757.8 L233,766.2 L224.6,766.2 z" fill="#747070" stroke="#353232" stroke-width="1.0" stroke-linejoin="miter"/>
<path d="M234.5,753.5 L238.7,761.9 L230.3,761.9 z" fill="#747070" stroke="#353232" stroke-width="1.0" stroke-linejoin="miter"/>
<path d="M240.3,768.1 L244.5,776.5 L236.1,776.5 z" fill="#747070" stroke="#353232" stroke-width="1.0" stroke-linejoin="miter"/>
<path d="M246.1,758.4 L250.3,766.8 L241.9,766.8 z" fill="#747070" stroke="#353232" stroke-width="1.0" stroke-linejoin="miter"/>
<path d="M251.8,767.7 L256,776.1 L247.6,776.1 z" fill="#747070" stroke="#353232" stroke-width="1.0" stroke-linejoin="miter"/>
<path d="M257.6,768.7 L261.8,777.1 L253.4,777.1 z" fill="#747070" stroke="#353232" stroke-width="1.0" stroke-linejoin="miter"/>
<path d="M263.3,741.7 L267.5,750.1 L259.1,750.1 z" fill="#747070" stroke="#353232" stroke-width="1.0" stroke-linejoin="miter"/>
<path d="M269.1,711 L273.3,719.4 L264.9,719.4 z" fill="#747070" stroke="#353232" stroke-width="1.0" stroke-linejoin="miter"/>
<path d="M274.9,732.6 L279.1,741 L270.7,741 z" fill="#747070" stroke="#353232" stroke-width="1.0" stroke-linejoin="miter"/>
<path d="M280.6,709.5 L284.8,717.9 L276.4,717.9 z" fill="#747070" stroke="#353232" stroke-width="1.0" stroke-linejoin="miter"/>
<path d="M286.4,739.2 L290.6,747.6 L282.2,747.6 z" fill="#747070" stroke="#353232" stroke-width="1.0" stroke-linejoin="miter"/>
<path d="M292.1,743.4 L296.3,751.8 L287.9,751.8 z" fill="#747070" stroke="#353232" stroke-width="1.0" stroke-linejoin="miter"/>
<path d="M297.9,720.5 L302.1,729 L293.7,729 z" fill="#747070" stroke="#353232" stroke-width="1.0" stroke-linejoin="miter"/>
<path d="M303.7,707.6 L307.9,716 L299.5,716 z" fill="#747070" stroke="#353232" stroke-width="1.0" stroke-linejoin="miter"/>
<path d="M309.4,730.1 L313.6,738.5 L305.2,738.5 z" fill="#747070" stroke="#353232" stroke-width="1.0" stroke-linejoin="miter"/>
<path d="M315.2,730.6 L319.4,739 L311,739 z" fill="#747070" stroke="#353232" stroke-width="1.0" stroke-linejoin="miter"/>
<path d="M320.9,707.2 L325.1,715.6 L316.7,715.6 z" fill="#747070" stroke="#353232" stroke-width="1.0" stroke-linejoin="miter"/>
<path d="M326.7,717.3 L330.9,725.7 L322.5,725.7 z" fill="#747070" stroke="#353232" stroke-width="1.0" stroke-linejoin="miter"/>
<path d="M332.5,732.6 L336.7,741 L328.3,741 z" fill="#747070" stroke="#353232" stroke-width="1.0" stroke-linejoin="miter"/>
<path d="M338.2,736.3 L342.4,744.7 L334,744.7 z" fill="#747070" stroke="#353232" stroke-width="1.0" stroke-linejoin="miter"/>
<path d="M344,731.6 L348.2,740 L339.8,740 z" fill="#747070" stroke="#353232" stroke-width="1.0" stroke-linejoin="miter"/>
<path d="M349.7,712.4 L353.9,720.8 L345.5,720.8 z" fill="#747070" stroke="#353232" stroke-width="1.0" stroke-linejoin="miter"/>
<path d="M355.5,743.6 L359.7,752 L351.3,752 z" fill="#747070" stroke="#353232" stroke-width="1.0" stroke-linejoin="miter"/>
<path d="M361.3,712.4 L365.5,720.8 L357.1,720.8 z" fill="#747070" stroke="#353232" stroke-width="1.0" stroke-linejoin="miter"/>
<path d="M367,721.5 L371.2,729.9 L362.8,729.9 z" fill="#747070" stroke="#353232" stroke-width="1.0" stroke-linejoin="miter"/>
<path d="M372.8,729.1 L377,737.5 L368.6,737.5 z" fill="#747070" stroke="#353232" stroke-width="1.0" stroke-linejoin="miter"/>
<path d="M378.5,703.7 L382.7,712.1 L374.3,712.1 z" fill="#747070" stroke="#353232" stroke-width="1.0" stroke-linejoin="miter"/>
<path d="M384.3,710.8 L388.5,719.2 L380.1,719.2 z" fill="#747070" stroke="#353232" stroke-width="1.0" stroke-linejoin="miter"/>
<path d="M390.1,700.8 L394.3,709.2 L385.9,709.2 z" fill="#747070" stroke="#353232" stroke-width="1.0" stroke-linejoin="miter"/>
<path d="M395.8,714.9 L400,723.3 L391.6,723.3 z" fill="#747070" stroke="#353232" stroke-width="1.0" stroke-linejoin="miter"/>
<path d="M401.6,749.8 L405.8,758.2 L397.4,758.2 z" fill="#747070" stroke="#353232" stroke-width="1.0" stroke-linejoin="miter"/>
<path d="M407.3,772.7 L411.5,781.1 L403.1,781.1 z" fill="#747070" stroke="#353232" stroke-width="1.0" stroke-linejoin="miter"/>
<path d="M413.1,751.8 L417.3,760.2 L408.9,760.2 z" fill="#747070" stroke="#353232" stroke-width="1.0" stroke-linejoin="miter"/>
<path d="M418.9,738.6 L423.1,747 L414.7,747 z" fill="#747070" stroke="#353232" stroke-width="1.0" stroke-linejoin="miter"/>
<path d="M424.6,736.3 L428.8,744.7 L420.4,744.7 z" fill="#747070" stroke="#353232" stroke-width="1.0" stroke-linejoin="miter"/>
<path d="M430.4,734.5 L434.6,742.9 L426.2,742.9 z" fill="#747070" stroke="#353232" stroke-width="1.0" stroke-linejoin="miter"/>
<path d="M436.1,741.7 L440.3,750.1 L431.9,750.1 z" fill="#747070" stroke="#353232" stroke-width="1.0" stroke-linejoin="miter"/>
<path d="M441.9,752.4 L446.1,760.8 L437.7,760.8 z" fill="#747070" stroke="#353232" stroke-width="1.0" stroke-linejoin="miter"/>
<path d="M447.7,731.6 L451.9,740 L443.5,740 z" fill="#747070" stroke="#353232" stroke-width="1.0" stroke-linejoin="miter"/>
<path d="M453.4,761.3 L457.6,769.7 L449.2,769.7 z" fill="#747070" stroke="#353232" stroke-width="1.0" stroke-linejoin="miter"/>
<path d="M459.2,762.6 L463.4,771 L455,771 z" fill="#747070" stroke="#353232" stroke-width="1.0" stroke-linejoin="miter"/>
<path d="M464.9,754.5 L469.1,762.9 L460.7,762.9 z" fill="#747070" stroke="#353232" stroke-width="1.0" stroke-linejoin="miter"/>
<path d="M470.7,760.3 L474.9,768.7 L466.5,768.7 z" fill="#747070" stroke="#353232" stroke-width="1.0" stroke-linejoin="miter"/>
<path d="M476.5,726.8 L480.7,735.2 L472.3,735.2 z" fill="#747070" stroke="#353232" stroke-width="1.0" stroke-linejoin="miter"/>
<path d="M482.2,737.2 L486.4,745.6 L478,745.6 z" fill="#747070" stroke="#353232" stroke-width="1.0" stroke-linejoin="miter"/>
<path d="M488,752.9 L492.2,761.3 L483.8,761.3 z" fill="#747070" stroke="#353232" stroke-width="1.0" stroke-linejoin="miter"/>
<path d="M493.7,731.6 L497.9,740 L489.5,740 z" fill="#747070" stroke="#353232" stroke-width="1.0" stroke-linejoin="miter"/>
<path d="M499.5,732.6 L503.7,741 L495.3,741 z" fill="#747070" stroke="#353232" stroke-width="1.0" stroke-linejoin="miter"/>
<path d="M505.3,764.2 L509.5,772.6 L501.1,772.6 z" fill="#747070" stroke="#353232" stroke-width="1.0" stroke-linejoin="miter"/>
<path d="M511,737.2 L515.2,745.6 L506.8,745.6 z" fill="#747070" stroke="#353232" stroke-width="1.0" stroke-linejoin="miter"/>
<path d="M516.8,736.3 L521,744.7 L512.6,744.7 z" fill="#747070" stroke="#353232" stroke-width="1.0" stroke-linejoin="miter"/>
<path d="M522.5,732.6 L526.7,741 L518.3,741 z" fill="#747070" stroke="#353232" stroke-width="1.0" stroke-linejoin="miter"/>
<path d="M528.3,722.3 L532.5,730.7 L524.1,730.7 z" fill="#747070" stroke="#353232" stroke-width="1.0" stroke-linejoin="miter"/>
<path d="M534.1,742.1 L538.3,750.5 L529.9,750.5 z" fill="#747070" stroke="#353232" stroke-width="1.0" stroke-linejoin="miter"/>
<path d="M539.8,736.3 L544,744.7 L535.6,744.7 z" fill="#747070" stroke="#353232" stroke-width="1.0" stroke-linejoin="miter"/>
<path d="M545.6,757.4 L549.8,765.8 L541.4,765.8 z" fill="#747070" stroke="#353232" stroke-width="1.0" stroke-linejoin="miter"/>
<path d="M551.3,743.6 L555.5,752 L547.1,752 z" fill="#747070" stroke="#353232" stroke-width="1.0" stroke-linejoin="miter"/>
<path d="M557.1,746.5 L561.3,754.9 L552.9,754.9 z" fill="#747070" stroke="#353232" stroke-width="1.0" stroke-linejoin="miter"/>
<path d="M562.9,753.9 L567.1,762.3 L558.7,762.3 z" fill="#747070" stroke="#353232" stroke-width="1.0" stroke-linejoin="miter"/>
<path d="M568.6,756.8 L572.8,765.2 L564.4,765.2 z" fill="#747070" stroke="#353232" stroke-width="1.0" stroke-linejoin="miter"/>
<path d="M574.4,756.8 L578.6,765.2 L570.2,765.2 z" fill="#747070" stroke="#353232" stroke-width="1.0" stroke-linejoin="miter"/>
<path d="M580.1,756.1 L584.3,764.5 L575.9,764.5 z" fill="#747070" stroke="#353232" stroke-width="1.0" stroke-linejoin="miter"/>
<path d="M585.9,734.5 L590.1,742.9 L581.7,742.9 z" fill="#747070" stroke="#353232" stroke-width="1.0" stroke-linejoin="miter"/>
<path d="M591.7,756.8 L595.9,765.2 L587.5,765.2 z" fill="#747070" stroke="#353232" stroke-width="1.0" stroke-linejoin="miter"/>
<path d="M597.4,767.1 L601.6,775.5 L593.2,775.5 z" fill="#747070" stroke="#353232" stroke-width="1.0" stroke-linejoin="miter"/>
<path d="M603.2,746 L607.4,754.4 L599,754.4 z" fill="#747070" stroke="#353232" stroke-width="1.0" stroke-linejoin="miter"/>
<path d="M608.9,762.6 L613.1,771 L604.7,771 z" fill="#747070" stroke="#353232" stroke-width="1.0" stroke-linejoin="miter"/>
<path d="M614.7,766.5 L618.9,774.9 L610.5,774.9 z" fill="#747070" stroke="#353232" stroke-width="1.0" stroke-linejoin="miter"/>
<path d="M620.5,739.2 L624.7,747.6 L616.3,747.6 z" fill="#747070" stroke="#353232" stroke-width="1.0" stroke-linejoin="miter"/>
<path d="M626.2,741.5 L630.4,749.9 L622,749.9 z" fill="#747070" stroke="#353232" stroke-width="1.0" stroke-linejoin="miter"/>
<path d="M632,758 L636.2,766.4 L627.8,766.4 z" fill="#747070" stroke="#353232" stroke-width="1.0" stroke-linejoin="miter"/>
<path d="M637.7,754.5 L641.9,762.9 L633.5,762.9 z" fill="#747070" stroke="#353232" stroke-width="1.0" stroke-linejoin="miter"/>
</g>
</svg>
</body></html>
